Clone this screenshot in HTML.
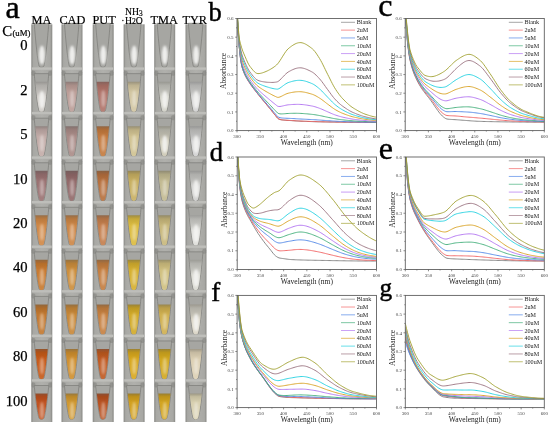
<!DOCTYPE html>
<html><head><meta charset="utf-8"><style>
html,body{margin:0;padding:0;background:#fff;}
body{width:550px;height:425px;overflow:hidden;font-family:"Liberation Serif", serif;}
svg{display:block;will-change:transform;}
</style></head><body>
<svg width="550" height="425" viewBox="0 0 550 425">
<rect width="550" height="425" fill="#fff"/>
<defs>
<linearGradient id="colg" x1="0" x2="1" y1="0" y2="0"><stop offset="0" stop-color="#878783"/><stop offset="0.1" stop-color="#a8a8a4"/><stop offset="0.5" stop-color="#b0b0ac"/><stop offset="0.9" stop-color="#a8a8a4"/><stop offset="1" stop-color="#878783"/></linearGradient>
<linearGradient id="tubeg" x1="0" x2="1" y1="0" y2="0"><stop offset="0" stop-color="#9a9a96"/><stop offset="0.3" stop-color="#b4b4b0"/><stop offset="0.6" stop-color="#c4c4c0"/><stop offset="1" stop-color="#9c9c98"/></linearGradient>
<radialGradient id="hl" cx="0.5" cy="0.5" r="0.5"><stop offset="0" stop-color="#ffffff" stop-opacity="0.85"/><stop offset="1" stop-color="#ffffff" stop-opacity="0"/></radialGradient>
<filter id="blur1" x="-50%" y="-50%" width="200%" height="200%"><feGaussianBlur stdDeviation="1.3"/></filter><filter id="blurP" x="0" y="0" width="100%" height="100%" filterUnits="userSpaceOnUse"><feGaussianBlur stdDeviation="0.55"/></filter>
</defs>
<g filter="url(#blurP)">
<rect x="31.3" y="24.3" width="21.0" height="397.7" fill="url(#colg)"/>
<rect x="61.5" y="24.3" width="21.0" height="397.7" fill="url(#colg)"/>
<rect x="92.7" y="24.3" width="21.0" height="397.7" fill="url(#colg)"/>
<rect x="123.6" y="24.3" width="21.0" height="397.7" fill="url(#colg)"/>
<rect x="154.2" y="24.3" width="21.0" height="397.7" fill="url(#colg)"/>
<rect x="185.5" y="24.3" width="21.0" height="397.7" fill="url(#colg)"/>
<g><path d="M34.20,23.30 L34.44,26.26 L34.68,29.21 L34.94,32.17 L35.19,35.13 L35.46,38.09 L35.74,41.04 L36.03,44.00 L36.33,46.96 L36.65,49.91 L36.98,52.87 L37.35,55.83 L37.74,58.79 L38.19,61.74 L38.74,64.70 C38.84,66.70 40.30,67.30 41.50,67.30 C42.70,67.30 44.16,66.70 44.26,64.70 L44.26,64.70 L44.81,61.74 L45.26,58.79 L45.65,55.83 L46.02,52.87 L46.35,49.91 L46.67,46.96 L46.97,44.00 L47.26,41.04 L47.54,38.09 L47.81,35.13 L48.06,32.17 L48.32,29.21 L48.56,26.26 L48.80,23.30 Z" fill="#a6a6a2" stroke="#7e7e7a" stroke-width="0.75"/><ellipse cx="41.9" cy="55.1" rx="3.0" ry="9.5" fill="#f6f6f4" opacity="0.9" filter="url(#blur1)"/></g>
<g><rect x="31.900000000000002" y="67.4" width="19.8" height="2.4" fill="#bebeba"/><rect x="31.6" y="70.7" width="3.8" height="5" rx="1.5" fill="#7e7e7a" opacity="0.5"/><rect x="48.199999999999996" y="70.7" width="3.8" height="5" rx="1.5" fill="#7e7e7a" opacity="0.5"/><path d="M34.20,73.65 L34.44,76.19 L34.68,78.74 L34.93,81.28 L35.18,83.82 L35.45,86.36 L35.72,88.91 L36.01,91.45 L36.31,93.99 L36.62,96.54 L36.95,99.08 L37.31,101.62 L37.70,104.16 L38.13,106.71 L38.66,109.25 C38.76,111.25 40.30,111.85 41.50,111.85 C42.70,111.85 44.24,111.25 44.34,109.25 L44.34,109.25 L44.87,106.71 L45.30,104.16 L45.69,101.62 L46.05,99.08 L46.38,96.54 L46.69,93.99 L46.99,91.45 L47.28,88.91 L47.55,86.36 L47.82,83.82 L48.07,81.28 L48.32,78.74 L48.56,76.19 L48.80,73.65 Z" fill="#a6a6a2" stroke="#7e7e7a" stroke-width="0.75"/><linearGradient id="lq1" x1="0" x2="0" y1="0" y2="1"><stop offset="0" stop-color="#969491"/><stop offset="0.12" stop-color="#afada9"/><stop offset="0.35" stop-color="#bfbcb8"/><stop offset="0.5" stop-color="#cfcbc7"/><stop offset="1" stop-color="#d3d0cc"/></linearGradient><path d="M35.26,81.65 L35.46,83.62 L35.67,85.59 L35.88,87.56 L36.09,89.54 L36.31,91.51 L36.54,93.48 L36.78,95.45 L37.03,97.42 L37.29,99.39 L37.57,101.36 L37.86,103.34 L38.18,105.31 L38.54,107.28 L38.96,109.25 C39.06,111.25 40.30,111.85 41.50,111.85 C42.70,111.85 43.94,111.25 44.04,109.25 L44.04,109.25 L44.46,107.28 L44.82,105.31 L45.14,103.34 L45.43,101.36 L45.71,99.39 L45.97,97.42 L46.22,95.45 L46.46,93.48 L46.69,91.51 L46.91,89.54 L47.12,87.56 L47.33,85.59 L47.54,83.62 L47.74,81.65 Z" fill="url(#lq1)"/><ellipse cx="41.9" cy="99.7" rx="3.0" ry="9" fill="#f6f6f4" opacity="0.85" filter="url(#blur1)"/></g>
<g><rect x="31.900000000000002" y="111.9" width="19.8" height="2.4" fill="#bebeba"/><rect x="31.6" y="115.2" width="3.8" height="5" rx="1.5" fill="#7e7e7a" opacity="0.5"/><rect x="48.199999999999996" y="115.2" width="3.8" height="5" rx="1.5" fill="#7e7e7a" opacity="0.5"/><path d="M34.20,118.20 L34.44,120.74 L34.68,123.29 L34.93,125.83 L35.18,128.37 L35.45,130.91 L35.72,133.46 L36.01,136.00 L36.31,138.54 L36.62,141.09 L36.95,143.63 L37.31,146.17 L37.70,148.71 L38.13,151.26 L38.66,153.80 C38.76,155.80 40.30,156.40 41.50,156.40 C42.70,156.40 44.24,155.80 44.34,153.80 L44.34,153.80 L44.87,151.26 L45.30,148.71 L45.69,146.17 L46.05,143.63 L46.38,141.09 L46.69,138.54 L46.99,136.00 L47.28,133.46 L47.55,130.91 L47.82,128.37 L48.07,125.83 L48.32,123.29 L48.56,120.74 L48.80,118.20 Z" fill="#a6a6a2" stroke="#7e7e7a" stroke-width="0.75"/><linearGradient id="lq2" x1="0" x2="0" y1="0" y2="1"><stop offset="0" stop-color="#8f8380"/><stop offset="0.12" stop-color="#ae9a97"/><stop offset="0.35" stop-color="#c2aca8"/><stop offset="0.5" stop-color="#c2aca8"/><stop offset="1" stop-color="#c8b4b0"/></linearGradient><path d="M35.26,126.20 L35.46,128.17 L35.67,130.14 L35.88,132.11 L36.09,134.09 L36.31,136.06 L36.54,138.03 L36.78,140.00 L37.03,141.97 L37.29,143.94 L37.57,145.91 L37.86,147.89 L38.18,149.86 L38.54,151.83 L38.96,153.80 C39.06,155.80 40.30,156.40 41.50,156.40 C42.70,156.40 43.94,155.80 44.04,153.80 L44.04,153.80 L44.46,151.83 L44.82,149.86 L45.14,147.89 L45.43,145.91 L45.71,143.94 L45.97,141.97 L46.22,140.00 L46.46,138.03 L46.69,136.06 L46.91,134.09 L47.12,132.11 L47.33,130.14 L47.54,128.17 L47.74,126.20 Z" fill="url(#lq2)"/><ellipse cx="41.9" cy="143.2" rx="2.2" ry="8.5" fill="#e3d9d7" opacity="0.7" filter="url(#blur1)"/></g>
<g><rect x="31.900000000000002" y="156.4" width="19.8" height="2.4" fill="#bebeba"/><rect x="31.6" y="159.7" width="3.8" height="5" rx="1.5" fill="#7e7e7a" opacity="0.5"/><rect x="48.199999999999996" y="159.7" width="3.8" height="5" rx="1.5" fill="#7e7e7a" opacity="0.5"/><path d="M34.20,162.75 L34.44,165.29 L34.68,167.84 L34.93,170.38 L35.18,172.92 L35.45,175.46 L35.72,178.01 L36.01,180.55 L36.31,183.09 L36.62,185.64 L36.95,188.18 L37.31,190.72 L37.70,193.26 L38.13,195.81 L38.66,198.35 C38.76,200.35 40.30,200.95 41.50,200.95 C42.70,200.95 44.24,200.35 44.34,198.35 L44.34,198.35 L44.87,195.81 L45.30,193.26 L45.69,190.72 L46.05,188.18 L46.38,185.64 L46.69,183.09 L46.99,180.55 L47.28,178.01 L47.55,175.46 L47.82,172.92 L48.07,170.38 L48.32,167.84 L48.56,165.29 L48.80,162.75 Z" fill="#a6a6a2" stroke="#7e7e7a" stroke-width="0.75"/><linearGradient id="lq3" x1="0" x2="0" y1="0" y2="1"><stop offset="0" stop-color="#786261"/><stop offset="0.12" stop-color="#8a6666"/><stop offset="0.35" stop-color="#9a7272"/><stop offset="0.5" stop-color="#9a7272"/><stop offset="1" stop-color="#a48080"/></linearGradient><path d="M35.26,170.75 L35.46,172.72 L35.67,174.69 L35.88,176.66 L36.09,178.64 L36.31,180.61 L36.54,182.58 L36.78,184.55 L37.03,186.52 L37.29,188.49 L37.57,190.46 L37.86,192.44 L38.18,194.41 L38.54,196.38 L38.96,198.35 C39.06,200.35 40.30,200.95 41.50,200.95 C42.70,200.95 43.94,200.35 44.04,198.35 L44.04,198.35 L44.46,196.38 L44.82,194.41 L45.14,192.44 L45.43,190.46 L45.71,188.49 L45.97,186.52 L46.22,184.55 L46.46,182.58 L46.69,180.61 L46.91,178.64 L47.12,176.66 L47.33,174.69 L47.54,172.72 L47.74,170.75 Z" fill="url(#lq3)"/><ellipse cx="41.9" cy="187.7" rx="2.2" ry="8.5" fill="#d1bfbf" opacity="0.7" filter="url(#blur1)"/></g>
<g><rect x="31.900000000000002" y="201.0" width="19.8" height="2.4" fill="#bebeba"/><rect x="31.6" y="204.3" width="3.8" height="5" rx="1.5" fill="#7e7e7a" opacity="0.5"/><rect x="48.199999999999996" y="204.3" width="3.8" height="5" rx="1.5" fill="#7e7e7a" opacity="0.5"/><path d="M34.20,207.30 L34.44,209.84 L34.68,212.39 L34.93,214.93 L35.18,217.47 L35.45,220.01 L35.72,222.56 L36.01,225.10 L36.31,227.64 L36.62,230.19 L36.95,232.73 L37.31,235.27 L37.70,237.81 L38.13,240.36 L38.66,242.90 C38.76,244.90 40.30,245.50 41.50,245.50 C42.70,245.50 44.24,244.90 44.34,242.90 L44.34,242.90 L44.87,240.36 L45.30,237.81 L45.69,235.27 L46.05,232.73 L46.38,230.19 L46.69,227.64 L46.99,225.10 L47.28,222.56 L47.55,220.01 L47.82,217.47 L48.07,214.93 L48.32,212.39 L48.56,209.84 L48.80,207.30 Z" fill="#a6a6a2" stroke="#7e7e7a" stroke-width="0.75"/><linearGradient id="lq4" x1="0" x2="0" y1="0" y2="1"><stop offset="0" stop-color="#976f48"/><stop offset="0.12" stop-color="#bb7a3f"/><stop offset="0.35" stop-color="#d08846"/><stop offset="0.5" stop-color="#d08846"/><stop offset="1" stop-color="#d49358"/></linearGradient><path d="M35.26,215.30 L35.46,217.27 L35.67,219.24 L35.88,221.21 L36.09,223.19 L36.31,225.16 L36.54,227.13 L36.78,229.10 L37.03,231.07 L37.29,233.04 L37.57,235.01 L37.86,236.99 L38.18,238.96 L38.54,240.93 L38.96,242.90 C39.06,244.90 40.30,245.50 41.50,245.50 C42.70,245.50 43.94,244.90 44.04,242.90 L44.04,242.90 L44.46,240.93 L44.82,238.96 L45.14,236.99 L45.43,235.01 L45.71,233.04 L45.97,231.07 L46.22,229.10 L46.46,227.13 L46.69,225.16 L46.91,223.19 L47.12,221.21 L47.33,219.24 L47.54,217.27 L47.74,215.30 Z" fill="url(#lq4)"/><ellipse cx="41.9" cy="232.3" rx="2.2" ry="8.5" fill="#e9c9ab" opacity="0.7" filter="url(#blur1)"/></g>
<g><rect x="31.900000000000002" y="245.5" width="19.8" height="2.4" fill="#bebeba"/><rect x="31.6" y="248.8" width="3.8" height="5" rx="1.5" fill="#7e7e7a" opacity="0.5"/><rect x="48.199999999999996" y="248.8" width="3.8" height="5" rx="1.5" fill="#7e7e7a" opacity="0.5"/><path d="M34.20,251.85 L34.44,254.39 L34.68,256.94 L34.93,259.48 L35.18,262.02 L35.45,264.56 L35.72,267.11 L36.01,269.65 L36.31,272.19 L36.62,274.74 L36.95,277.28 L37.31,279.82 L37.70,282.36 L38.13,284.91 L38.66,287.45 C38.76,289.45 40.30,290.05 41.50,290.05 C42.70,290.05 44.24,289.45 44.34,287.45 L44.34,287.45 L44.87,284.91 L45.30,282.36 L45.69,279.82 L46.05,277.28 L46.38,274.74 L46.69,272.19 L46.99,269.65 L47.28,267.11 L47.55,264.56 L47.82,262.02 L48.07,259.48 L48.32,256.94 L48.56,254.39 L48.80,251.85 Z" fill="#a6a6a2" stroke="#7e7e7a" stroke-width="0.75"/><linearGradient id="lq5" x1="0" x2="0" y1="0" y2="1"><stop offset="0" stop-color="#93663c"/><stop offset="0.12" stop-color="#b46d2b"/><stop offset="0.35" stop-color="#c87a30"/><stop offset="0.5" stop-color="#c87a30"/><stop offset="1" stop-color="#cd8744"/></linearGradient><path d="M35.26,259.85 L35.46,261.82 L35.67,263.79 L35.88,265.76 L36.09,267.74 L36.31,269.71 L36.54,271.68 L36.78,273.65 L37.03,275.62 L37.29,277.59 L37.57,279.56 L37.86,281.54 L38.18,283.51 L38.54,285.48 L38.96,287.45 C39.06,289.45 40.30,290.05 41.50,290.05 C42.70,290.05 43.94,289.45 44.04,287.45 L44.04,287.45 L44.46,285.48 L44.82,283.51 L45.14,281.54 L45.43,279.56 L45.71,277.59 L45.97,275.62 L46.22,273.65 L46.46,271.68 L46.69,269.71 L46.91,267.74 L47.12,265.76 L47.33,263.79 L47.54,261.82 L47.74,259.85 Z" fill="url(#lq5)"/><ellipse cx="41.9" cy="276.9" rx="2.2" ry="8.5" fill="#e6c3a1" opacity="0.7" filter="url(#blur1)"/></g>
<g><rect x="31.900000000000002" y="290.1" width="19.8" height="2.4" fill="#bebeba"/><rect x="31.6" y="293.4" width="3.8" height="5" rx="1.5" fill="#7e7e7a" opacity="0.5"/><rect x="48.199999999999996" y="293.4" width="3.8" height="5" rx="1.5" fill="#7e7e7a" opacity="0.5"/><path d="M34.20,296.40 L34.44,298.94 L34.68,301.49 L34.93,304.03 L35.18,306.57 L35.45,309.11 L35.72,311.66 L36.01,314.20 L36.31,316.74 L36.62,319.29 L36.95,321.83 L37.31,324.37 L37.70,326.91 L38.13,329.46 L38.66,332.00 C38.76,334.00 40.30,334.60 41.50,334.60 C42.70,334.60 44.24,334.00 44.34,332.00 L44.34,332.00 L44.87,329.46 L45.30,326.91 L45.69,324.37 L46.05,321.83 L46.38,319.29 L46.69,316.74 L46.99,314.20 L47.28,311.66 L47.55,309.11 L47.82,306.57 L48.07,304.03 L48.32,301.49 L48.56,298.94 L48.80,296.40 Z" fill="#a6a6a2" stroke="#7e7e7a" stroke-width="0.75"/><linearGradient id="lq6" x1="0" x2="0" y1="0" y2="1"><stop offset="0" stop-color="#8f663c"/><stop offset="0.12" stop-color="#ae6c2b"/><stop offset="0.35" stop-color="#c27830"/><stop offset="0.5" stop-color="#c27830"/><stop offset="1" stop-color="#c88544"/></linearGradient><path d="M35.26,304.40 L35.46,306.37 L35.67,308.34 L35.88,310.31 L36.09,312.29 L36.31,314.26 L36.54,316.23 L36.78,318.20 L37.03,320.17 L37.29,322.14 L37.57,324.11 L37.86,326.09 L38.18,328.06 L38.54,330.03 L38.96,332.00 C39.06,334.00 40.30,334.60 41.50,334.60 C42.70,334.60 43.94,334.00 44.04,332.00 L44.04,332.00 L44.46,330.03 L44.82,328.06 L45.14,326.09 L45.43,324.11 L45.71,322.14 L45.97,320.17 L46.22,318.20 L46.46,316.23 L46.69,314.26 L46.91,312.29 L47.12,310.31 L47.33,308.34 L47.54,306.37 L47.74,304.40 Z" fill="url(#lq6)"/><ellipse cx="41.9" cy="321.4" rx="2.2" ry="8.5" fill="#e3c2a1" opacity="0.7" filter="url(#blur1)"/></g>
<g><rect x="31.900000000000002" y="334.6" width="19.8" height="2.4" fill="#bebeba"/><rect x="31.6" y="337.9" width="3.8" height="5" rx="1.5" fill="#7e7e7a" opacity="0.5"/><rect x="48.199999999999996" y="337.9" width="3.8" height="5" rx="1.5" fill="#7e7e7a" opacity="0.5"/><path d="M34.20,340.95 L34.44,343.49 L34.68,346.04 L34.93,348.58 L35.18,351.12 L35.45,353.66 L35.72,356.21 L36.01,358.75 L36.31,361.29 L36.62,363.84 L36.95,366.38 L37.31,368.92 L37.70,371.46 L38.13,374.01 L38.66,376.55 C38.76,378.55 40.30,379.15 41.50,379.15 C42.70,379.15 44.24,378.55 44.34,376.55 L44.34,376.55 L44.87,374.01 L45.30,371.46 L45.69,368.92 L46.05,366.38 L46.38,363.84 L46.69,361.29 L46.99,358.75 L47.28,356.21 L47.55,353.66 L47.82,351.12 L48.07,348.58 L48.32,346.04 L48.56,343.49 L48.80,340.95 Z" fill="#a6a6a2" stroke="#7e7e7a" stroke-width="0.75"/><linearGradient id="lq7" x1="0" x2="0" y1="0" y2="1"><stop offset="0" stop-color="#91542f"/><stop offset="0.12" stop-color="#b25117"/><stop offset="0.35" stop-color="#c65a1a"/><stop offset="0.5" stop-color="#c65a1a"/><stop offset="1" stop-color="#cb6a30"/></linearGradient><path d="M35.26,348.95 L35.46,350.92 L35.67,352.89 L35.88,354.86 L36.09,356.84 L36.31,358.81 L36.54,360.78 L36.78,362.75 L37.03,364.72 L37.29,366.69 L37.57,368.66 L37.86,370.64 L38.18,372.61 L38.54,374.58 L38.96,376.55 C39.06,378.55 40.30,379.15 41.50,379.15 C42.70,379.15 43.94,378.55 44.04,376.55 L44.04,376.55 L44.46,374.58 L44.82,372.61 L45.14,370.64 L45.43,368.66 L45.71,366.69 L45.97,364.72 L46.22,362.75 L46.46,360.78 L46.69,358.81 L46.91,356.84 L47.12,354.86 L47.33,352.89 L47.54,350.92 L47.74,348.95 Z" fill="url(#lq7)"/><ellipse cx="41.9" cy="365.9" rx="2.2" ry="8.5" fill="#e5b497" opacity="0.7" filter="url(#blur1)"/></g>
<g><rect x="31.900000000000002" y="379.2" width="19.8" height="2.4" fill="#bebeba"/><rect x="31.6" y="382.5" width="3.8" height="5" rx="1.5" fill="#7e7e7a" opacity="0.5"/><rect x="48.199999999999996" y="382.5" width="3.8" height="5" rx="1.5" fill="#7e7e7a" opacity="0.5"/><path d="M34.20,385.50 L34.43,387.74 L34.67,389.97 L34.92,392.21 L35.17,394.44 L35.44,396.68 L35.71,398.91 L35.99,401.15 L36.28,403.39 L36.59,405.62 L36.92,407.86 L37.27,410.09 L37.65,412.33 L38.08,414.56 L38.58,416.80 C38.68,418.80 40.30,419.40 41.50,419.40 C42.70,419.40 44.32,418.80 44.42,416.80 L44.42,416.80 L44.92,414.56 L45.35,412.33 L45.73,410.09 L46.08,407.86 L46.41,405.62 L46.72,403.39 L47.01,401.15 L47.29,398.91 L47.56,396.68 L47.83,394.44 L48.08,392.21 L48.33,389.97 L48.57,387.74 L48.80,385.50 Z" fill="#a6a6a2" stroke="#7e7e7a" stroke-width="0.75"/><linearGradient id="lq8" x1="0" x2="0" y1="0" y2="1"><stop offset="0" stop-color="#8e5033"/><stop offset="0.12" stop-color="#ac491c"/><stop offset="0.35" stop-color="#c05220"/><stop offset="0.5" stop-color="#c05220"/><stop offset="1" stop-color="#c66336"/></linearGradient><path d="M35.37,393.50 L35.56,395.16 L35.75,396.83 L35.96,398.49 L36.16,400.16 L36.38,401.82 L36.60,403.49 L36.83,405.15 L37.06,406.81 L37.31,408.48 L37.58,410.14 L37.86,411.81 L38.16,413.47 L38.50,415.14 L38.88,416.80 C38.98,418.80 40.30,419.40 41.50,419.40 C42.70,419.40 44.02,418.80 44.12,416.80 L44.12,416.80 L44.50,415.14 L44.84,413.47 L45.14,411.81 L45.42,410.14 L45.69,408.48 L45.94,406.81 L46.17,405.15 L46.40,403.49 L46.62,401.82 L46.84,400.16 L47.04,398.49 L47.25,396.83 L47.44,395.16 L47.63,393.50 Z" fill="url(#lq8)"/><ellipse cx="41.9" cy="410.5" rx="2.2" ry="8.5" fill="#e2b19a" opacity="0.7" filter="url(#blur1)"/></g>
<g><path d="M64.40,23.30 L64.64,26.26 L64.88,29.21 L65.14,32.17 L65.39,35.13 L65.66,38.09 L65.94,41.04 L66.23,44.00 L66.53,46.96 L66.85,49.91 L67.18,52.87 L67.55,55.83 L67.94,58.79 L68.39,61.74 L68.94,64.70 C69.04,66.70 70.50,67.30 71.70,67.30 C72.90,67.30 74.36,66.70 74.46,64.70 L74.46,64.70 L75.01,61.74 L75.46,58.79 L75.85,55.83 L76.22,52.87 L76.55,49.91 L76.87,46.96 L77.17,44.00 L77.46,41.04 L77.74,38.09 L78.01,35.13 L78.26,32.17 L78.52,29.21 L78.76,26.26 L79.00,23.30 Z" fill="#a6a6a2" stroke="#7e7e7a" stroke-width="0.75"/><ellipse cx="72.1" cy="55.1" rx="3.0" ry="9.5" fill="#f6f6f4" opacity="0.9" filter="url(#blur1)"/></g>
<g><rect x="62.1" y="67.4" width="19.8" height="2.4" fill="#bebeba"/><rect x="61.8" y="70.7" width="3.8" height="5" rx="1.5" fill="#7e7e7a" opacity="0.5"/><rect x="78.4" y="70.7" width="3.8" height="5" rx="1.5" fill="#7e7e7a" opacity="0.5"/><path d="M64.40,73.65 L64.64,76.19 L64.88,78.74 L65.13,81.28 L65.38,83.82 L65.65,86.36 L65.92,88.91 L66.21,91.45 L66.51,93.99 L66.82,96.54 L67.15,99.08 L67.51,101.62 L67.90,104.16 L68.33,106.71 L68.86,109.25 C68.96,111.25 70.50,111.85 71.70,111.85 C72.90,111.85 74.44,111.25 74.54,109.25 L74.54,109.25 L75.07,106.71 L75.50,104.16 L75.89,101.62 L76.25,99.08 L76.58,96.54 L76.89,93.99 L77.19,91.45 L77.48,88.91 L77.75,86.36 L78.02,83.82 L78.27,81.28 L78.52,78.74 L78.76,76.19 L79.00,73.65 Z" fill="#a6a6a2" stroke="#7e7e7a" stroke-width="0.75"/><linearGradient id="lq9" x1="0" x2="0" y1="0" y2="1"><stop offset="0" stop-color="#8c7b77"/><stop offset="0.12" stop-color="#a98e88"/><stop offset="0.35" stop-color="#bc9e98"/><stop offset="0.5" stop-color="#bc9e98"/><stop offset="1" stop-color="#c2a7a2"/></linearGradient><path d="M65.46,81.65 L65.66,83.62 L65.87,85.59 L66.08,87.56 L66.29,89.54 L66.51,91.51 L66.74,93.48 L66.98,95.45 L67.23,97.42 L67.49,99.39 L67.77,101.36 L68.06,103.34 L68.38,105.31 L68.74,107.28 L69.16,109.25 C69.26,111.25 70.50,111.85 71.70,111.85 C72.90,111.85 74.14,111.25 74.24,109.25 L74.24,109.25 L74.66,107.28 L75.02,105.31 L75.34,103.34 L75.63,101.36 L75.91,99.39 L76.17,97.42 L76.42,95.45 L76.66,93.48 L76.89,91.51 L77.11,89.54 L77.32,87.56 L77.53,85.59 L77.74,83.62 L77.94,81.65 Z" fill="url(#lq9)"/><ellipse cx="72.1" cy="98.7" rx="2.2" ry="8.5" fill="#e0d3d0" opacity="0.7" filter="url(#blur1)"/></g>
<g><rect x="62.1" y="111.9" width="19.8" height="2.4" fill="#bebeba"/><rect x="61.8" y="115.2" width="3.8" height="5" rx="1.5" fill="#7e7e7a" opacity="0.5"/><rect x="78.4" y="115.2" width="3.8" height="5" rx="1.5" fill="#7e7e7a" opacity="0.5"/><path d="M64.40,118.20 L64.64,120.74 L64.88,123.29 L65.13,125.83 L65.38,128.37 L65.65,130.91 L65.92,133.46 L66.21,136.00 L66.51,138.54 L66.82,141.09 L67.15,143.63 L67.51,146.17 L67.90,148.71 L68.33,151.26 L68.86,153.80 C68.96,155.80 70.50,156.40 71.70,156.40 C72.90,156.40 74.44,155.80 74.54,153.80 L74.54,153.80 L75.07,151.26 L75.50,148.71 L75.89,146.17 L76.25,143.63 L76.58,141.09 L76.89,138.54 L77.19,136.00 L77.48,133.46 L77.75,130.91 L78.02,128.37 L78.27,125.83 L78.52,123.29 L78.76,120.74 L79.00,118.20 Z" fill="#a6a6a2" stroke="#7e7e7a" stroke-width="0.75"/><linearGradient id="lq10" x1="0" x2="0" y1="0" y2="1"><stop offset="0" stop-color="#81716e"/><stop offset="0.12" stop-color="#997e7a"/><stop offset="0.35" stop-color="#aa8c88"/><stop offset="0.5" stop-color="#aa8c88"/><stop offset="1" stop-color="#b29793"/></linearGradient><path d="M65.46,126.20 L65.66,128.17 L65.87,130.14 L66.08,132.11 L66.29,134.09 L66.51,136.06 L66.74,138.03 L66.98,140.00 L67.23,141.97 L67.49,143.94 L67.77,145.91 L68.06,147.89 L68.38,149.86 L68.74,151.83 L69.16,153.80 C69.26,155.80 70.50,156.40 71.70,156.40 C72.90,156.40 74.14,155.80 74.24,153.80 L74.24,153.80 L74.66,151.83 L75.02,149.86 L75.34,147.89 L75.63,145.91 L75.91,143.94 L76.17,141.97 L76.42,140.00 L76.66,138.03 L76.89,136.06 L77.11,134.09 L77.32,132.11 L77.53,130.14 L77.74,128.17 L77.94,126.20 Z" fill="url(#lq10)"/><ellipse cx="72.1" cy="143.2" rx="2.2" ry="8.5" fill="#d8cbc9" opacity="0.7" filter="url(#blur1)"/></g>
<g><rect x="62.1" y="156.4" width="19.8" height="2.4" fill="#bebeba"/><rect x="61.8" y="159.7" width="3.8" height="5" rx="1.5" fill="#7e7e7a" opacity="0.5"/><rect x="78.4" y="159.7" width="3.8" height="5" rx="1.5" fill="#7e7e7a" opacity="0.5"/><path d="M64.40,162.75 L64.64,165.29 L64.88,167.84 L65.13,170.38 L65.38,172.92 L65.65,175.46 L65.92,178.01 L66.21,180.55 L66.51,183.09 L66.82,185.64 L67.15,188.18 L67.51,190.72 L67.90,193.26 L68.33,195.81 L68.86,198.35 C68.96,200.35 70.50,200.95 71.70,200.95 C72.90,200.95 74.44,200.35 74.54,198.35 L74.54,198.35 L75.07,195.81 L75.50,193.26 L75.89,190.72 L76.25,188.18 L76.58,185.64 L76.89,183.09 L77.19,180.55 L77.48,178.01 L77.75,175.46 L78.02,172.92 L78.27,170.38 L78.52,167.84 L78.76,165.29 L79.00,162.75 Z" fill="#a6a6a2" stroke="#7e7e7a" stroke-width="0.75"/><linearGradient id="lq11" x1="0" x2="0" y1="0" y2="1"><stop offset="0" stop-color="#745d5c"/><stop offset="0.12" stop-color="#835f5f"/><stop offset="0.35" stop-color="#926a6a"/><stop offset="0.5" stop-color="#926a6a"/><stop offset="1" stop-color="#9c7878"/></linearGradient><path d="M65.46,170.75 L65.66,172.72 L65.87,174.69 L66.08,176.66 L66.29,178.64 L66.51,180.61 L66.74,182.58 L66.98,184.55 L67.23,186.52 L67.49,188.49 L67.77,190.46 L68.06,192.44 L68.38,194.41 L68.74,196.38 L69.16,198.35 C69.26,200.35 70.50,200.95 71.70,200.95 C72.90,200.95 74.14,200.35 74.24,198.35 L74.24,198.35 L74.66,196.38 L75.02,194.41 L75.34,192.44 L75.63,190.46 L75.91,188.49 L76.17,186.52 L76.42,184.55 L76.66,182.58 L76.89,180.61 L77.11,178.64 L77.32,176.66 L77.53,174.69 L77.74,172.72 L77.94,170.75 Z" fill="url(#lq11)"/><ellipse cx="72.1" cy="187.7" rx="2.2" ry="8.5" fill="#cdbbbb" opacity="0.7" filter="url(#blur1)"/></g>
<g><rect x="62.1" y="201.0" width="19.8" height="2.4" fill="#bebeba"/><rect x="61.8" y="204.3" width="3.8" height="5" rx="1.5" fill="#7e7e7a" opacity="0.5"/><rect x="78.4" y="204.3" width="3.8" height="5" rx="1.5" fill="#7e7e7a" opacity="0.5"/><path d="M64.40,207.30 L64.64,209.84 L64.88,212.39 L65.13,214.93 L65.38,217.47 L65.65,220.01 L65.92,222.56 L66.21,225.10 L66.51,227.64 L66.82,230.19 L67.15,232.73 L67.51,235.27 L67.90,237.81 L68.33,240.36 L68.86,242.90 C68.96,244.90 70.50,245.50 71.70,245.50 C72.90,245.50 74.44,244.90 74.54,242.90 L74.54,242.90 L75.07,240.36 L75.50,237.81 L75.89,235.27 L76.25,232.73 L76.58,230.19 L76.89,227.64 L77.19,225.10 L77.48,222.56 L77.75,220.01 L78.02,217.47 L78.27,214.93 L78.52,212.39 L78.76,209.84 L79.00,207.30 Z" fill="#a6a6a2" stroke="#7e7e7a" stroke-width="0.75"/><linearGradient id="lq12" x1="0" x2="0" y1="0" y2="1"><stop offset="0" stop-color="#956d48"/><stop offset="0.12" stop-color="#b7783f"/><stop offset="0.35" stop-color="#cc8646"/><stop offset="0.5" stop-color="#cc8646"/><stop offset="1" stop-color="#d19258"/></linearGradient><path d="M65.46,215.30 L65.66,217.27 L65.87,219.24 L66.08,221.21 L66.29,223.19 L66.51,225.16 L66.74,227.13 L66.98,229.10 L67.23,231.07 L67.49,233.04 L67.77,235.01 L68.06,236.99 L68.38,238.96 L68.74,240.93 L69.16,242.90 C69.26,244.90 70.50,245.50 71.70,245.50 C72.90,245.50 74.14,244.90 74.24,242.90 L74.24,242.90 L74.66,240.93 L75.02,238.96 L75.34,236.99 L75.63,235.01 L75.91,233.04 L76.17,231.07 L76.42,229.10 L76.66,227.13 L76.89,225.16 L77.11,223.19 L77.32,221.21 L77.53,219.24 L77.74,217.27 L77.94,215.30 Z" fill="url(#lq12)"/><ellipse cx="72.1" cy="232.3" rx="2.2" ry="8.5" fill="#e8c8ab" opacity="0.7" filter="url(#blur1)"/></g>
<g><rect x="62.1" y="245.5" width="19.8" height="2.4" fill="#bebeba"/><rect x="61.8" y="248.8" width="3.8" height="5" rx="1.5" fill="#7e7e7a" opacity="0.5"/><rect x="78.4" y="248.8" width="3.8" height="5" rx="1.5" fill="#7e7e7a" opacity="0.5"/><path d="M64.40,251.85 L64.64,254.39 L64.88,256.94 L65.13,259.48 L65.38,262.02 L65.65,264.56 L65.92,267.11 L66.21,269.65 L66.51,272.19 L66.82,274.74 L67.15,277.28 L67.51,279.82 L67.90,282.36 L68.33,284.91 L68.86,287.45 C68.96,289.45 70.50,290.05 71.70,290.05 C72.90,290.05 74.44,289.45 74.54,287.45 L74.54,287.45 L75.07,284.91 L75.50,282.36 L75.89,279.82 L76.25,277.28 L76.58,274.74 L76.89,272.19 L77.19,269.65 L77.48,267.11 L77.75,264.56 L78.02,262.02 L78.27,259.48 L78.52,256.94 L78.76,254.39 L79.00,251.85 Z" fill="#a6a6a2" stroke="#7e7e7a" stroke-width="0.75"/><linearGradient id="lq13" x1="0" x2="0" y1="0" y2="1"><stop offset="0" stop-color="#957243"/><stop offset="0.12" stop-color="#b77f36"/><stop offset="0.35" stop-color="#cc8e3c"/><stop offset="0.5" stop-color="#cc8e3c"/><stop offset="1" stop-color="#d1994f"/></linearGradient><path d="M65.46,259.85 L65.66,261.82 L65.87,263.79 L66.08,265.76 L66.29,267.74 L66.51,269.71 L66.74,271.68 L66.98,273.65 L67.23,275.62 L67.49,277.59 L67.77,279.56 L68.06,281.54 L68.38,283.51 L68.74,285.48 L69.16,287.45 C69.26,289.45 70.50,290.05 71.70,290.05 C72.90,290.05 74.14,289.45 74.24,287.45 L74.24,287.45 L74.66,285.48 L75.02,283.51 L75.34,281.54 L75.63,279.56 L75.91,277.59 L76.17,275.62 L76.42,273.65 L76.66,271.68 L76.89,269.71 L77.11,267.74 L77.32,265.76 L77.53,263.79 L77.74,261.82 L77.94,259.85 Z" fill="url(#lq13)"/><ellipse cx="72.1" cy="276.9" rx="2.2" ry="8.5" fill="#e8cca7" opacity="0.7" filter="url(#blur1)"/></g>
<g><rect x="62.1" y="290.1" width="19.8" height="2.4" fill="#bebeba"/><rect x="61.8" y="293.4" width="3.8" height="5" rx="1.5" fill="#7e7e7a" opacity="0.5"/><rect x="78.4" y="293.4" width="3.8" height="5" rx="1.5" fill="#7e7e7a" opacity="0.5"/><path d="M64.40,296.40 L64.64,298.94 L64.88,301.49 L65.13,304.03 L65.38,306.57 L65.65,309.11 L65.92,311.66 L66.21,314.20 L66.51,316.74 L66.82,319.29 L67.15,321.83 L67.51,324.37 L67.90,326.91 L68.33,329.46 L68.86,332.00 C68.96,334.00 70.50,334.60 71.70,334.60 C72.90,334.60 74.44,334.00 74.54,332.00 L74.54,332.00 L75.07,329.46 L75.50,326.91 L75.89,324.37 L76.25,321.83 L76.58,319.29 L76.89,316.74 L77.19,314.20 L77.48,311.66 L77.75,309.11 L78.02,306.57 L78.27,304.03 L78.52,301.49 L78.76,298.94 L79.00,296.40 Z" fill="#a6a6a2" stroke="#7e7e7a" stroke-width="0.75"/><linearGradient id="lq14" x1="0" x2="0" y1="0" y2="1"><stop offset="0" stop-color="#936f41"/><stop offset="0.12" stop-color="#b47a32"/><stop offset="0.35" stop-color="#c88838"/><stop offset="0.5" stop-color="#c88838"/><stop offset="1" stop-color="#cd934b"/></linearGradient><path d="M65.46,304.40 L65.66,306.37 L65.87,308.34 L66.08,310.31 L66.29,312.29 L66.51,314.26 L66.74,316.23 L66.98,318.20 L67.23,320.17 L67.49,322.14 L67.77,324.11 L68.06,326.09 L68.38,328.06 L68.74,330.03 L69.16,332.00 C69.26,334.00 70.50,334.60 71.70,334.60 C72.90,334.60 74.14,334.00 74.24,332.00 L74.24,332.00 L74.66,330.03 L75.02,328.06 L75.34,326.09 L75.63,324.11 L75.91,322.14 L76.17,320.17 L76.42,318.20 L76.66,316.23 L76.89,314.26 L77.11,312.29 L77.32,310.31 L77.53,308.34 L77.74,306.37 L77.94,304.40 Z" fill="url(#lq14)"/><ellipse cx="72.1" cy="321.4" rx="2.2" ry="8.5" fill="#e6c9a5" opacity="0.7" filter="url(#blur1)"/></g>
<g><rect x="62.1" y="334.6" width="19.8" height="2.4" fill="#bebeba"/><rect x="61.8" y="337.9" width="3.8" height="5" rx="1.5" fill="#7e7e7a" opacity="0.5"/><rect x="78.4" y="337.9" width="3.8" height="5" rx="1.5" fill="#7e7e7a" opacity="0.5"/><path d="M64.40,340.95 L64.64,343.49 L64.88,346.04 L65.13,348.58 L65.38,351.12 L65.65,353.66 L65.92,356.21 L66.21,358.75 L66.51,361.29 L66.82,363.84 L67.15,366.38 L67.51,368.92 L67.90,371.46 L68.33,374.01 L68.86,376.55 C68.96,378.55 70.50,379.15 71.70,379.15 C72.90,379.15 74.44,378.55 74.54,376.55 L74.54,376.55 L75.07,374.01 L75.50,371.46 L75.89,368.92 L76.25,366.38 L76.58,363.84 L76.89,361.29 L77.19,358.75 L77.48,356.21 L77.75,353.66 L78.02,351.12 L78.27,348.58 L78.52,346.04 L78.76,343.49 L79.00,340.95 Z" fill="#a6a6a2" stroke="#7e7e7a" stroke-width="0.75"/><linearGradient id="lq15" x1="0" x2="0" y1="0" y2="1"><stop offset="0" stop-color="#97733c"/><stop offset="0.12" stop-color="#bb812b"/><stop offset="0.35" stop-color="#d09030"/><stop offset="0.5" stop-color="#d09030"/><stop offset="1" stop-color="#d49b44"/></linearGradient><path d="M65.46,348.95 L65.66,350.92 L65.87,352.89 L66.08,354.86 L66.29,356.84 L66.51,358.81 L66.74,360.78 L66.98,362.75 L67.23,364.72 L67.49,366.69 L67.77,368.66 L68.06,370.64 L68.38,372.61 L68.74,374.58 L69.16,376.55 C69.26,378.55 70.50,379.15 71.70,379.15 C72.90,379.15 74.14,378.55 74.24,376.55 L74.24,376.55 L74.66,374.58 L75.02,372.61 L75.34,370.64 L75.63,368.66 L75.91,366.69 L76.17,364.72 L76.42,362.75 L76.66,360.78 L76.89,358.81 L77.11,356.84 L77.32,354.86 L77.53,352.89 L77.74,350.92 L77.94,348.95 Z" fill="url(#lq15)"/><ellipse cx="72.1" cy="365.9" rx="2.2" ry="8.5" fill="#e9cda1" opacity="0.7" filter="url(#blur1)"/></g>
<g><rect x="62.1" y="379.2" width="19.8" height="2.4" fill="#bebeba"/><rect x="61.8" y="382.5" width="3.8" height="5" rx="1.5" fill="#7e7e7a" opacity="0.5"/><rect x="78.4" y="382.5" width="3.8" height="5" rx="1.5" fill="#7e7e7a" opacity="0.5"/><path d="M64.40,385.50 L64.63,387.74 L64.87,389.97 L65.12,392.21 L65.37,394.44 L65.64,396.68 L65.91,398.91 L66.19,401.15 L66.48,403.39 L66.79,405.62 L67.12,407.86 L67.47,410.09 L67.85,412.33 L68.28,414.56 L68.78,416.80 C68.88,418.80 70.50,419.40 71.70,419.40 C72.90,419.40 74.52,418.80 74.62,416.80 L74.62,416.80 L75.12,414.56 L75.55,412.33 L75.93,410.09 L76.28,407.86 L76.61,405.62 L76.92,403.39 L77.21,401.15 L77.49,398.91 L77.76,396.68 L78.03,394.44 L78.28,392.21 L78.53,389.97 L78.77,387.74 L79.00,385.50 Z" fill="#a6a6a2" stroke="#7e7e7a" stroke-width="0.75"/><linearGradient id="lq16" x1="0" x2="0" y1="0" y2="1"><stop offset="0" stop-color="#97783c"/><stop offset="0.12" stop-color="#bb882b"/><stop offset="0.35" stop-color="#d09830"/><stop offset="0.5" stop-color="#d09830"/><stop offset="1" stop-color="#d4a244"/></linearGradient><path d="M65.57,393.50 L65.76,395.16 L65.95,396.83 L66.16,398.49 L66.36,400.16 L66.58,401.82 L66.80,403.49 L67.03,405.15 L67.26,406.81 L67.51,408.48 L67.78,410.14 L68.06,411.81 L68.36,413.47 L68.70,415.14 L69.08,416.80 C69.18,418.80 70.50,419.40 71.70,419.40 C72.90,419.40 74.22,418.80 74.32,416.80 L74.32,416.80 L74.70,415.14 L75.04,413.47 L75.34,411.81 L75.62,410.14 L75.89,408.48 L76.14,406.81 L76.37,405.15 L76.60,403.49 L76.82,401.82 L77.04,400.16 L77.24,398.49 L77.45,396.83 L77.64,395.16 L77.83,393.50 Z" fill="url(#lq16)"/><ellipse cx="72.1" cy="410.5" rx="2.2" ry="8.5" fill="#e9d0a1" opacity="0.7" filter="url(#blur1)"/></g>
<g><path d="M95.60,23.30 L95.84,26.26 L96.08,29.21 L96.34,32.17 L96.59,35.13 L96.86,38.09 L97.14,41.04 L97.43,44.00 L97.73,46.96 L98.05,49.91 L98.38,52.87 L98.75,55.83 L99.14,58.79 L99.59,61.74 L100.14,64.70 C100.24,66.70 101.70,67.30 102.90,67.30 C104.10,67.30 105.56,66.70 105.66,64.70 L105.66,64.70 L106.21,61.74 L106.66,58.79 L107.05,55.83 L107.42,52.87 L107.75,49.91 L108.07,46.96 L108.37,44.00 L108.66,41.04 L108.94,38.09 L109.21,35.13 L109.46,32.17 L109.72,29.21 L109.96,26.26 L110.20,23.30 Z" fill="#a6a6a2" stroke="#7e7e7a" stroke-width="0.75"/><ellipse cx="103.3" cy="55.1" rx="3.0" ry="9.5" fill="#f6f6f4" opacity="0.9" filter="url(#blur1)"/></g>
<g><rect x="93.3" y="67.4" width="19.8" height="2.4" fill="#bebeba"/><rect x="93.0" y="70.7" width="3.8" height="5" rx="1.5" fill="#7e7e7a" opacity="0.5"/><rect x="109.60000000000001" y="70.7" width="3.8" height="5" rx="1.5" fill="#7e7e7a" opacity="0.5"/><path d="M95.60,73.65 L95.84,76.19 L96.08,78.74 L96.33,81.28 L96.58,83.82 L96.85,86.36 L97.12,88.91 L97.41,91.45 L97.71,93.99 L98.02,96.54 L98.35,99.08 L98.71,101.62 L99.10,104.16 L99.53,106.71 L100.06,109.25 C100.16,111.25 101.70,111.85 102.90,111.85 C104.10,111.85 105.64,111.25 105.74,109.25 L105.74,109.25 L106.27,106.71 L106.70,104.16 L107.09,101.62 L107.45,99.08 L107.78,96.54 L108.09,93.99 L108.39,91.45 L108.68,88.91 L108.95,86.36 L109.22,83.82 L109.47,81.28 L109.72,78.74 L109.96,76.19 L110.20,73.65 Z" fill="#a6a6a2" stroke="#7e7e7a" stroke-width="0.75"/><linearGradient id="lq17" x1="0" x2="0" y1="0" y2="1"><stop offset="0" stop-color="#85635c"/><stop offset="0.12" stop-color="#9e685f"/><stop offset="0.35" stop-color="#b0746a"/><stop offset="0.5" stop-color="#b0746a"/><stop offset="1" stop-color="#b78178"/></linearGradient><path d="M96.66,81.65 L96.86,83.62 L97.07,85.59 L97.28,87.56 L97.49,89.54 L97.71,91.51 L97.94,93.48 L98.18,95.45 L98.43,97.42 L98.69,99.39 L98.97,101.36 L99.26,103.34 L99.58,105.31 L99.94,107.28 L100.36,109.25 C100.46,111.25 101.70,111.85 102.90,111.85 C104.10,111.85 105.34,111.25 105.44,109.25 L105.44,109.25 L105.86,107.28 L106.22,105.31 L106.54,103.34 L106.83,101.36 L107.11,99.39 L107.37,97.42 L107.62,95.45 L107.86,93.48 L108.09,91.51 L108.31,89.54 L108.52,87.56 L108.73,85.59 L108.94,83.62 L109.14,81.65 Z" fill="url(#lq17)"/><ellipse cx="103.3" cy="98.7" rx="2.2" ry="8.5" fill="#dbc0bb" opacity="0.7" filter="url(#blur1)"/></g>
<g><rect x="93.3" y="111.9" width="19.8" height="2.4" fill="#bebeba"/><rect x="93.0" y="115.2" width="3.8" height="5" rx="1.5" fill="#7e7e7a" opacity="0.5"/><rect x="109.60000000000001" y="115.2" width="3.8" height="5" rx="1.5" fill="#7e7e7a" opacity="0.5"/><path d="M95.60,118.20 L95.84,120.74 L96.08,123.29 L96.33,125.83 L96.58,128.37 L96.85,130.91 L97.12,133.46 L97.41,136.00 L97.71,138.54 L98.02,141.09 L98.35,143.63 L98.71,146.17 L99.10,148.71 L99.53,151.26 L100.06,153.80 C100.16,155.80 101.70,156.40 102.90,156.40 C104.10,156.40 105.64,155.80 105.74,153.80 L105.74,153.80 L106.27,151.26 L106.70,148.71 L107.09,146.17 L107.45,143.63 L107.78,141.09 L108.09,138.54 L108.39,136.00 L108.68,133.46 L108.95,130.91 L109.22,128.37 L109.47,125.83 L109.72,123.29 L109.96,120.74 L110.20,118.20 Z" fill="#a6a6a2" stroke="#7e7e7a" stroke-width="0.75"/><linearGradient id="lq18" x1="0" x2="0" y1="0" y2="1"><stop offset="0" stop-color="#906644"/><stop offset="0.12" stop-color="#b06d37"/><stop offset="0.35" stop-color="#c47a3e"/><stop offset="0.5" stop-color="#c47a3e"/><stop offset="1" stop-color="#c98751"/></linearGradient><path d="M96.66,126.20 L96.86,128.17 L97.07,130.14 L97.28,132.11 L97.49,134.09 L97.71,136.06 L97.94,138.03 L98.18,140.00 L98.43,141.97 L98.69,143.94 L98.97,145.91 L99.26,147.89 L99.58,149.86 L99.94,151.83 L100.36,153.80 C100.46,155.80 101.70,156.40 102.90,156.40 C104.10,156.40 105.34,155.80 105.44,153.80 L105.44,153.80 L105.86,151.83 L106.22,149.86 L106.54,147.89 L106.83,145.91 L107.11,143.94 L107.37,141.97 L107.62,140.00 L107.86,138.03 L108.09,136.06 L108.31,134.09 L108.52,132.11 L108.73,130.14 L108.94,128.17 L109.14,126.20 Z" fill="url(#lq18)"/><ellipse cx="103.3" cy="143.2" rx="2.2" ry="8.5" fill="#e4c3a8" opacity="0.7" filter="url(#blur1)"/></g>
<g><rect x="93.3" y="156.4" width="19.8" height="2.4" fill="#bebeba"/><rect x="93.0" y="159.7" width="3.8" height="5" rx="1.5" fill="#7e7e7a" opacity="0.5"/><rect x="109.60000000000001" y="159.7" width="3.8" height="5" rx="1.5" fill="#7e7e7a" opacity="0.5"/><path d="M95.60,162.75 L95.84,165.29 L96.08,167.84 L96.33,170.38 L96.58,172.92 L96.85,175.46 L97.12,178.01 L97.41,180.55 L97.71,183.09 L98.02,185.64 L98.35,188.18 L98.71,190.72 L99.10,193.26 L99.53,195.81 L100.06,198.35 C100.16,200.35 101.70,200.95 102.90,200.95 C104.10,200.95 105.64,200.35 105.74,198.35 L105.74,198.35 L106.27,195.81 L106.70,193.26 L107.09,190.72 L107.45,188.18 L107.78,185.64 L108.09,183.09 L108.39,180.55 L108.68,178.01 L108.95,175.46 L109.22,172.92 L109.47,170.38 L109.72,167.84 L109.96,165.29 L110.20,162.75 Z" fill="#a6a6a2" stroke="#7e7e7a" stroke-width="0.75"/><linearGradient id="lq19" x1="0" x2="0" y1="0" y2="1"><stop offset="0" stop-color="#886144"/><stop offset="0.12" stop-color="#a36437"/><stop offset="0.35" stop-color="#b6703e"/><stop offset="0.5" stop-color="#b6703e"/><stop offset="1" stop-color="#bd7e51"/></linearGradient><path d="M96.66,170.75 L96.86,172.72 L97.07,174.69 L97.28,176.66 L97.49,178.64 L97.71,180.61 L97.94,182.58 L98.18,184.55 L98.43,186.52 L98.69,188.49 L98.97,190.46 L99.26,192.44 L99.58,194.41 L99.94,196.38 L100.36,198.35 C100.46,200.35 101.70,200.95 102.90,200.95 C104.10,200.95 105.34,200.35 105.44,198.35 L105.44,198.35 L105.86,196.38 L106.22,194.41 L106.54,192.44 L106.83,190.46 L107.11,188.49 L107.37,186.52 L107.62,184.55 L107.86,182.58 L108.09,180.61 L108.31,178.64 L108.52,176.66 L108.73,174.69 L108.94,172.72 L109.14,170.75 Z" fill="url(#lq19)"/><ellipse cx="103.3" cy="187.7" rx="2.2" ry="8.5" fill="#debea8" opacity="0.7" filter="url(#blur1)"/></g>
<g><rect x="93.3" y="201.0" width="19.8" height="2.4" fill="#bebeba"/><rect x="93.0" y="204.3" width="3.8" height="5" rx="1.5" fill="#7e7e7a" opacity="0.5"/><rect x="109.60000000000001" y="204.3" width="3.8" height="5" rx="1.5" fill="#7e7e7a" opacity="0.5"/><path d="M95.60,207.30 L95.84,209.84 L96.08,212.39 L96.33,214.93 L96.58,217.47 L96.85,220.01 L97.12,222.56 L97.41,225.10 L97.71,227.64 L98.02,230.19 L98.35,232.73 L98.71,235.27 L99.10,237.81 L99.53,240.36 L100.06,242.90 C100.16,244.90 101.70,245.50 102.90,245.50 C104.10,245.50 105.64,244.90 105.74,242.90 L105.74,242.90 L106.27,240.36 L106.70,237.81 L107.09,235.27 L107.45,232.73 L107.78,230.19 L108.09,227.64 L108.39,225.10 L108.68,222.56 L108.95,220.01 L109.22,217.47 L109.47,214.93 L109.72,212.39 L109.96,209.84 L110.20,207.30 Z" fill="#a6a6a2" stroke="#7e7e7a" stroke-width="0.75"/><linearGradient id="lq20" x1="0" x2="0" y1="0" y2="1"><stop offset="0" stop-color="#90694c"/><stop offset="0.12" stop-color="#b07144"/><stop offset="0.35" stop-color="#c47e4c"/><stop offset="0.5" stop-color="#c47e4c"/><stop offset="1" stop-color="#c98a5d"/></linearGradient><path d="M96.66,215.30 L96.86,217.27 L97.07,219.24 L97.28,221.21 L97.49,223.19 L97.71,225.16 L97.94,227.13 L98.18,229.10 L98.43,231.07 L98.69,233.04 L98.97,235.01 L99.26,236.99 L99.58,238.96 L99.94,240.93 L100.36,242.90 C100.46,244.90 101.70,245.50 102.90,245.50 C104.10,245.50 105.34,244.90 105.44,242.90 L105.44,242.90 L105.86,240.93 L106.22,238.96 L106.54,236.99 L106.83,235.01 L107.11,233.04 L107.37,231.07 L107.62,229.10 L107.86,227.13 L108.09,225.16 L108.31,223.19 L108.52,221.21 L108.73,219.24 L108.94,217.27 L109.14,215.30 Z" fill="url(#lq20)"/><ellipse cx="103.3" cy="232.3" rx="2.2" ry="8.5" fill="#e4c4ae" opacity="0.7" filter="url(#blur1)"/></g>
<g><rect x="93.3" y="245.5" width="19.8" height="2.4" fill="#bebeba"/><rect x="93.0" y="248.8" width="3.8" height="5" rx="1.5" fill="#7e7e7a" opacity="0.5"/><rect x="109.60000000000001" y="248.8" width="3.8" height="5" rx="1.5" fill="#7e7e7a" opacity="0.5"/><path d="M95.60,251.85 L95.84,254.39 L96.08,256.94 L96.33,259.48 L96.58,262.02 L96.85,264.56 L97.12,267.11 L97.41,269.65 L97.71,272.19 L98.02,274.74 L98.35,277.28 L98.71,279.82 L99.10,282.36 L99.53,284.91 L100.06,287.45 C100.16,289.45 101.70,290.05 102.90,290.05 C104.10,290.05 105.64,289.45 105.74,287.45 L105.74,287.45 L106.27,284.91 L106.70,282.36 L107.09,279.82 L107.45,277.28 L107.78,274.74 L108.09,272.19 L108.39,269.65 L108.68,267.11 L108.95,264.56 L109.22,262.02 L109.47,259.48 L109.72,256.94 L109.96,254.39 L110.20,251.85 Z" fill="#a6a6a2" stroke="#7e7e7a" stroke-width="0.75"/><linearGradient id="lq21" x1="0" x2="0" y1="0" y2="1"><stop offset="0" stop-color="#906945"/><stop offset="0.12" stop-color="#b07139"/><stop offset="0.35" stop-color="#c47e40"/><stop offset="0.5" stop-color="#c47e40"/><stop offset="1" stop-color="#c98a53"/></linearGradient><path d="M96.66,259.85 L96.86,261.82 L97.07,263.79 L97.28,265.76 L97.49,267.74 L97.71,269.71 L97.94,271.68 L98.18,273.65 L98.43,275.62 L98.69,277.59 L98.97,279.56 L99.26,281.54 L99.58,283.51 L99.94,285.48 L100.36,287.45 C100.46,289.45 101.70,290.05 102.90,290.05 C104.10,290.05 105.34,289.45 105.44,287.45 L105.44,287.45 L105.86,285.48 L106.22,283.51 L106.54,281.54 L106.83,279.56 L107.11,277.59 L107.37,275.62 L107.62,273.65 L107.86,271.68 L108.09,269.71 L108.31,267.74 L108.52,265.76 L108.73,263.79 L108.94,261.82 L109.14,259.85 Z" fill="url(#lq21)"/><ellipse cx="103.3" cy="276.9" rx="2.2" ry="8.5" fill="#e4c4a9" opacity="0.7" filter="url(#blur1)"/></g>
<g><rect x="93.3" y="290.1" width="19.8" height="2.4" fill="#bebeba"/><rect x="93.0" y="293.4" width="3.8" height="5" rx="1.5" fill="#7e7e7a" opacity="0.5"/><rect x="109.60000000000001" y="293.4" width="3.8" height="5" rx="1.5" fill="#7e7e7a" opacity="0.5"/><path d="M95.60,296.40 L95.84,298.94 L96.08,301.49 L96.33,304.03 L96.58,306.57 L96.85,309.11 L97.12,311.66 L97.41,314.20 L97.71,316.74 L98.02,319.29 L98.35,321.83 L98.71,324.37 L99.10,326.91 L99.53,329.46 L100.06,332.00 C100.16,334.00 101.70,334.60 102.90,334.60 C104.10,334.60 105.64,334.00 105.74,332.00 L105.74,332.00 L106.27,329.46 L106.70,326.91 L107.09,324.37 L107.45,321.83 L107.78,319.29 L108.09,316.74 L108.39,314.20 L108.68,311.66 L108.95,309.11 L109.22,306.57 L109.47,304.03 L109.72,301.49 L109.96,298.94 L110.20,296.40 Z" fill="#a6a6a2" stroke="#7e7e7a" stroke-width="0.75"/><linearGradient id="lq22" x1="0" x2="0" y1="0" y2="1"><stop offset="0" stop-color="#916a45"/><stop offset="0.12" stop-color="#b27339"/><stop offset="0.35" stop-color="#c68040"/><stop offset="0.5" stop-color="#c68040"/><stop offset="1" stop-color="#cb8c53"/></linearGradient><path d="M96.66,304.40 L96.86,306.37 L97.07,308.34 L97.28,310.31 L97.49,312.29 L97.71,314.26 L97.94,316.23 L98.18,318.20 L98.43,320.17 L98.69,322.14 L98.97,324.11 L99.26,326.09 L99.58,328.06 L99.94,330.03 L100.36,332.00 C100.46,334.00 101.70,334.60 102.90,334.60 C104.10,334.60 105.34,334.00 105.44,332.00 L105.44,332.00 L105.86,330.03 L106.22,328.06 L106.54,326.09 L106.83,324.11 L107.11,322.14 L107.37,320.17 L107.62,318.20 L107.86,316.23 L108.09,314.26 L108.31,312.29 L108.52,310.31 L108.73,308.34 L108.94,306.37 L109.14,304.40 Z" fill="url(#lq22)"/><ellipse cx="103.3" cy="321.4" rx="2.2" ry="8.5" fill="#e5c5a9" opacity="0.7" filter="url(#blur1)"/></g>
<g><rect x="93.3" y="334.6" width="19.8" height="2.4" fill="#bebeba"/><rect x="93.0" y="337.9" width="3.8" height="5" rx="1.5" fill="#7e7e7a" opacity="0.5"/><rect x="109.60000000000001" y="337.9" width="3.8" height="5" rx="1.5" fill="#7e7e7a" opacity="0.5"/><path d="M95.60,340.95 L95.84,343.49 L96.08,346.04 L96.33,348.58 L96.58,351.12 L96.85,353.66 L97.12,356.21 L97.41,358.75 L97.71,361.29 L98.02,363.84 L98.35,366.38 L98.71,368.92 L99.10,371.46 L99.53,374.01 L100.06,376.55 C100.16,378.55 101.70,379.15 102.90,379.15 C104.10,379.15 105.64,378.55 105.74,376.55 L105.74,376.55 L106.27,374.01 L106.70,371.46 L107.09,368.92 L107.45,366.38 L107.78,363.84 L108.09,361.29 L108.39,358.75 L108.68,356.21 L108.95,353.66 L109.22,351.12 L109.47,348.58 L109.72,346.04 L109.96,343.49 L110.20,340.95 Z" fill="#a6a6a2" stroke="#7e7e7a" stroke-width="0.75"/><linearGradient id="lq23" x1="0" x2="0" y1="0" y2="1"><stop offset="0" stop-color="#8e5434"/><stop offset="0.12" stop-color="#ac511e"/><stop offset="0.35" stop-color="#c05a22"/><stop offset="0.5" stop-color="#c05a22"/><stop offset="1" stop-color="#c66a38"/></linearGradient><path d="M96.66,348.95 L96.86,350.92 L97.07,352.89 L97.28,354.86 L97.49,356.84 L97.71,358.81 L97.94,360.78 L98.18,362.75 L98.43,364.72 L98.69,366.69 L98.97,368.66 L99.26,370.64 L99.58,372.61 L99.94,374.58 L100.36,376.55 C100.46,378.55 101.70,379.15 102.90,379.15 C104.10,379.15 105.34,378.55 105.44,376.55 L105.44,376.55 L105.86,374.58 L106.22,372.61 L106.54,370.64 L106.83,368.66 L107.11,366.69 L107.37,364.72 L107.62,362.75 L107.86,360.78 L108.09,358.81 L108.31,356.84 L108.52,354.86 L108.73,352.89 L108.94,350.92 L109.14,348.95 Z" fill="url(#lq23)"/><ellipse cx="103.3" cy="365.9" rx="2.2" ry="8.5" fill="#e2b49b" opacity="0.7" filter="url(#blur1)"/></g>
<g><rect x="93.3" y="379.2" width="19.8" height="2.4" fill="#bebeba"/><rect x="93.0" y="382.5" width="3.8" height="5" rx="1.5" fill="#7e7e7a" opacity="0.5"/><rect x="109.60000000000001" y="382.5" width="3.8" height="5" rx="1.5" fill="#7e7e7a" opacity="0.5"/><path d="M95.60,385.50 L95.83,387.74 L96.07,389.97 L96.32,392.21 L96.57,394.44 L96.84,396.68 L97.11,398.91 L97.39,401.15 L97.68,403.39 L97.99,405.62 L98.32,407.86 L98.67,410.09 L99.05,412.33 L99.48,414.56 L99.98,416.80 C100.08,418.80 101.70,419.40 102.90,419.40 C104.10,419.40 105.72,418.80 105.82,416.80 L105.82,416.80 L106.32,414.56 L106.75,412.33 L107.13,410.09 L107.48,407.86 L107.81,405.62 L108.12,403.39 L108.41,401.15 L108.69,398.91 L108.96,396.68 L109.23,394.44 L109.48,392.21 L109.73,389.97 L109.97,387.74 L110.20,385.50 Z" fill="#a6a6a2" stroke="#7e7e7a" stroke-width="0.75"/><linearGradient id="lq24" x1="0" x2="0" y1="0" y2="1"><stop offset="0" stop-color="#8a5034"/><stop offset="0.12" stop-color="#a5491e"/><stop offset="0.35" stop-color="#b85222"/><stop offset="0.5" stop-color="#b85222"/><stop offset="1" stop-color="#bf6338"/></linearGradient><path d="M96.77,393.50 L96.96,395.16 L97.15,396.83 L97.36,398.49 L97.56,400.16 L97.78,401.82 L98.00,403.49 L98.23,405.15 L98.46,406.81 L98.71,408.48 L98.98,410.14 L99.26,411.81 L99.56,413.47 L99.90,415.14 L100.28,416.80 C100.38,418.80 101.70,419.40 102.90,419.40 C104.10,419.40 105.42,418.80 105.52,416.80 L105.52,416.80 L105.90,415.14 L106.24,413.47 L106.54,411.81 L106.82,410.14 L107.09,408.48 L107.34,406.81 L107.57,405.15 L107.80,403.49 L108.02,401.82 L108.24,400.16 L108.44,398.49 L108.65,396.83 L108.84,395.16 L109.03,393.50 Z" fill="url(#lq24)"/><ellipse cx="103.3" cy="410.5" rx="2.2" ry="8.5" fill="#dfb19b" opacity="0.7" filter="url(#blur1)"/></g>
<g><path d="M126.50,23.30 L126.74,26.26 L126.98,29.21 L127.24,32.17 L127.49,35.13 L127.76,38.09 L128.04,41.04 L128.33,44.00 L128.63,46.96 L128.95,49.91 L129.28,52.87 L129.65,55.83 L130.04,58.79 L130.49,61.74 L131.04,64.70 C131.14,66.70 132.60,67.30 133.80,67.30 C135.00,67.30 136.46,66.70 136.56,64.70 L136.56,64.70 L137.11,61.74 L137.56,58.79 L137.95,55.83 L138.32,52.87 L138.65,49.91 L138.97,46.96 L139.27,44.00 L139.56,41.04 L139.84,38.09 L140.11,35.13 L140.36,32.17 L140.62,29.21 L140.86,26.26 L141.10,23.30 Z" fill="#a6a6a2" stroke="#7e7e7a" stroke-width="0.75"/><ellipse cx="134.2" cy="55.1" rx="3.0" ry="9.5" fill="#f6f6f4" opacity="0.9" filter="url(#blur1)"/></g>
<g><rect x="124.19999999999999" y="67.4" width="19.8" height="2.4" fill="#bebeba"/><rect x="123.89999999999999" y="70.7" width="3.8" height="5" rx="1.5" fill="#7e7e7a" opacity="0.5"/><rect x="140.5" y="70.7" width="3.8" height="5" rx="1.5" fill="#7e7e7a" opacity="0.5"/><path d="M126.50,73.65 L126.74,76.19 L126.98,78.74 L127.23,81.28 L127.48,83.82 L127.75,86.36 L128.02,88.91 L128.31,91.45 L128.61,93.99 L128.92,96.54 L129.25,99.08 L129.61,101.62 L130.00,104.16 L130.43,106.71 L130.96,109.25 C131.06,111.25 132.60,111.85 133.80,111.85 C135.00,111.85 136.54,111.25 136.64,109.25 L136.64,109.25 L137.17,106.71 L137.60,104.16 L137.99,101.62 L138.35,99.08 L138.68,96.54 L138.99,93.99 L139.29,91.45 L139.58,88.91 L139.85,86.36 L140.12,83.82 L140.37,81.28 L140.62,78.74 L140.86,76.19 L141.10,73.65 Z" fill="#a6a6a2" stroke="#7e7e7a" stroke-width="0.75"/><linearGradient id="lq25" x1="0" x2="0" y1="0" y2="1"><stop offset="0" stop-color="#98917c"/><stop offset="0.12" stop-color="#bdb291"/><stop offset="0.35" stop-color="#d2c6a2"/><stop offset="0.5" stop-color="#d2c6a2"/><stop offset="1" stop-color="#d6cbab"/></linearGradient><path d="M127.56,81.65 L127.76,83.62 L127.97,85.59 L128.18,87.56 L128.39,89.54 L128.61,91.51 L128.84,93.48 L129.08,95.45 L129.33,97.42 L129.59,99.39 L129.87,101.36 L130.16,103.34 L130.48,105.31 L130.84,107.28 L131.26,109.25 C131.36,111.25 132.60,111.85 133.80,111.85 C135.00,111.85 136.24,111.25 136.34,109.25 L136.34,109.25 L136.76,107.28 L137.12,105.31 L137.44,103.34 L137.73,101.36 L138.01,99.39 L138.27,97.42 L138.52,95.45 L138.76,93.48 L138.99,91.51 L139.21,89.54 L139.42,87.56 L139.63,85.59 L139.84,83.62 L140.04,81.65 Z" fill="url(#lq25)"/><ellipse cx="134.2" cy="98.7" rx="2.2" ry="8.5" fill="#eae5d5" opacity="0.7" filter="url(#blur1)"/></g>
<g><rect x="124.19999999999999" y="111.9" width="19.8" height="2.4" fill="#bebeba"/><rect x="123.89999999999999" y="115.2" width="3.8" height="5" rx="1.5" fill="#7e7e7a" opacity="0.5"/><rect x="140.5" y="115.2" width="3.8" height="5" rx="1.5" fill="#7e7e7a" opacity="0.5"/><path d="M126.50,118.20 L126.74,120.74 L126.98,123.29 L127.23,125.83 L127.48,128.37 L127.75,130.91 L128.02,133.46 L128.31,136.00 L128.61,138.54 L128.92,141.09 L129.25,143.63 L129.61,146.17 L130.00,148.71 L130.43,151.26 L130.96,153.80 C131.06,155.80 132.60,156.40 133.80,156.40 C135.00,156.40 136.54,155.80 136.64,153.80 L136.64,153.80 L137.17,151.26 L137.60,148.71 L137.99,146.17 L138.35,143.63 L138.68,141.09 L138.99,138.54 L139.29,136.00 L139.58,133.46 L139.85,130.91 L140.12,128.37 L140.37,125.83 L140.62,123.29 L140.86,120.74 L141.10,118.20 Z" fill="#a6a6a2" stroke="#7e7e7a" stroke-width="0.75"/><linearGradient id="lq26" x1="0" x2="0" y1="0" y2="1"><stop offset="0" stop-color="#978f73"/><stop offset="0.12" stop-color="#bbae83"/><stop offset="0.35" stop-color="#d0c292"/><stop offset="0.5" stop-color="#d0c292"/><stop offset="1" stop-color="#d4c89c"/></linearGradient><path d="M127.56,126.20 L127.76,128.17 L127.97,130.14 L128.18,132.11 L128.39,134.09 L128.61,136.06 L128.84,138.03 L129.08,140.00 L129.33,141.97 L129.59,143.94 L129.87,145.91 L130.16,147.89 L130.48,149.86 L130.84,151.83 L131.26,153.80 C131.36,155.80 132.60,156.40 133.80,156.40 C135.00,156.40 136.24,155.80 136.34,153.80 L136.34,153.80 L136.76,151.83 L137.12,149.86 L137.44,147.89 L137.73,145.91 L138.01,143.94 L138.27,141.97 L138.52,140.00 L138.76,138.03 L138.99,136.06 L139.21,134.09 L139.42,132.11 L139.63,130.14 L139.84,128.17 L140.04,126.20 Z" fill="url(#lq26)"/><ellipse cx="134.2" cy="143.2" rx="2.2" ry="8.5" fill="#e9e3cd" opacity="0.7" filter="url(#blur1)"/></g>
<g><rect x="124.19999999999999" y="156.4" width="19.8" height="2.4" fill="#bebeba"/><rect x="123.89999999999999" y="159.7" width="3.8" height="5" rx="1.5" fill="#7e7e7a" opacity="0.5"/><rect x="140.5" y="159.7" width="3.8" height="5" rx="1.5" fill="#7e7e7a" opacity="0.5"/><path d="M126.50,162.75 L126.74,165.29 L126.98,167.84 L127.23,170.38 L127.48,172.92 L127.75,175.46 L128.02,178.01 L128.31,180.55 L128.61,183.09 L128.92,185.64 L129.25,188.18 L129.61,190.72 L130.00,193.26 L130.43,195.81 L130.96,198.35 C131.06,200.35 132.60,200.95 133.80,200.95 C135.00,200.95 136.54,200.35 136.64,198.35 L136.64,198.35 L137.17,195.81 L137.60,193.26 L137.99,190.72 L138.35,188.18 L138.68,185.64 L138.99,183.09 L139.29,180.55 L139.58,178.01 L139.85,175.46 L140.12,172.92 L140.37,170.38 L140.62,167.84 L140.86,165.29 L141.10,162.75 Z" fill="#a6a6a2" stroke="#7e7e7a" stroke-width="0.75"/><linearGradient id="lq27" x1="0" x2="0" y1="0" y2="1"><stop offset="0" stop-color="#938558"/><stop offset="0.12" stop-color="#b49e58"/><stop offset="0.35" stop-color="#c8b062"/><stop offset="0.5" stop-color="#c8b062"/><stop offset="1" stop-color="#cdb771"/></linearGradient><path d="M127.56,170.75 L127.76,172.72 L127.97,174.69 L128.18,176.66 L128.39,178.64 L128.61,180.61 L128.84,182.58 L129.08,184.55 L129.33,186.52 L129.59,188.49 L129.87,190.46 L130.16,192.44 L130.48,194.41 L130.84,196.38 L131.26,198.35 C131.36,200.35 132.60,200.95 133.80,200.95 C135.00,200.95 136.24,200.35 136.34,198.35 L136.34,198.35 L136.76,196.38 L137.12,194.41 L137.44,192.44 L137.73,190.46 L138.01,188.49 L138.27,186.52 L138.52,184.55 L138.76,182.58 L138.99,180.61 L139.21,178.64 L139.42,176.66 L139.63,174.69 L139.84,172.72 L140.04,170.75 Z" fill="url(#lq27)"/><ellipse cx="134.2" cy="187.7" rx="2.2" ry="8.5" fill="#e6dbb8" opacity="0.7" filter="url(#blur1)"/></g>
<g><rect x="124.19999999999999" y="201.0" width="19.8" height="2.4" fill="#bebeba"/><rect x="123.89999999999999" y="204.3" width="3.8" height="5" rx="1.5" fill="#7e7e7a" opacity="0.5"/><rect x="140.5" y="204.3" width="3.8" height="5" rx="1.5" fill="#7e7e7a" opacity="0.5"/><path d="M126.50,207.30 L126.74,209.84 L126.98,212.39 L127.23,214.93 L127.48,217.47 L127.75,220.01 L128.02,222.56 L128.31,225.10 L128.61,227.64 L128.92,230.19 L129.25,232.73 L129.61,235.27 L130.00,237.81 L130.43,240.36 L130.96,242.90 C131.06,244.90 132.60,245.50 133.80,245.50 C135.00,245.50 136.54,244.90 136.64,242.90 L136.64,242.90 L137.17,240.36 L137.60,237.81 L137.99,235.27 L138.35,232.73 L138.68,230.19 L138.99,227.64 L139.29,225.10 L139.58,222.56 L139.85,220.01 L140.12,217.47 L140.37,214.93 L140.62,212.39 L140.86,209.84 L141.10,207.30 Z" fill="#a6a6a2" stroke="#7e7e7a" stroke-width="0.75"/><linearGradient id="lq28" x1="0" x2="0" y1="0" y2="1"><stop offset="0" stop-color="#9e8c45"/><stop offset="0.12" stop-color="#c6a939"/><stop offset="0.35" stop-color="#dcbc40"/><stop offset="0.5" stop-color="#dcbc40"/><stop offset="1" stop-color="#dfc253"/></linearGradient><path d="M127.56,215.30 L127.76,217.27 L127.97,219.24 L128.18,221.21 L128.39,223.19 L128.61,225.16 L128.84,227.13 L129.08,229.10 L129.33,231.07 L129.59,233.04 L129.87,235.01 L130.16,236.99 L130.48,238.96 L130.84,240.93 L131.26,242.90 C131.36,244.90 132.60,245.50 133.80,245.50 C135.00,245.50 136.24,244.90 136.34,242.90 L136.34,242.90 L136.76,240.93 L137.12,238.96 L137.44,236.99 L137.73,235.01 L138.01,233.04 L138.27,231.07 L138.52,229.10 L138.76,227.13 L138.99,225.16 L139.21,223.19 L139.42,221.21 L139.63,219.24 L139.84,217.27 L140.04,215.30 Z" fill="url(#lq28)"/><ellipse cx="134.2" cy="232.3" rx="2.2" ry="8.5" fill="#efe0a9" opacity="0.7" filter="url(#blur1)"/></g>
<g><rect x="124.19999999999999" y="245.5" width="19.8" height="2.4" fill="#bebeba"/><rect x="123.89999999999999" y="248.8" width="3.8" height="5" rx="1.5" fill="#7e7e7a" opacity="0.5"/><rect x="140.5" y="248.8" width="3.8" height="5" rx="1.5" fill="#7e7e7a" opacity="0.5"/><path d="M126.50,251.85 L126.74,254.39 L126.98,256.94 L127.23,259.48 L127.48,262.02 L127.75,264.56 L128.02,267.11 L128.31,269.65 L128.61,272.19 L128.92,274.74 L129.25,277.28 L129.61,279.82 L130.00,282.36 L130.43,284.91 L130.96,287.45 C131.06,289.45 132.60,290.05 133.80,290.05 C135.00,290.05 136.54,289.45 136.64,287.45 L136.64,287.45 L137.17,284.91 L137.60,282.36 L137.99,279.82 L138.35,277.28 L138.68,274.74 L138.99,272.19 L139.29,269.65 L139.58,267.11 L139.85,264.56 L140.12,262.02 L140.37,259.48 L140.62,256.94 L140.86,254.39 L141.10,251.85 Z" fill="#a6a6a2" stroke="#7e7e7a" stroke-width="0.75"/><linearGradient id="lq29" x1="0" x2="0" y1="0" y2="1"><stop offset="0" stop-color="#9a853c"/><stop offset="0.12" stop-color="#c09e2b"/><stop offset="0.35" stop-color="#d6b030"/><stop offset="0.5" stop-color="#d6b030"/><stop offset="1" stop-color="#dab744"/></linearGradient><path d="M127.56,259.85 L127.76,261.82 L127.97,263.79 L128.18,265.76 L128.39,267.74 L128.61,269.71 L128.84,271.68 L129.08,273.65 L129.33,275.62 L129.59,277.59 L129.87,279.56 L130.16,281.54 L130.48,283.51 L130.84,285.48 L131.26,287.45 C131.36,289.45 132.60,290.05 133.80,290.05 C135.00,290.05 136.24,289.45 136.34,287.45 L136.34,287.45 L136.76,285.48 L137.12,283.51 L137.44,281.54 L137.73,279.56 L138.01,277.59 L138.27,275.62 L138.52,273.65 L138.76,271.68 L138.99,269.71 L139.21,267.74 L139.42,265.76 L139.63,263.79 L139.84,261.82 L140.04,259.85 Z" fill="url(#lq29)"/><ellipse cx="134.2" cy="276.9" rx="2.2" ry="8.5" fill="#ecdba1" opacity="0.7" filter="url(#blur1)"/></g>
<g><rect x="124.19999999999999" y="290.1" width="19.8" height="2.4" fill="#bebeba"/><rect x="123.89999999999999" y="293.4" width="3.8" height="5" rx="1.5" fill="#7e7e7a" opacity="0.5"/><rect x="140.5" y="293.4" width="3.8" height="5" rx="1.5" fill="#7e7e7a" opacity="0.5"/><path d="M126.50,296.40 L126.74,298.94 L126.98,301.49 L127.23,304.03 L127.48,306.57 L127.75,309.11 L128.02,311.66 L128.31,314.20 L128.61,316.74 L128.92,319.29 L129.25,321.83 L129.61,324.37 L130.00,326.91 L130.43,329.46 L130.96,332.00 C131.06,334.00 132.60,334.60 133.80,334.60 C135.00,334.60 136.54,334.00 136.64,332.00 L136.64,332.00 L137.17,329.46 L137.60,326.91 L137.99,324.37 L138.35,321.83 L138.68,319.29 L138.99,316.74 L139.29,314.20 L139.58,311.66 L139.85,309.11 L140.12,306.57 L140.37,304.03 L140.62,301.49 L140.86,298.94 L141.10,296.40 Z" fill="#a6a6a2" stroke="#7e7e7a" stroke-width="0.75"/><linearGradient id="lq30" x1="0" x2="0" y1="0" y2="1"><stop offset="0" stop-color="#988138"/><stop offset="0.12" stop-color="#bd9924"/><stop offset="0.35" stop-color="#d2aa28"/><stop offset="0.5" stop-color="#d2aa28"/><stop offset="1" stop-color="#d6b23d"/></linearGradient><path d="M127.56,304.40 L127.76,306.37 L127.97,308.34 L128.18,310.31 L128.39,312.29 L128.61,314.26 L128.84,316.23 L129.08,318.20 L129.33,320.17 L129.59,322.14 L129.87,324.11 L130.16,326.09 L130.48,328.06 L130.84,330.03 L131.26,332.00 C131.36,334.00 132.60,334.60 133.80,334.60 C135.00,334.60 136.24,334.00 136.34,332.00 L136.34,332.00 L136.76,330.03 L137.12,328.06 L137.44,326.09 L137.73,324.11 L138.01,322.14 L138.27,320.17 L138.52,318.20 L138.76,316.23 L138.99,314.26 L139.21,312.29 L139.42,310.31 L139.63,308.34 L139.84,306.37 L140.04,304.40 Z" fill="url(#lq30)"/><ellipse cx="134.2" cy="321.4" rx="2.2" ry="8.5" fill="#ead89e" opacity="0.7" filter="url(#blur1)"/></g>
<g><rect x="124.19999999999999" y="334.6" width="19.8" height="2.4" fill="#bebeba"/><rect x="123.89999999999999" y="337.9" width="3.8" height="5" rx="1.5" fill="#7e7e7a" opacity="0.5"/><rect x="140.5" y="337.9" width="3.8" height="5" rx="1.5" fill="#7e7e7a" opacity="0.5"/><path d="M126.50,340.95 L126.74,343.49 L126.98,346.04 L127.23,348.58 L127.48,351.12 L127.75,353.66 L128.02,356.21 L128.31,358.75 L128.61,361.29 L128.92,363.84 L129.25,366.38 L129.61,368.92 L130.00,371.46 L130.43,374.01 L130.96,376.55 C131.06,378.55 132.60,379.15 133.80,379.15 C135.00,379.15 136.54,378.55 136.64,376.55 L136.64,376.55 L137.17,374.01 L137.60,371.46 L137.99,368.92 L138.35,366.38 L138.68,363.84 L138.99,361.29 L139.29,358.75 L139.58,356.21 L139.85,353.66 L140.12,351.12 L140.37,348.58 L140.62,346.04 L140.86,343.49 L141.10,340.95 Z" fill="#a6a6a2" stroke="#7e7e7a" stroke-width="0.75"/><linearGradient id="lq31" x1="0" x2="0" y1="0" y2="1"><stop offset="0" stop-color="#9c8133"/><stop offset="0.12" stop-color="#c2971c"/><stop offset="0.35" stop-color="#d8a820"/><stop offset="0.5" stop-color="#d8a820"/><stop offset="1" stop-color="#dbb036"/></linearGradient><path d="M127.56,348.95 L127.76,350.92 L127.97,352.89 L128.18,354.86 L128.39,356.84 L128.61,358.81 L128.84,360.78 L129.08,362.75 L129.33,364.72 L129.59,366.69 L129.87,368.66 L130.16,370.64 L130.48,372.61 L130.84,374.58 L131.26,376.55 C131.36,378.55 132.60,379.15 133.80,379.15 C135.00,379.15 136.24,378.55 136.34,376.55 L136.34,376.55 L136.76,374.58 L137.12,372.61 L137.44,370.64 L137.73,368.66 L138.01,366.69 L138.27,364.72 L138.52,362.75 L138.76,360.78 L138.99,358.81 L139.21,356.84 L139.42,354.86 L139.63,352.89 L139.84,350.92 L140.04,348.95 Z" fill="url(#lq31)"/><ellipse cx="134.2" cy="365.9" rx="2.2" ry="8.5" fill="#edd79a" opacity="0.7" filter="url(#blur1)"/></g>
<g><rect x="124.19999999999999" y="379.2" width="19.8" height="2.4" fill="#bebeba"/><rect x="123.89999999999999" y="382.5" width="3.8" height="5" rx="1.5" fill="#7e7e7a" opacity="0.5"/><rect x="140.5" y="382.5" width="3.8" height="5" rx="1.5" fill="#7e7e7a" opacity="0.5"/><path d="M126.50,385.50 L126.73,387.74 L126.97,389.97 L127.22,392.21 L127.47,394.44 L127.74,396.68 L128.01,398.91 L128.29,401.15 L128.58,403.39 L128.89,405.62 L129.22,407.86 L129.57,410.09 L129.95,412.33 L130.38,414.56 L130.88,416.80 C130.98,418.80 132.60,419.40 133.80,419.40 C135.00,419.40 136.62,418.80 136.72,416.80 L136.72,416.80 L137.22,414.56 L137.65,412.33 L138.03,410.09 L138.38,407.86 L138.71,405.62 L139.02,403.39 L139.31,401.15 L139.59,398.91 L139.86,396.68 L140.13,394.44 L140.38,392.21 L140.63,389.97 L140.87,387.74 L141.10,385.50 Z" fill="#a6a6a2" stroke="#7e7e7a" stroke-width="0.75"/><linearGradient id="lq32" x1="0" x2="0" y1="0" y2="1"><stop offset="0" stop-color="#987c33"/><stop offset="0.12" stop-color="#bd901c"/><stop offset="0.35" stop-color="#d2a020"/><stop offset="0.5" stop-color="#d2a020"/><stop offset="1" stop-color="#d6a936"/></linearGradient><path d="M127.67,393.50 L127.86,395.16 L128.05,396.83 L128.26,398.49 L128.46,400.16 L128.68,401.82 L128.90,403.49 L129.13,405.15 L129.36,406.81 L129.61,408.48 L129.88,410.14 L130.16,411.81 L130.46,413.47 L130.80,415.14 L131.18,416.80 C131.28,418.80 132.60,419.40 133.80,419.40 C135.00,419.40 136.32,418.80 136.42,416.80 L136.42,416.80 L136.80,415.14 L137.14,413.47 L137.44,411.81 L137.72,410.14 L137.99,408.48 L138.24,406.81 L138.47,405.15 L138.70,403.49 L138.92,401.82 L139.14,400.16 L139.34,398.49 L139.55,396.83 L139.74,395.16 L139.93,393.50 Z" fill="url(#lq32)"/><ellipse cx="134.2" cy="410.5" rx="2.2" ry="8.5" fill="#ead49a" opacity="0.7" filter="url(#blur1)"/></g>
<g><path d="M157.10,23.30 L157.34,26.26 L157.58,29.21 L157.84,32.17 L158.09,35.13 L158.36,38.09 L158.64,41.04 L158.93,44.00 L159.23,46.96 L159.55,49.91 L159.88,52.87 L160.25,55.83 L160.64,58.79 L161.09,61.74 L161.64,64.70 C161.74,66.70 163.20,67.30 164.40,67.30 C165.60,67.30 167.06,66.70 167.16,64.70 L167.16,64.70 L167.71,61.74 L168.16,58.79 L168.55,55.83 L168.92,52.87 L169.25,49.91 L169.57,46.96 L169.87,44.00 L170.16,41.04 L170.44,38.09 L170.71,35.13 L170.96,32.17 L171.22,29.21 L171.46,26.26 L171.70,23.30 Z" fill="#a6a6a2" stroke="#7e7e7a" stroke-width="0.75"/><ellipse cx="164.8" cy="55.1" rx="3.0" ry="9.5" fill="#f6f6f4" opacity="0.9" filter="url(#blur1)"/></g>
<g><rect x="154.79999999999998" y="67.4" width="19.8" height="2.4" fill="#bebeba"/><rect x="154.5" y="70.7" width="3.8" height="5" rx="1.5" fill="#7e7e7a" opacity="0.5"/><rect x="171.1" y="70.7" width="3.8" height="5" rx="1.5" fill="#7e7e7a" opacity="0.5"/><path d="M157.10,73.65 L157.34,76.19 L157.58,78.74 L157.83,81.28 L158.08,83.82 L158.35,86.36 L158.62,88.91 L158.91,91.45 L159.21,93.99 L159.52,96.54 L159.85,99.08 L160.21,101.62 L160.60,104.16 L161.03,106.71 L161.56,109.25 C161.66,111.25 163.20,111.85 164.40,111.85 C165.60,111.85 167.14,111.25 167.24,109.25 L167.24,109.25 L167.77,106.71 L168.20,104.16 L168.59,101.62 L168.95,99.08 L169.28,96.54 L169.59,93.99 L169.89,91.45 L170.18,88.91 L170.45,86.36 L170.72,83.82 L170.97,81.28 L171.22,78.74 L171.46,76.19 L171.70,73.65 Z" fill="#a6a6a2" stroke="#7e7e7a" stroke-width="0.75"/><linearGradient id="lq33" x1="0" x2="0" y1="0" y2="1"><stop offset="0" stop-color="#979790"/><stop offset="0.12" stop-color="#afafa9"/><stop offset="0.35" stop-color="#bfbfb8"/><stop offset="0.5" stop-color="#d0d0c6"/><stop offset="1" stop-color="#d4d4cb"/></linearGradient><path d="M158.16,81.65 L158.36,83.62 L158.57,85.59 L158.78,87.56 L158.99,89.54 L159.21,91.51 L159.44,93.48 L159.68,95.45 L159.93,97.42 L160.19,99.39 L160.47,101.36 L160.76,103.34 L161.08,105.31 L161.44,107.28 L161.86,109.25 C161.96,111.25 163.20,111.85 164.40,111.85 C165.60,111.85 166.84,111.25 166.94,109.25 L166.94,109.25 L167.36,107.28 L167.72,105.31 L168.04,103.34 L168.33,101.36 L168.61,99.39 L168.87,97.42 L169.12,95.45 L169.36,93.48 L169.59,91.51 L169.81,89.54 L170.02,87.56 L170.23,85.59 L170.44,83.62 L170.64,81.65 Z" fill="url(#lq33)"/><ellipse cx="164.8" cy="99.7" rx="3.0" ry="9" fill="#f6f6f4" opacity="0.85" filter="url(#blur1)"/></g>
<g><rect x="154.79999999999998" y="111.9" width="19.8" height="2.4" fill="#bebeba"/><rect x="154.5" y="115.2" width="3.8" height="5" rx="1.5" fill="#7e7e7a" opacity="0.5"/><rect x="171.1" y="115.2" width="3.8" height="5" rx="1.5" fill="#7e7e7a" opacity="0.5"/><path d="M157.10,118.20 L157.34,120.74 L157.58,123.29 L157.83,125.83 L158.08,128.37 L158.35,130.91 L158.62,133.46 L158.91,136.00 L159.21,138.54 L159.52,141.09 L159.85,143.63 L160.21,146.17 L160.60,148.71 L161.03,151.26 L161.56,153.80 C161.66,155.80 163.20,156.40 164.40,156.40 C165.60,156.40 167.14,155.80 167.24,153.80 L167.24,153.80 L167.77,151.26 L168.20,148.71 L168.59,146.17 L168.95,143.63 L169.28,141.09 L169.59,138.54 L169.89,136.00 L170.18,133.46 L170.45,130.91 L170.72,128.37 L170.97,125.83 L171.22,123.29 L171.46,120.74 L171.70,118.20 Z" fill="#a6a6a2" stroke="#7e7e7a" stroke-width="0.75"/><linearGradient id="lq34" x1="0" x2="0" y1="0" y2="1"><stop offset="0" stop-color="#939185"/><stop offset="0.12" stop-color="#acaba1"/><stop offset="0.35" stop-color="#bcb9ab"/><stop offset="0.5" stop-color="#cac6b2"/><stop offset="1" stop-color="#cfcbb9"/></linearGradient><path d="M158.16,126.20 L158.36,128.17 L158.57,130.14 L158.78,132.11 L158.99,134.09 L159.21,136.06 L159.44,138.03 L159.68,140.00 L159.93,141.97 L160.19,143.94 L160.47,145.91 L160.76,147.89 L161.08,149.86 L161.44,151.83 L161.86,153.80 C161.96,155.80 163.20,156.40 164.40,156.40 C165.60,156.40 166.84,155.80 166.94,153.80 L166.94,153.80 L167.36,151.83 L167.72,149.86 L168.04,147.89 L168.33,145.91 L168.61,143.94 L168.87,141.97 L169.12,140.00 L169.36,138.03 L169.59,136.06 L169.81,134.09 L170.02,132.11 L170.23,130.14 L170.44,128.17 L170.64,126.20 Z" fill="url(#lq34)"/><ellipse cx="164.8" cy="144.2" rx="3.0" ry="9" fill="#f6f6f4" opacity="0.85" filter="url(#blur1)"/></g>
<g><rect x="154.79999999999998" y="156.4" width="19.8" height="2.4" fill="#bebeba"/><rect x="154.5" y="159.7" width="3.8" height="5" rx="1.5" fill="#7e7e7a" opacity="0.5"/><rect x="171.1" y="159.7" width="3.8" height="5" rx="1.5" fill="#7e7e7a" opacity="0.5"/><path d="M157.10,162.75 L157.34,165.29 L157.58,167.84 L157.83,170.38 L158.08,172.92 L158.35,175.46 L158.62,178.01 L158.91,180.55 L159.21,183.09 L159.52,185.64 L159.85,188.18 L160.21,190.72 L160.60,193.26 L161.03,195.81 L161.56,198.35 C161.66,200.35 163.20,200.95 164.40,200.95 C165.60,200.95 167.14,200.35 167.24,198.35 L167.24,198.35 L167.77,195.81 L168.20,193.26 L168.59,190.72 L168.95,188.18 L169.28,185.64 L169.59,183.09 L169.89,180.55 L170.18,178.01 L170.45,175.46 L170.72,172.92 L170.97,170.38 L171.22,167.84 L171.46,165.29 L171.70,162.75 Z" fill="#a6a6a2" stroke="#7e7e7a" stroke-width="0.75"/><linearGradient id="lq35" x1="0" x2="0" y1="0" y2="1"><stop offset="0" stop-color="#8f8a73"/><stop offset="0.12" stop-color="#aea783"/><stop offset="0.35" stop-color="#c2ba92"/><stop offset="0.5" stop-color="#c2ba92"/><stop offset="1" stop-color="#c8c09c"/></linearGradient><path d="M158.16,170.75 L158.36,172.72 L158.57,174.69 L158.78,176.66 L158.99,178.64 L159.21,180.61 L159.44,182.58 L159.68,184.55 L159.93,186.52 L160.19,188.49 L160.47,190.46 L160.76,192.44 L161.08,194.41 L161.44,196.38 L161.86,198.35 C161.96,200.35 163.20,200.95 164.40,200.95 C165.60,200.95 166.84,200.35 166.94,198.35 L166.94,198.35 L167.36,196.38 L167.72,194.41 L168.04,192.44 L168.33,190.46 L168.61,188.49 L168.87,186.52 L169.12,184.55 L169.36,182.58 L169.59,180.61 L169.81,178.64 L170.02,176.66 L170.23,174.69 L170.44,172.72 L170.64,170.75 Z" fill="url(#lq35)"/><ellipse cx="164.8" cy="187.7" rx="2.2" ry="8.5" fill="#e3dfcd" opacity="0.7" filter="url(#blur1)"/></g>
<g><rect x="154.79999999999998" y="201.0" width="19.8" height="2.4" fill="#bebeba"/><rect x="154.5" y="204.3" width="3.8" height="5" rx="1.5" fill="#7e7e7a" opacity="0.5"/><rect x="171.1" y="204.3" width="3.8" height="5" rx="1.5" fill="#7e7e7a" opacity="0.5"/><path d="M157.10,207.30 L157.34,209.84 L157.58,212.39 L157.83,214.93 L158.08,217.47 L158.35,220.01 L158.62,222.56 L158.91,225.10 L159.21,227.64 L159.52,230.19 L159.85,232.73 L160.21,235.27 L160.60,237.81 L161.03,240.36 L161.56,242.90 C161.66,244.90 163.20,245.50 164.40,245.50 C165.60,245.50 167.14,244.90 167.24,242.90 L167.24,242.90 L167.77,240.36 L168.20,237.81 L168.59,235.27 L168.95,232.73 L169.28,230.19 L169.59,227.64 L169.89,225.10 L170.18,222.56 L170.45,220.01 L170.72,217.47 L170.97,214.93 L171.22,212.39 L171.46,209.84 L171.70,207.30 Z" fill="#a6a6a2" stroke="#7e7e7a" stroke-width="0.75"/><linearGradient id="lq36" x1="0" x2="0" y1="0" y2="1"><stop offset="0" stop-color="#938a67"/><stop offset="0.12" stop-color="#b4a56f"/><stop offset="0.35" stop-color="#c8b87c"/><stop offset="0.5" stop-color="#c8b87c"/><stop offset="1" stop-color="#cdbf89"/></linearGradient><path d="M158.16,215.30 L158.36,217.27 L158.57,219.24 L158.78,221.21 L158.99,223.19 L159.21,225.16 L159.44,227.13 L159.68,229.10 L159.93,231.07 L160.19,233.04 L160.47,235.01 L160.76,236.99 L161.08,238.96 L161.44,240.93 L161.86,242.90 C161.96,244.90 163.20,245.50 164.40,245.50 C165.60,245.50 166.84,244.90 166.94,242.90 L166.94,242.90 L167.36,240.93 L167.72,238.96 L168.04,236.99 L168.33,235.01 L168.61,233.04 L168.87,231.07 L169.12,229.10 L169.36,227.13 L169.59,225.16 L169.81,223.19 L170.02,221.21 L170.23,219.24 L170.44,217.27 L170.64,215.30 Z" fill="url(#lq36)"/><ellipse cx="164.8" cy="232.3" rx="2.2" ry="8.5" fill="#e6dfc4" opacity="0.7" filter="url(#blur1)"/></g>
<g><rect x="154.79999999999998" y="245.5" width="19.8" height="2.4" fill="#bebeba"/><rect x="154.5" y="248.8" width="3.8" height="5" rx="1.5" fill="#7e7e7a" opacity="0.5"/><rect x="171.1" y="248.8" width="3.8" height="5" rx="1.5" fill="#7e7e7a" opacity="0.5"/><path d="M157.10,251.85 L157.34,254.39 L157.58,256.94 L157.83,259.48 L158.08,262.02 L158.35,264.56 L158.62,267.11 L158.91,269.65 L159.21,272.19 L159.52,274.74 L159.85,277.28 L160.21,279.82 L160.60,282.36 L161.03,284.91 L161.56,287.45 C161.66,289.45 163.20,290.05 164.40,290.05 C165.60,290.05 167.14,289.45 167.24,287.45 L167.24,287.45 L167.77,284.91 L168.20,282.36 L168.59,279.82 L168.95,277.28 L169.28,274.74 L169.59,272.19 L169.89,269.65 L170.18,267.11 L170.45,264.56 L170.72,262.02 L170.97,259.48 L171.22,256.94 L171.46,254.39 L171.70,251.85 Z" fill="#a6a6a2" stroke="#7e7e7a" stroke-width="0.75"/><linearGradient id="lq37" x1="0" x2="0" y1="0" y2="1"><stop offset="0" stop-color="#978e69"/><stop offset="0.12" stop-color="#bbac73"/><stop offset="0.35" stop-color="#d0c080"/><stop offset="0.5" stop-color="#d0c080"/><stop offset="1" stop-color="#d4c68c"/></linearGradient><path d="M158.16,259.85 L158.36,261.82 L158.57,263.79 L158.78,265.76 L158.99,267.74 L159.21,269.71 L159.44,271.68 L159.68,273.65 L159.93,275.62 L160.19,277.59 L160.47,279.56 L160.76,281.54 L161.08,283.51 L161.44,285.48 L161.86,287.45 C161.96,289.45 163.20,290.05 164.40,290.05 C165.60,290.05 166.84,289.45 166.94,287.45 L166.94,287.45 L167.36,285.48 L167.72,283.51 L168.04,281.54 L168.33,279.56 L168.61,277.59 L168.87,275.62 L169.12,273.65 L169.36,271.68 L169.59,269.71 L169.81,267.74 L170.02,265.76 L170.23,263.79 L170.44,261.82 L170.64,259.85 Z" fill="url(#lq37)"/><ellipse cx="164.8" cy="276.9" rx="2.2" ry="8.5" fill="#e9e2c5" opacity="0.7" filter="url(#blur1)"/></g>
<g><rect x="154.79999999999998" y="290.1" width="19.8" height="2.4" fill="#bebeba"/><rect x="154.5" y="293.4" width="3.8" height="5" rx="1.5" fill="#7e7e7a" opacity="0.5"/><rect x="171.1" y="293.4" width="3.8" height="5" rx="1.5" fill="#7e7e7a" opacity="0.5"/><path d="M157.10,296.40 L157.34,298.94 L157.58,301.49 L157.83,304.03 L158.08,306.57 L158.35,309.11 L158.62,311.66 L158.91,314.20 L159.21,316.74 L159.52,319.29 L159.85,321.83 L160.21,324.37 L160.60,326.91 L161.03,329.46 L161.56,332.00 C161.66,334.00 163.20,334.60 164.40,334.60 C165.60,334.60 167.14,334.00 167.24,332.00 L167.24,332.00 L167.77,329.46 L168.20,326.91 L168.59,324.37 L168.95,321.83 L169.28,319.29 L169.59,316.74 L169.89,314.20 L170.18,311.66 L170.45,309.11 L170.72,306.57 L170.97,304.03 L171.22,301.49 L171.46,298.94 L171.70,296.40 Z" fill="#a6a6a2" stroke="#7e7e7a" stroke-width="0.75"/><linearGradient id="lq38" x1="0" x2="0" y1="0" y2="1"><stop offset="0" stop-color="#97854e"/><stop offset="0.12" stop-color="#bb9e48"/><stop offset="0.35" stop-color="#d0b050"/><stop offset="0.5" stop-color="#d0b050"/><stop offset="1" stop-color="#d4b761"/></linearGradient><path d="M158.16,304.40 L158.36,306.37 L158.57,308.34 L158.78,310.31 L158.99,312.29 L159.21,314.26 L159.44,316.23 L159.68,318.20 L159.93,320.17 L160.19,322.14 L160.47,324.11 L160.76,326.09 L161.08,328.06 L161.44,330.03 L161.86,332.00 C161.96,334.00 163.20,334.60 164.40,334.60 C165.60,334.60 166.84,334.00 166.94,332.00 L166.94,332.00 L167.36,330.03 L167.72,328.06 L168.04,326.09 L168.33,324.11 L168.61,322.14 L168.87,320.17 L169.12,318.20 L169.36,316.23 L169.59,314.26 L169.81,312.29 L170.02,310.31 L170.23,308.34 L170.44,306.37 L170.64,304.40 Z" fill="url(#lq38)"/><ellipse cx="164.8" cy="321.4" rx="2.2" ry="8.5" fill="#e9dbb0" opacity="0.7" filter="url(#blur1)"/></g>
<g><rect x="154.79999999999998" y="334.6" width="19.8" height="2.4" fill="#bebeba"/><rect x="154.5" y="337.9" width="3.8" height="5" rx="1.5" fill="#7e7e7a" opacity="0.5"/><rect x="171.1" y="337.9" width="3.8" height="5" rx="1.5" fill="#7e7e7a" opacity="0.5"/><path d="M157.10,340.95 L157.34,343.49 L157.58,346.04 L157.83,348.58 L158.08,351.12 L158.35,353.66 L158.62,356.21 L158.91,358.75 L159.21,361.29 L159.52,363.84 L159.85,366.38 L160.21,368.92 L160.60,371.46 L161.03,374.01 L161.56,376.55 C161.66,378.55 163.20,379.15 164.40,379.15 C165.60,379.15 167.14,378.55 167.24,376.55 L167.24,376.55 L167.77,374.01 L168.20,371.46 L168.59,368.92 L168.95,366.38 L169.28,363.84 L169.59,361.29 L169.89,358.75 L170.18,356.21 L170.45,353.66 L170.72,351.12 L170.97,348.58 L171.22,346.04 L171.46,343.49 L171.70,340.95 Z" fill="#a6a6a2" stroke="#7e7e7a" stroke-width="0.75"/><linearGradient id="lq39" x1="0" x2="0" y1="0" y2="1"><stop offset="0" stop-color="#988133"/><stop offset="0.12" stop-color="#bd971c"/><stop offset="0.35" stop-color="#d2a820"/><stop offset="0.5" stop-color="#d2a820"/><stop offset="1" stop-color="#d6b036"/></linearGradient><path d="M158.16,348.95 L158.36,350.92 L158.57,352.89 L158.78,354.86 L158.99,356.84 L159.21,358.81 L159.44,360.78 L159.68,362.75 L159.93,364.72 L160.19,366.69 L160.47,368.66 L160.76,370.64 L161.08,372.61 L161.44,374.58 L161.86,376.55 C161.96,378.55 163.20,379.15 164.40,379.15 C165.60,379.15 166.84,378.55 166.94,376.55 L166.94,376.55 L167.36,374.58 L167.72,372.61 L168.04,370.64 L168.33,368.66 L168.61,366.69 L168.87,364.72 L169.12,362.75 L169.36,360.78 L169.59,358.81 L169.81,356.84 L170.02,354.86 L170.23,352.89 L170.44,350.92 L170.64,348.95 Z" fill="url(#lq39)"/><ellipse cx="164.8" cy="365.9" rx="2.2" ry="8.5" fill="#ead79a" opacity="0.7" filter="url(#blur1)"/></g>
<g><rect x="154.79999999999998" y="379.2" width="19.8" height="2.4" fill="#bebeba"/><rect x="154.5" y="382.5" width="3.8" height="5" rx="1.5" fill="#7e7e7a" opacity="0.5"/><rect x="171.1" y="382.5" width="3.8" height="5" rx="1.5" fill="#7e7e7a" opacity="0.5"/><path d="M157.10,385.50 L157.33,387.74 L157.57,389.97 L157.82,392.21 L158.07,394.44 L158.34,396.68 L158.61,398.91 L158.89,401.15 L159.18,403.39 L159.49,405.62 L159.82,407.86 L160.17,410.09 L160.55,412.33 L160.98,414.56 L161.48,416.80 C161.58,418.80 163.20,419.40 164.40,419.40 C165.60,419.40 167.22,418.80 167.32,416.80 L167.32,416.80 L167.82,414.56 L168.25,412.33 L168.63,410.09 L168.98,407.86 L169.31,405.62 L169.62,403.39 L169.91,401.15 L170.19,398.91 L170.46,396.68 L170.73,394.44 L170.98,392.21 L171.23,389.97 L171.47,387.74 L171.70,385.50 Z" fill="#a6a6a2" stroke="#7e7e7a" stroke-width="0.75"/><linearGradient id="lq40" x1="0" x2="0" y1="0" y2="1"><stop offset="0" stop-color="#987e33"/><stop offset="0.12" stop-color="#bd931c"/><stop offset="0.35" stop-color="#d2a420"/><stop offset="0.5" stop-color="#d2a420"/><stop offset="1" stop-color="#d6ad36"/></linearGradient><path d="M158.27,393.50 L158.46,395.16 L158.65,396.83 L158.86,398.49 L159.06,400.16 L159.28,401.82 L159.50,403.49 L159.73,405.15 L159.96,406.81 L160.21,408.48 L160.48,410.14 L160.76,411.81 L161.06,413.47 L161.40,415.14 L161.78,416.80 C161.88,418.80 163.20,419.40 164.40,419.40 C165.60,419.40 166.92,418.80 167.02,416.80 L167.02,416.80 L167.40,415.14 L167.74,413.47 L168.04,411.81 L168.32,410.14 L168.59,408.48 L168.84,406.81 L169.07,405.15 L169.30,403.49 L169.52,401.82 L169.74,400.16 L169.94,398.49 L170.15,396.83 L170.34,395.16 L170.53,393.50 Z" fill="url(#lq40)"/><ellipse cx="164.8" cy="410.5" rx="2.2" ry="8.5" fill="#ead69a" opacity="0.7" filter="url(#blur1)"/></g>
<g><path d="M188.40,23.30 L188.64,26.26 L188.88,29.21 L189.14,32.17 L189.39,35.13 L189.66,38.09 L189.94,41.04 L190.23,44.00 L190.53,46.96 L190.85,49.91 L191.18,52.87 L191.55,55.83 L191.94,58.79 L192.39,61.74 L192.94,64.70 C193.04,66.70 194.50,67.30 195.70,67.30 C196.90,67.30 198.36,66.70 198.46,64.70 L198.46,64.70 L199.01,61.74 L199.46,58.79 L199.85,55.83 L200.22,52.87 L200.55,49.91 L200.87,46.96 L201.17,44.00 L201.46,41.04 L201.74,38.09 L202.01,35.13 L202.26,32.17 L202.52,29.21 L202.76,26.26 L203.00,23.30 Z" fill="#a6a6a2" stroke="#7e7e7a" stroke-width="0.75"/><ellipse cx="196.1" cy="55.1" rx="3.0" ry="9.5" fill="#f6f6f4" opacity="0.9" filter="url(#blur1)"/></g>
<g><rect x="186.1" y="67.4" width="19.8" height="2.4" fill="#bebeba"/><rect x="185.8" y="70.7" width="3.8" height="5" rx="1.5" fill="#7e7e7a" opacity="0.5"/><rect x="202.4" y="70.7" width="3.8" height="5" rx="1.5" fill="#7e7e7a" opacity="0.5"/><path d="M188.40,73.65 L188.64,76.19 L188.88,78.74 L189.13,81.28 L189.38,83.82 L189.65,86.36 L189.92,88.91 L190.21,91.45 L190.51,93.99 L190.82,96.54 L191.15,99.08 L191.51,101.62 L191.90,104.16 L192.33,106.71 L192.86,109.25 C192.96,111.25 194.50,111.85 195.70,111.85 C196.90,111.85 198.44,111.25 198.54,109.25 L198.54,109.25 L199.07,106.71 L199.50,104.16 L199.89,101.62 L200.25,99.08 L200.58,96.54 L200.89,93.99 L201.19,91.45 L201.48,88.91 L201.75,86.36 L202.02,83.82 L202.27,81.28 L202.52,78.74 L202.76,76.19 L203.00,73.65 Z" fill="#a6a6a2" stroke="#7e7e7a" stroke-width="0.75"/><linearGradient id="lq41" x1="0" x2="0" y1="0" y2="1"><stop offset="0" stop-color="#989897"/><stop offset="0.12" stop-color="#b0b0ae"/><stop offset="0.35" stop-color="#c1c1bf"/><stop offset="0.5" stop-color="#d2d2d2"/><stop offset="1" stop-color="#d6d6d6"/></linearGradient><path d="M189.46,81.65 L189.66,83.62 L189.87,85.59 L190.08,87.56 L190.29,89.54 L190.51,91.51 L190.74,93.48 L190.98,95.45 L191.23,97.42 L191.49,99.39 L191.77,101.36 L192.06,103.34 L192.38,105.31 L192.74,107.28 L193.16,109.25 C193.26,111.25 194.50,111.85 195.70,111.85 C196.90,111.85 198.14,111.25 198.24,109.25 L198.24,109.25 L198.66,107.28 L199.02,105.31 L199.34,103.34 L199.63,101.36 L199.91,99.39 L200.17,97.42 L200.42,95.45 L200.66,93.48 L200.89,91.51 L201.11,89.54 L201.32,87.56 L201.53,85.59 L201.74,83.62 L201.94,81.65 Z" fill="url(#lq41)"/><ellipse cx="196.1" cy="99.7" rx="3.0" ry="9" fill="#f6f6f4" opacity="0.85" filter="url(#blur1)"/></g>
<g><rect x="186.1" y="111.9" width="19.8" height="2.4" fill="#bebeba"/><rect x="185.8" y="115.2" width="3.8" height="5" rx="1.5" fill="#7e7e7a" opacity="0.5"/><rect x="202.4" y="115.2" width="3.8" height="5" rx="1.5" fill="#7e7e7a" opacity="0.5"/><path d="M188.40,118.20 L188.64,120.74 L188.88,123.29 L189.13,125.83 L189.38,128.37 L189.65,130.91 L189.92,133.46 L190.21,136.00 L190.51,138.54 L190.82,141.09 L191.15,143.63 L191.51,146.17 L191.90,148.71 L192.33,151.26 L192.86,153.80 C192.96,155.80 194.50,156.40 195.70,156.40 C196.90,156.40 198.44,155.80 198.54,153.80 L198.54,153.80 L199.07,151.26 L199.50,148.71 L199.89,146.17 L200.25,143.63 L200.58,141.09 L200.89,138.54 L201.19,136.00 L201.48,133.46 L201.75,130.91 L202.02,128.37 L202.27,125.83 L202.52,123.29 L202.76,120.74 L203.00,118.20 Z" fill="#a6a6a2" stroke="#7e7e7a" stroke-width="0.75"/><linearGradient id="lq42" x1="0" x2="0" y1="0" y2="1"><stop offset="0" stop-color="#979796"/><stop offset="0.12" stop-color="#afafad"/><stop offset="0.35" stop-color="#bfbfbe"/><stop offset="0.5" stop-color="#d0d0d0"/><stop offset="1" stop-color="#d4d4d4"/></linearGradient><path d="M189.46,126.20 L189.66,128.17 L189.87,130.14 L190.08,132.11 L190.29,134.09 L190.51,136.06 L190.74,138.03 L190.98,140.00 L191.23,141.97 L191.49,143.94 L191.77,145.91 L192.06,147.89 L192.38,149.86 L192.74,151.83 L193.16,153.80 C193.26,155.80 194.50,156.40 195.70,156.40 C196.90,156.40 198.14,155.80 198.24,153.80 L198.24,153.80 L198.66,151.83 L199.02,149.86 L199.34,147.89 L199.63,145.91 L199.91,143.94 L200.17,141.97 L200.42,140.00 L200.66,138.03 L200.89,136.06 L201.11,134.09 L201.32,132.11 L201.53,130.14 L201.74,128.17 L201.94,126.20 Z" fill="url(#lq42)"/><ellipse cx="196.1" cy="144.2" rx="3.0" ry="9" fill="#f6f6f4" opacity="0.85" filter="url(#blur1)"/></g>
<g><rect x="186.1" y="156.4" width="19.8" height="2.4" fill="#bebeba"/><rect x="185.8" y="159.7" width="3.8" height="5" rx="1.5" fill="#7e7e7a" opacity="0.5"/><rect x="202.4" y="159.7" width="3.8" height="5" rx="1.5" fill="#7e7e7a" opacity="0.5"/><path d="M188.40,162.75 L188.64,165.29 L188.88,167.84 L189.13,170.38 L189.38,172.92 L189.65,175.46 L189.92,178.01 L190.21,180.55 L190.51,183.09 L190.82,185.64 L191.15,188.18 L191.51,190.72 L191.90,193.26 L192.33,195.81 L192.86,198.35 C192.96,200.35 194.50,200.95 195.70,200.95 C196.90,200.95 198.44,200.35 198.54,198.35 L198.54,198.35 L199.07,195.81 L199.50,193.26 L199.89,190.72 L200.25,188.18 L200.58,185.64 L200.89,183.09 L201.19,180.55 L201.48,178.01 L201.75,175.46 L202.02,172.92 L202.27,170.38 L202.52,167.84 L202.76,165.29 L203.00,162.75 Z" fill="#a6a6a2" stroke="#7e7e7a" stroke-width="0.75"/><linearGradient id="lq43" x1="0" x2="0" y1="0" y2="1"><stop offset="0" stop-color="#969694"/><stop offset="0.12" stop-color="#aeaeab"/><stop offset="0.35" stop-color="#bebebb"/><stop offset="0.5" stop-color="#cececc"/><stop offset="1" stop-color="#d2d2d1"/></linearGradient><path d="M189.46,170.75 L189.66,172.72 L189.87,174.69 L190.08,176.66 L190.29,178.64 L190.51,180.61 L190.74,182.58 L190.98,184.55 L191.23,186.52 L191.49,188.49 L191.77,190.46 L192.06,192.44 L192.38,194.41 L192.74,196.38 L193.16,198.35 C193.26,200.35 194.50,200.95 195.70,200.95 C196.90,200.95 198.14,200.35 198.24,198.35 L198.24,198.35 L198.66,196.38 L199.02,194.41 L199.34,192.44 L199.63,190.46 L199.91,188.49 L200.17,186.52 L200.42,184.55 L200.66,182.58 L200.89,180.61 L201.11,178.64 L201.32,176.66 L201.53,174.69 L201.74,172.72 L201.94,170.75 Z" fill="url(#lq43)"/><ellipse cx="196.1" cy="188.7" rx="3.0" ry="9" fill="#f6f6f4" opacity="0.85" filter="url(#blur1)"/></g>
<g><rect x="186.1" y="201.0" width="19.8" height="2.4" fill="#bebeba"/><rect x="185.8" y="204.3" width="3.8" height="5" rx="1.5" fill="#7e7e7a" opacity="0.5"/><rect x="202.4" y="204.3" width="3.8" height="5" rx="1.5" fill="#7e7e7a" opacity="0.5"/><path d="M188.40,207.30 L188.64,209.84 L188.88,212.39 L189.13,214.93 L189.38,217.47 L189.65,220.01 L189.92,222.56 L190.21,225.10 L190.51,227.64 L190.82,230.19 L191.15,232.73 L191.51,235.27 L191.90,237.81 L192.33,240.36 L192.86,242.90 C192.96,244.90 194.50,245.50 195.70,245.50 C196.90,245.50 198.44,244.90 198.54,242.90 L198.54,242.90 L199.07,240.36 L199.50,237.81 L199.89,235.27 L200.25,232.73 L200.58,230.19 L200.89,227.64 L201.19,225.10 L201.48,222.56 L201.75,220.01 L202.02,217.47 L202.27,214.93 L202.52,212.39 L202.76,209.84 L203.00,207.30 Z" fill="#a6a6a2" stroke="#7e7e7a" stroke-width="0.75"/><linearGradient id="lq44" x1="0" x2="0" y1="0" y2="1"><stop offset="0" stop-color="#9e9e9b"/><stop offset="0.12" stop-color="#b4b4b0"/><stop offset="0.35" stop-color="#c7c7c3"/><stop offset="0.5" stop-color="#dcdcd8"/><stop offset="1" stop-color="#dfdfdb"/></linearGradient><path d="M189.46,215.30 L189.66,217.27 L189.87,219.24 L190.08,221.21 L190.29,223.19 L190.51,225.16 L190.74,227.13 L190.98,229.10 L191.23,231.07 L191.49,233.04 L191.77,235.01 L192.06,236.99 L192.38,238.96 L192.74,240.93 L193.16,242.90 C193.26,244.90 194.50,245.50 195.70,245.50 C196.90,245.50 198.14,244.90 198.24,242.90 L198.24,242.90 L198.66,240.93 L199.02,238.96 L199.34,236.99 L199.63,235.01 L199.91,233.04 L200.17,231.07 L200.42,229.10 L200.66,227.13 L200.89,225.16 L201.11,223.19 L201.32,221.21 L201.53,219.24 L201.74,217.27 L201.94,215.30 Z" fill="url(#lq44)"/><ellipse cx="196.1" cy="233.3" rx="3.0" ry="9" fill="#f6f6f4" opacity="0.85" filter="url(#blur1)"/></g>
<g><rect x="186.1" y="245.5" width="19.8" height="2.4" fill="#bebeba"/><rect x="185.8" y="248.8" width="3.8" height="5" rx="1.5" fill="#7e7e7a" opacity="0.5"/><rect x="202.4" y="248.8" width="3.8" height="5" rx="1.5" fill="#7e7e7a" opacity="0.5"/><path d="M188.40,251.85 L188.64,254.39 L188.88,256.94 L189.13,259.48 L189.38,262.02 L189.65,264.56 L189.92,267.11 L190.21,269.65 L190.51,272.19 L190.82,274.74 L191.15,277.28 L191.51,279.82 L191.90,282.36 L192.33,284.91 L192.86,287.45 C192.96,289.45 194.50,290.05 195.70,290.05 C196.90,290.05 198.44,289.45 198.54,287.45 L198.54,287.45 L199.07,284.91 L199.50,282.36 L199.89,279.82 L200.25,277.28 L200.58,274.74 L200.89,272.19 L201.19,269.65 L201.48,267.11 L201.75,264.56 L202.02,262.02 L202.27,259.48 L202.52,256.94 L202.76,254.39 L203.00,251.85 Z" fill="#a6a6a2" stroke="#7e7e7a" stroke-width="0.75"/><linearGradient id="lq45" x1="0" x2="0" y1="0" y2="1"><stop offset="0" stop-color="#9c9c96"/><stop offset="0.12" stop-color="#b2b2ad"/><stop offset="0.35" stop-color="#c4c4be"/><stop offset="0.5" stop-color="#d8d8d0"/><stop offset="1" stop-color="#dbdbd4"/></linearGradient><path d="M189.46,259.85 L189.66,261.82 L189.87,263.79 L190.08,265.76 L190.29,267.74 L190.51,269.71 L190.74,271.68 L190.98,273.65 L191.23,275.62 L191.49,277.59 L191.77,279.56 L192.06,281.54 L192.38,283.51 L192.74,285.48 L193.16,287.45 C193.26,289.45 194.50,290.05 195.70,290.05 C196.90,290.05 198.14,289.45 198.24,287.45 L198.24,287.45 L198.66,285.48 L199.02,283.51 L199.34,281.54 L199.63,279.56 L199.91,277.59 L200.17,275.62 L200.42,273.65 L200.66,271.68 L200.89,269.71 L201.11,267.74 L201.32,265.76 L201.53,263.79 L201.74,261.82 L201.94,259.85 Z" fill="url(#lq45)"/><ellipse cx="196.1" cy="277.9" rx="3.0" ry="9" fill="#f6f6f4" opacity="0.85" filter="url(#blur1)"/></g>
<g><rect x="186.1" y="290.1" width="19.8" height="2.4" fill="#bebeba"/><rect x="185.8" y="293.4" width="3.8" height="5" rx="1.5" fill="#7e7e7a" opacity="0.5"/><rect x="202.4" y="293.4" width="3.8" height="5" rx="1.5" fill="#7e7e7a" opacity="0.5"/><path d="M188.40,296.40 L188.64,298.94 L188.88,301.49 L189.13,304.03 L189.38,306.57 L189.65,309.11 L189.92,311.66 L190.21,314.20 L190.51,316.74 L190.82,319.29 L191.15,321.83 L191.51,324.37 L191.90,326.91 L192.33,329.46 L192.86,332.00 C192.96,334.00 194.50,334.60 195.70,334.60 C196.90,334.60 198.44,334.00 198.54,332.00 L198.54,332.00 L199.07,329.46 L199.50,326.91 L199.89,324.37 L200.25,321.83 L200.58,319.29 L200.89,316.74 L201.19,314.20 L201.48,311.66 L201.75,309.11 L202.02,306.57 L202.27,304.03 L202.52,301.49 L202.76,298.94 L203.00,296.40 Z" fill="#a6a6a2" stroke="#7e7e7a" stroke-width="0.75"/><linearGradient id="lq46" x1="0" x2="0" y1="0" y2="1"><stop offset="0" stop-color="#9c988e"/><stop offset="0.12" stop-color="#b2b0a7"/><stop offset="0.35" stop-color="#c4c1b5"/><stop offset="0.5" stop-color="#d8d2c2"/><stop offset="1" stop-color="#dbd6c8"/></linearGradient><path d="M189.46,304.40 L189.66,306.37 L189.87,308.34 L190.08,310.31 L190.29,312.29 L190.51,314.26 L190.74,316.23 L190.98,318.20 L191.23,320.17 L191.49,322.14 L191.77,324.11 L192.06,326.09 L192.38,328.06 L192.74,330.03 L193.16,332.00 C193.26,334.00 194.50,334.60 195.70,334.60 C196.90,334.60 198.14,334.00 198.24,332.00 L198.24,332.00 L198.66,330.03 L199.02,328.06 L199.34,326.09 L199.63,324.11 L199.91,322.14 L200.17,320.17 L200.42,318.20 L200.66,316.23 L200.89,314.26 L201.11,312.29 L201.32,310.31 L201.53,308.34 L201.74,306.37 L201.94,304.40 Z" fill="url(#lq46)"/><ellipse cx="196.1" cy="322.4" rx="3.0" ry="9" fill="#f6f6f4" opacity="0.85" filter="url(#blur1)"/></g>
<g><rect x="186.1" y="334.6" width="19.8" height="2.4" fill="#bebeba"/><rect x="185.8" y="337.9" width="3.8" height="5" rx="1.5" fill="#7e7e7a" opacity="0.5"/><rect x="202.4" y="337.9" width="3.8" height="5" rx="1.5" fill="#7e7e7a" opacity="0.5"/><path d="M188.40,340.95 L188.64,343.49 L188.88,346.04 L189.13,348.58 L189.38,351.12 L189.65,353.66 L189.92,356.21 L190.21,358.75 L190.51,361.29 L190.82,363.84 L191.15,366.38 L191.51,368.92 L191.90,371.46 L192.33,374.01 L192.86,376.55 C192.96,378.55 194.50,379.15 195.70,379.15 C196.90,379.15 198.44,378.55 198.54,376.55 L198.54,376.55 L199.07,374.01 L199.50,371.46 L199.89,368.92 L200.25,366.38 L200.58,363.84 L200.89,361.29 L201.19,358.75 L201.48,356.21 L201.75,353.66 L202.02,351.12 L202.27,348.58 L202.52,346.04 L202.76,343.49 L203.00,340.95 Z" fill="#a6a6a2" stroke="#7e7e7a" stroke-width="0.75"/><linearGradient id="lq47" x1="0" x2="0" y1="0" y2="1"><stop offset="0" stop-color="#9e9786"/><stop offset="0.12" stop-color="#c6bba2"/><stop offset="0.35" stop-color="#dcd0b4"/><stop offset="0.5" stop-color="#dcd0b4"/><stop offset="1" stop-color="#dfd4bb"/></linearGradient><path d="M189.46,348.95 L189.66,350.92 L189.87,352.89 L190.08,354.86 L190.29,356.84 L190.51,358.81 L190.74,360.78 L190.98,362.75 L191.23,364.72 L191.49,366.69 L191.77,368.66 L192.06,370.64 L192.38,372.61 L192.74,374.58 L193.16,376.55 C193.26,378.55 194.50,379.15 195.70,379.15 C196.90,379.15 198.14,378.55 198.24,376.55 L198.24,376.55 L198.66,374.58 L199.02,372.61 L199.34,370.64 L199.63,368.66 L199.91,366.69 L200.17,364.72 L200.42,362.75 L200.66,360.78 L200.89,358.81 L201.11,356.84 L201.32,354.86 L201.53,352.89 L201.74,350.92 L201.94,348.95 Z" fill="url(#lq47)"/><ellipse cx="196.1" cy="365.9" rx="2.2" ry="8.5" fill="#efe9dd" opacity="0.7" filter="url(#blur1)"/></g>
<g><rect x="186.1" y="379.2" width="19.8" height="2.4" fill="#bebeba"/><rect x="185.8" y="382.5" width="3.8" height="5" rx="1.5" fill="#7e7e7a" opacity="0.5"/><rect x="202.4" y="382.5" width="3.8" height="5" rx="1.5" fill="#7e7e7a" opacity="0.5"/><path d="M188.40,385.50 L188.63,387.74 L188.87,389.97 L189.12,392.21 L189.37,394.44 L189.64,396.68 L189.91,398.91 L190.19,401.15 L190.48,403.39 L190.79,405.62 L191.12,407.86 L191.47,410.09 L191.85,412.33 L192.28,414.56 L192.78,416.80 C192.88,418.80 194.50,419.40 195.70,419.40 C196.90,419.40 198.52,418.80 198.62,416.80 L198.62,416.80 L199.12,414.56 L199.55,412.33 L199.93,410.09 L200.28,407.86 L200.61,405.62 L200.92,403.39 L201.21,401.15 L201.49,398.91 L201.76,396.68 L202.03,394.44 L202.28,392.21 L202.53,389.97 L202.77,387.74 L203.00,385.50 Z" fill="#a6a6a2" stroke="#7e7e7a" stroke-width="0.75"/><linearGradient id="lq48" x1="0" x2="0" y1="0" y2="1"><stop offset="0" stop-color="#9c9784"/><stop offset="0.12" stop-color="#c2bb9e"/><stop offset="0.35" stop-color="#d8d0b0"/><stop offset="0.5" stop-color="#d8d0b0"/><stop offset="1" stop-color="#dbd4b7"/></linearGradient><path d="M189.57,393.50 L189.76,395.16 L189.95,396.83 L190.16,398.49 L190.36,400.16 L190.58,401.82 L190.80,403.49 L191.03,405.15 L191.26,406.81 L191.51,408.48 L191.78,410.14 L192.06,411.81 L192.36,413.47 L192.70,415.14 L193.08,416.80 C193.18,418.80 194.50,419.40 195.70,419.40 C196.90,419.40 198.22,418.80 198.32,416.80 L198.32,416.80 L198.70,415.14 L199.04,413.47 L199.34,411.81 L199.62,410.14 L199.89,408.48 L200.14,406.81 L200.37,405.15 L200.60,403.49 L200.82,401.82 L201.04,400.16 L201.24,398.49 L201.45,396.83 L201.64,395.16 L201.83,393.50 Z" fill="url(#lq48)"/><ellipse cx="196.1" cy="410.5" rx="2.2" ry="8.5" fill="#ede9db" opacity="0.7" filter="url(#blur1)"/></g>
</g>
<text x="5.4" y="17.9" font-family='"Liberation Serif", serif' font-size="32" text-anchor="start" fill="#000" stroke="#000" stroke-width="0.45" >a</text>
<text x="41.5" y="24.2" font-family='"Liberation Serif", serif' font-size="12.3" text-anchor="middle" fill="#000" stroke="#000" stroke-width="0.2" >MA</text>
<text x="72.4" y="24.2" font-family='"Liberation Serif", serif' font-size="12.3" text-anchor="middle" fill="#000" stroke="#000" stroke-width="0.2" >CAD</text>
<text x="104.1" y="24.2" font-family='"Liberation Serif", serif' font-size="12.3" text-anchor="middle" fill="#000" stroke="#000" stroke-width="0.2" >PUT</text>
<text x="164.2" y="24.2" font-family='"Liberation Serif", serif' font-size="12.3" text-anchor="middle" fill="#000" stroke="#000" stroke-width="0.2" >TMA</text>
<text x="194.7" y="24.2" font-family='"Liberation Serif", serif' font-size="12.3" text-anchor="middle" fill="#000" stroke="#000" stroke-width="0.2" >TYR</text>
<text x="125.0" y="14.9" font-family='"Liberation Serif", serif' font-size="9.7" text-anchor="start" fill="#000" stroke="#000" stroke-width="0.15" >NH<tspan font-size="7.4" dy="0.7">3</tspan></text>
<circle cx="122.9" cy="20.5" r="0.75" fill="#222"/>
<text x="125.0" y="23.9" font-family='"Liberation Serif", serif' font-size="9.7" text-anchor="start" fill="#000" stroke="#000" stroke-width="0.15" >H<tspan font-size="7.6">2</tspan>O</text>
<text x="2.3" y="35.6" font-family='"Liberation Serif", serif' font-size="14.8" text-anchor="start" fill="#000" stroke="#000" stroke-width="0.25" >C</text>
<text x="12.4" y="35.6" font-family='"Liberation Serif", serif' font-size="8.8" text-anchor="start" fill="#000" stroke="#000" stroke-width="0.2" >(uM)</text>
<text x="27.6" y="50.40" font-family='"Liberation Serif", serif' font-size="14.6" text-anchor="end" fill="#000" stroke="#000" stroke-width="0.25" >0</text>
<text x="27.6" y="94.79" font-family='"Liberation Serif", serif' font-size="14.6" text-anchor="end" fill="#000" stroke="#000" stroke-width="0.25" >2</text>
<text x="27.6" y="139.18" font-family='"Liberation Serif", serif' font-size="14.6" text-anchor="end" fill="#000" stroke="#000" stroke-width="0.25" >5</text>
<text x="27.6" y="183.57" font-family='"Liberation Serif", serif' font-size="14.6" text-anchor="end" fill="#000" stroke="#000" stroke-width="0.25" >10</text>
<text x="27.6" y="227.96" font-family='"Liberation Serif", serif' font-size="14.6" text-anchor="end" fill="#000" stroke="#000" stroke-width="0.25" >20</text>
<text x="27.6" y="272.35" font-family='"Liberation Serif", serif' font-size="14.6" text-anchor="end" fill="#000" stroke="#000" stroke-width="0.25" >40</text>
<text x="27.6" y="316.74" font-family='"Liberation Serif", serif' font-size="14.6" text-anchor="end" fill="#000" stroke="#000" stroke-width="0.25" >60</text>
<text x="27.6" y="361.13" font-family='"Liberation Serif", serif' font-size="14.6" text-anchor="end" fill="#000" stroke="#000" stroke-width="0.25" >80</text>
<text x="27.6" y="405.52" font-family='"Liberation Serif", serif' font-size="14.6" text-anchor="end" fill="#000" stroke="#000" stroke-width="0.25" >100</text>
<clipPath id="clipb"><rect x="237.0" y="18.5" width="139.50" height="112.10"/></clipPath>
<g clip-path="url(#clipb)" fill="none" stroke-width="0.9" stroke-linejoin="round"><path d="M237.00,11.03 L238.16,33.78 L239.32,47.77 L240.49,58.47 L241.65,65.47 L242.81,69.61 L243.97,72.68 L245.14,75.29 L246.30,77.54 L247.46,79.54 L248.62,81.38 L249.79,83.16 L250.95,84.91 L252.11,86.55 L253.28,88.11 L254.44,89.62 L255.60,91.11 L256.76,92.60 L257.93,94.07 L259.09,95.52 L260.25,96.94 L261.41,98.35 L262.57,99.77 L263.74,101.18 L264.90,102.58 L266.06,103.98 L267.23,105.37 L268.39,106.77 L269.55,108.18 L270.71,109.62 L271.88,111.07 L273.04,112.53 L274.20,113.97 L275.36,115.38 L276.52,116.86 L277.69,118.28 L278.85,119.06 L280.01,119.50 L281.18,119.76 L282.34,119.92 L283.50,120.06 L284.66,120.17 L285.82,120.26 L286.99,120.35 L288.15,120.42 L289.31,120.49 L290.48,120.55 L291.64,120.62 L292.80,120.70 L293.96,120.78 L295.12,120.86 L296.29,120.94 L297.45,121.01 L298.61,121.08 L299.77,121.15 L300.94,121.21 L302.10,121.26 L303.26,121.30 L304.43,121.35 L305.59,121.39 L306.75,121.43 L307.91,121.47 L309.07,121.51 L310.24,121.55 L311.40,121.59 L312.56,121.63 L313.73,121.66 L314.89,121.69 L316.05,121.73 L317.21,121.76 L318.38,121.79 L319.54,121.81 L320.70,121.84 L321.86,121.87 L323.02,121.89 L324.19,121.91 L325.35,121.93 L326.51,121.95 L327.68,121.97 L328.84,121.99 L330.00,122.01 L331.16,122.02 L332.32,122.04 L333.49,122.05 L334.65,122.06 L335.81,122.08 L336.98,122.09 L338.14,122.11 L339.30,122.12 L340.46,122.14 L341.62,122.15 L342.79,122.16 L343.95,122.17 L345.11,122.19 L346.27,122.20 L347.44,122.21 L348.60,122.22 L349.76,122.24 L350.93,122.25 L352.09,122.26 L353.25,122.27 L354.41,122.28 L355.57,122.29 L356.74,122.30 L357.90,122.31 L359.06,122.31 L360.23,122.32 L361.39,122.33 L362.55,122.34 L363.71,122.34 L364.88,122.35 L366.04,122.35 L367.20,122.36 L368.36,122.36 L369.52,122.37 L370.69,122.37 L371.85,122.37 L373.01,122.38 L374.18,122.38 L375.34,122.38 L376.50,122.38" stroke="#7c7c7c"/><path d="M237.00,11.03 L238.16,33.78 L239.32,47.77 L240.49,58.47 L241.65,65.47 L242.81,69.61 L243.97,72.68 L245.14,75.29 L246.30,77.54 L247.46,79.54 L248.62,81.38 L249.79,83.16 L250.95,84.91 L252.11,86.55 L253.28,88.11 L254.44,89.62 L255.60,91.11 L256.76,92.60 L257.93,94.07 L259.09,95.52 L260.25,96.94 L261.41,98.35 L262.57,99.77 L263.74,101.18 L264.90,102.58 L266.06,103.98 L267.23,105.37 L268.39,106.77 L269.55,108.18 L270.71,109.62 L271.88,111.07 L273.04,112.53 L274.20,113.97 L275.36,115.38 L276.52,116.86 L277.69,118.28 L278.85,119.05 L280.01,119.49 L281.18,119.75 L282.34,119.91 L283.50,120.03 L284.66,120.14 L285.82,120.23 L286.99,120.30 L288.15,120.37 L289.31,120.42 L290.48,120.48 L291.64,120.54 L292.80,120.61 L293.96,120.68 L295.12,120.75 L296.29,120.82 L297.45,120.89 L298.61,120.96 L299.77,121.02 L300.94,121.08 L302.10,121.13 L303.26,121.18 L304.43,121.22 L305.59,121.27 L306.75,121.31 L307.91,121.35 L309.07,121.39 L310.24,121.43 L311.40,121.47 L312.56,121.51 L313.73,121.55 L314.89,121.58 L316.05,121.62 L317.21,121.65 L318.38,121.68 L319.54,121.71 L320.70,121.74 L321.86,121.77 L323.02,121.80 L324.19,121.83 L325.35,121.85 L326.51,121.87 L327.68,121.90 L328.84,121.92 L330.00,121.94 L331.16,121.96 L332.32,121.97 L333.49,121.99 L334.65,122.01 L335.81,122.03 L336.98,122.04 L338.14,122.06 L339.30,122.08 L340.46,122.09 L341.62,122.11 L342.79,122.12 L343.95,122.14 L345.11,122.15 L346.27,122.17 L347.44,122.18 L348.60,122.20 L349.76,122.21 L350.93,122.22 L352.09,122.23 L353.25,122.25 L354.41,122.26 L355.57,122.27 L356.74,122.28 L357.90,122.29 L359.06,122.30 L360.23,122.31 L361.39,122.31 L362.55,122.32 L363.71,122.33 L364.88,122.34 L366.04,122.34 L367.20,122.35 L368.36,122.35 L369.52,122.36 L370.69,122.36 L371.85,122.36 L373.01,122.37 L374.18,122.37 L375.34,122.37 L376.50,122.37" stroke="#f06060"/><path d="M237.00,10.91 L238.16,33.57 L239.32,47.50 L240.49,58.03 L241.65,64.94 L242.81,69.05 L243.97,72.11 L245.14,74.72 L246.30,76.99 L247.46,79.01 L248.62,80.86 L249.79,82.65 L250.95,84.39 L252.11,86.02 L253.28,87.58 L254.44,89.08 L255.60,90.55 L256.76,92.01 L257.93,93.45 L259.09,94.85 L260.25,96.22 L261.41,97.59 L262.57,98.95 L263.74,100.30 L264.90,101.65 L266.06,102.99 L267.23,104.32 L268.39,105.66 L269.55,107.01 L270.71,108.38 L271.88,109.77 L273.04,111.17 L274.20,112.54 L275.36,113.87 L276.52,115.28 L277.69,116.63 L278.85,117.33 L280.01,117.72 L281.18,117.92 L282.34,118.03 L283.50,118.11 L284.66,118.18 L285.82,118.23 L286.99,118.28 L288.15,118.33 L289.31,118.38 L290.48,118.44 L291.64,118.49 L292.80,118.56 L293.96,118.62 L295.12,118.70 L296.29,118.77 L297.45,118.84 L298.61,118.91 L299.77,118.97 L300.94,119.03 L302.10,119.08 L303.26,119.14 L304.43,119.19 L305.59,119.25 L306.75,119.31 L307.91,119.37 L309.07,119.43 L310.24,119.49 L311.40,119.55 L312.56,119.61 L313.73,119.68 L314.89,119.75 L316.05,119.82 L317.21,119.90 L318.38,119.98 L319.54,120.06 L320.70,120.14 L321.86,120.22 L323.02,120.31 L324.19,120.40 L325.35,120.48 L326.51,120.57 L327.68,120.65 L328.84,120.73 L330.00,120.81 L331.16,120.89 L332.32,120.97 L333.49,121.04 L334.65,121.11 L335.81,121.18 L336.98,121.24 L338.14,121.30 L339.30,121.36 L340.46,121.41 L341.62,121.47 L342.79,121.51 L343.95,121.56 L345.11,121.60 L346.27,121.65 L347.44,121.69 L348.60,121.73 L349.76,121.77 L350.93,121.81 L352.09,121.84 L353.25,121.87 L354.41,121.90 L355.57,121.93 L356.74,121.96 L357.90,121.98 L359.06,122.01 L360.23,122.03 L361.39,122.06 L362.55,122.08 L363.71,122.10 L364.88,122.12 L366.04,122.14 L367.20,122.15 L368.36,122.17 L369.52,122.18 L370.69,122.19 L371.85,122.20 L373.01,122.21 L374.18,122.22 L375.34,122.23 L376.50,122.23" stroke="#4f86e6"/><path d="M237.00,10.67 L238.16,33.12 L239.32,46.94 L240.49,57.07 L241.65,63.79 L242.81,67.85 L243.97,70.90 L245.14,73.52 L246.30,75.82 L247.46,77.87 L248.62,79.76 L249.79,81.55 L250.95,83.27 L252.11,84.89 L253.28,86.44 L254.44,87.92 L255.60,89.36 L256.76,90.77 L257.93,92.12 L259.09,93.42 L260.25,94.70 L261.41,95.95 L262.57,97.20 L263.74,98.44 L264.90,99.66 L266.06,100.88 L267.23,102.09 L268.39,103.30 L269.55,104.52 L270.71,105.76 L271.88,107.01 L273.04,108.26 L274.20,109.48 L275.36,110.67 L276.52,111.92 L277.69,113.09 L278.85,113.64 L280.01,113.87 L281.18,113.93 L282.34,113.88 L283.50,113.81 L284.66,113.72 L285.82,113.63 L286.99,113.54 L288.15,113.47 L289.31,113.42 L290.48,113.37 L291.64,113.33 L292.80,113.30 L293.96,113.28 L295.12,113.28 L296.29,113.28 L297.45,113.30 L298.61,113.33 L299.77,113.37 L300.94,113.42 L302.10,113.49 L303.26,113.56 L304.43,113.65 L305.59,113.74 L306.75,113.84 L307.91,113.95 L309.07,114.07 L310.24,114.18 L311.40,114.30 L312.56,114.43 L313.73,114.57 L314.89,114.74 L316.05,114.93 L317.21,115.12 L318.38,115.33 L319.54,115.54 L320.70,115.76 L321.86,115.99 L323.02,116.24 L324.19,116.50 L325.35,116.76 L326.51,117.01 L327.68,117.26 L328.84,117.50 L330.00,117.74 L331.16,117.99 L332.32,118.23 L333.49,118.46 L334.65,118.67 L335.81,118.87 L336.98,119.05 L338.14,119.23 L339.30,119.40 L340.46,119.56 L341.62,119.71 L342.79,119.85 L343.95,119.98 L345.11,120.10 L346.27,120.23 L347.44,120.35 L348.60,120.46 L349.76,120.57 L350.93,120.67 L352.09,120.77 L353.25,120.85 L354.41,120.93 L355.57,121.01 L356.74,121.09 L357.90,121.16 L359.06,121.23 L360.23,121.30 L361.39,121.36 L362.55,121.42 L363.71,121.48 L364.88,121.53 L366.04,121.57 L367.20,121.61 L368.36,121.66 L369.52,121.69 L370.69,121.73 L371.85,121.77 L373.01,121.80 L374.18,121.83 L375.34,121.85 L376.50,121.86" stroke="#3fae78"/><path d="M237.00,10.20 L238.16,32.24 L239.32,45.84 L240.49,55.22 L241.65,61.56 L242.81,65.53 L243.97,68.55 L245.14,71.17 L246.30,73.53 L247.46,75.67 L248.62,77.61 L249.79,79.41 L250.95,81.10 L252.11,82.70 L253.28,84.22 L254.44,85.66 L255.60,87.04 L256.76,88.34 L257.93,89.54 L259.09,90.66 L260.25,91.73 L261.41,92.77 L262.57,93.80 L263.74,94.81 L264.90,95.80 L266.06,96.78 L267.23,97.75 L268.39,98.72 L269.55,99.68 L270.71,100.65 L271.88,101.63 L273.04,102.60 L274.20,103.54 L275.36,104.44 L276.52,105.38 L277.69,106.22 L278.85,106.50 L280.01,106.48 L281.18,106.31 L282.34,106.04 L283.50,105.76 L284.66,105.49 L285.82,105.23 L286.99,105.01 L288.15,104.84 L289.31,104.73 L290.48,104.63 L291.64,104.54 L292.80,104.47 L293.96,104.41 L295.12,104.38 L296.29,104.36 L297.45,104.35 L298.61,104.37 L299.77,104.40 L300.94,104.46 L302.10,104.54 L303.26,104.64 L304.43,104.77 L305.59,104.93 L306.75,105.10 L307.91,105.29 L309.07,105.49 L310.24,105.70 L311.40,105.91 L312.56,106.13 L313.73,106.41 L314.89,106.73 L316.05,107.09 L317.21,107.48 L318.38,107.89 L319.54,108.31 L320.70,108.75 L321.86,109.23 L323.02,109.74 L324.19,110.26 L325.35,110.79 L326.51,111.32 L327.68,111.82 L328.84,112.32 L330.00,112.84 L331.16,113.35 L332.32,113.84 L333.49,114.32 L334.65,114.76 L335.81,115.17 L336.98,115.55 L338.14,115.92 L339.30,116.27 L340.46,116.59 L341.62,116.90 L342.79,117.18 L343.95,117.44 L345.11,117.70 L346.27,117.95 L347.44,118.20 L348.60,118.44 L349.76,118.66 L350.93,118.86 L352.09,119.05 L353.25,119.22 L354.41,119.38 L355.57,119.54 L356.74,119.69 L357.90,119.84 L359.06,119.98 L360.23,120.12 L361.39,120.24 L362.55,120.37 L363.71,120.48 L364.88,120.58 L366.04,120.67 L367.20,120.75 L368.36,120.84 L369.52,120.92 L370.69,121.00 L371.85,121.07 L373.01,121.13 L374.18,121.19 L375.34,121.23 L376.50,121.26" stroke="#b070f0"/><path d="M237.00,9.59 L238.16,31.12 L239.32,44.43 L240.49,52.84 L241.65,58.70 L242.81,62.54 L243.97,65.52 L245.14,68.15 L246.30,70.59 L247.46,72.83 L248.62,74.85 L249.79,76.66 L250.95,78.30 L252.11,79.87 L253.28,81.37 L254.44,82.77 L255.60,84.06 L256.76,85.23 L257.93,86.23 L259.09,87.10 L260.25,87.91 L261.41,88.68 L262.57,89.42 L263.74,90.14 L264.90,90.83 L266.06,91.51 L267.23,92.17 L268.39,92.82 L269.55,93.46 L270.71,94.09 L271.88,94.72 L273.04,95.33 L274.20,95.90 L275.36,96.43 L276.52,96.97 L277.69,97.38 L278.85,97.29 L280.01,96.93 L281.18,96.42 L282.34,95.83 L283.50,95.23 L284.66,94.64 L285.82,94.10 L286.99,93.62 L288.15,93.25 L289.31,92.97 L290.48,92.71 L291.64,92.48 L292.80,92.27 L293.96,92.09 L295.12,91.94 L296.29,91.82 L297.45,91.74 L298.61,91.70 L299.77,91.70 L300.94,91.75 L302.10,91.85 L303.26,92.00 L304.43,92.20 L305.59,92.44 L306.75,92.71 L307.91,93.01 L309.07,93.34 L310.24,93.67 L311.40,94.02 L312.56,94.39 L313.73,94.84 L314.89,95.39 L316.05,95.99 L317.21,96.66 L318.38,97.35 L319.54,98.07 L320.70,98.82 L321.86,99.64 L323.02,100.52 L324.19,101.42 L325.35,102.34 L326.51,103.25 L327.68,104.12 L328.84,104.99 L330.00,105.88 L331.16,106.77 L332.32,107.63 L333.49,108.46 L334.65,109.22 L335.81,109.92 L336.98,110.59 L338.14,111.22 L339.30,111.82 L340.46,112.39 L341.62,112.91 L342.79,113.40 L343.95,113.85 L345.11,114.30 L346.27,114.73 L347.44,115.16 L348.60,115.56 L349.76,115.94 L350.93,116.30 L352.09,116.63 L353.25,116.92 L354.41,117.19 L355.57,117.45 L356.74,117.71 L357.90,117.97 L359.06,118.21 L360.23,118.44 L361.39,118.66 L362.55,118.87 L363.71,119.06 L364.88,119.24 L366.04,119.39 L367.20,119.54 L368.36,119.68 L369.52,119.82 L370.69,119.95 L371.85,120.08 L373.01,120.19 L374.18,120.29 L375.34,120.36 L376.50,120.42" stroke="#d8a020"/><path d="M237.00,9.03 L238.16,30.07 L239.32,43.11 L240.49,50.62 L241.65,56.03 L242.81,59.75 L243.97,62.69 L245.14,65.33 L246.30,67.84 L247.46,70.18 L248.62,72.28 L249.79,74.10 L250.95,75.70 L252.11,77.24 L253.28,78.70 L254.44,80.06 L255.60,81.28 L256.76,82.32 L257.93,83.13 L259.09,83.78 L260.25,84.35 L261.41,84.87 L262.57,85.34 L263.74,85.78 L264.90,86.20 L266.06,86.59 L267.23,86.96 L268.39,87.31 L269.55,87.65 L270.71,87.97 L271.88,88.27 L273.04,88.54 L274.20,88.77 L275.36,88.95 L276.52,89.12 L277.69,89.13 L278.85,88.71 L280.01,88.04 L281.18,87.23 L282.34,86.35 L283.50,85.47 L284.66,84.62 L285.82,83.84 L286.99,83.16 L288.15,82.62 L289.31,82.22 L290.48,81.86 L291.64,81.52 L292.80,81.21 L293.96,80.94 L295.12,80.72 L296.29,80.54 L297.45,80.40 L298.61,80.33 L299.77,80.31 L300.94,80.36 L302.10,80.48 L303.26,80.67 L304.43,80.93 L305.59,81.24 L306.75,81.60 L307.91,82.00 L309.07,82.43 L310.24,82.89 L311.40,83.35 L312.56,83.85 L313.73,84.47 L314.89,85.21 L316.05,86.04 L317.21,86.94 L318.38,87.90 L319.54,88.88 L320.70,89.92 L321.86,91.05 L323.02,92.25 L324.19,93.50 L325.35,94.76 L326.51,96.01 L327.68,97.22 L328.84,98.42 L330.00,99.64 L331.16,100.86 L332.32,102.06 L333.49,103.20 L334.65,104.26 L335.81,105.22 L336.98,106.14 L338.14,107.01 L339.30,107.84 L340.46,108.62 L341.62,109.34 L342.79,110.01 L343.95,110.63 L345.11,111.25 L346.27,111.85 L347.44,112.43 L348.60,112.98 L349.76,113.51 L350.93,114.00 L352.09,114.45 L353.25,114.85 L354.41,115.22 L355.57,115.58 L356.74,115.94 L357.90,116.29 L359.06,116.62 L360.23,116.94 L361.39,117.25 L362.55,117.53 L363.71,117.79 L364.88,118.03 L366.04,118.25 L367.20,118.45 L368.36,118.64 L369.52,118.84 L370.69,119.02 L371.85,119.19 L373.01,119.34 L374.18,119.48 L375.34,119.58 L376.50,119.66" stroke="#20d0e0"/><path d="M237.00,8.52 L238.16,29.12 L239.32,41.91 L240.49,48.61 L241.65,53.61 L242.81,57.23 L243.97,60.14 L245.14,62.78 L246.30,65.36 L247.46,67.78 L248.62,69.95 L249.79,71.78 L250.95,73.34 L252.11,74.85 L253.28,76.29 L254.44,77.61 L255.60,78.76 L256.76,79.69 L257.93,80.33 L259.09,80.77 L260.25,81.13 L261.41,81.42 L262.57,81.65 L263.74,81.84 L264.90,82.00 L266.06,82.14 L267.23,82.25 L268.39,82.33 L269.55,82.39 L270.71,82.42 L271.88,82.43 L273.04,82.40 L274.20,82.32 L275.36,82.19 L276.52,82.02 L277.69,81.66 L278.85,80.90 L280.01,79.90 L281.18,78.75 L282.34,77.51 L283.50,76.27 L284.66,75.05 L285.82,73.92 L286.99,72.91 L288.15,72.06 L289.31,71.39 L290.48,70.77 L291.64,70.17 L292.80,69.62 L293.96,69.13 L295.12,68.70 L296.29,68.34 L297.45,68.07 L298.61,67.89 L299.77,67.81 L300.94,67.84 L302.10,67.98 L303.26,68.22 L304.43,68.54 L305.59,68.94 L306.75,69.40 L307.91,69.91 L309.07,70.46 L310.24,71.04 L311.40,71.64 L312.56,72.27 L313.73,73.08 L314.89,74.03 L316.05,75.11 L317.21,76.28 L318.38,77.52 L319.54,78.80 L320.70,80.13 L321.86,81.60 L323.02,83.17 L324.19,84.79 L325.35,86.43 L326.51,88.06 L327.68,89.64 L328.84,91.20 L330.00,92.79 L331.16,94.38 L332.32,95.94 L333.49,97.42 L334.65,98.80 L335.81,100.05 L336.98,101.25 L338.14,102.39 L339.30,103.46 L340.46,104.48 L341.62,105.42 L342.79,106.28 L343.95,107.09 L345.11,107.89 L346.27,108.67 L347.44,109.43 L348.60,110.15 L349.76,110.84 L350.93,111.47 L352.09,112.05 L353.25,112.57 L354.41,113.05 L355.57,113.53 L356.74,113.99 L357.90,114.44 L359.06,114.88 L360.23,115.29 L361.39,115.69 L362.55,116.06 L363.71,116.40 L364.88,116.71 L366.04,116.99 L367.20,117.25 L368.36,117.50 L369.52,117.75 L370.69,117.99 L371.85,118.21 L373.01,118.41 L374.18,118.59 L375.34,118.73 L376.50,118.83" stroke="#98707e"/><path d="M237.00,7.29 L238.16,26.84 L239.32,39.05 L240.49,43.79 L241.65,47.80 L242.81,51.18 L243.97,54.00 L245.14,56.67 L246.30,59.40 L247.46,62.03 L248.62,64.36 L249.79,66.22 L250.95,67.68 L252.11,69.13 L253.28,70.51 L254.44,71.74 L255.60,72.72 L256.76,73.37 L257.93,73.62 L259.09,73.56 L260.25,73.39 L261.41,73.13 L262.57,72.79 L263.74,72.38 L264.90,71.94 L266.06,71.46 L267.23,70.94 L268.39,70.38 L269.55,69.78 L270.71,69.12 L271.88,68.42 L273.04,67.66 L274.20,66.84 L275.36,65.96 L276.52,64.99 L277.69,63.75 L278.85,62.25 L280.01,60.57 L281.18,58.75 L282.34,56.88 L283.50,55.00 L284.66,53.19 L285.82,51.51 L286.99,50.02 L288.15,48.80 L289.31,47.83 L290.48,46.93 L291.64,46.08 L292.80,45.29 L293.96,44.57 L295.12,43.95 L296.29,43.42 L297.45,43.02 L298.61,42.74 L299.77,42.61 L300.94,42.64 L302.10,42.82 L303.26,43.15 L304.43,43.60 L305.59,44.17 L306.75,44.82 L307.91,45.56 L309.07,46.35 L310.24,47.18 L311.40,48.05 L312.56,48.97 L313.73,50.13 L314.89,51.52 L316.05,53.09 L317.21,54.80 L318.38,56.61 L319.54,58.48 L320.70,60.44 L321.86,62.59 L323.02,64.88 L324.19,67.26 L325.35,69.67 L326.51,72.06 L327.68,74.36 L328.84,76.65 L330.00,78.99 L331.16,81.33 L332.32,83.61 L333.49,85.79 L334.65,87.81 L335.81,89.65 L336.98,91.40 L338.14,93.07 L339.30,94.65 L340.46,96.14 L341.62,97.52 L342.79,98.79 L343.95,99.97 L345.11,101.14 L346.27,102.29 L347.44,103.39 L348.60,104.45 L349.76,105.45 L350.93,106.38 L352.09,107.23 L353.25,107.99 L354.41,108.70 L355.57,109.39 L356.74,110.07 L357.90,110.73 L359.06,111.37 L360.23,111.97 L361.39,112.55 L362.55,113.09 L363.71,113.59 L364.88,114.05 L366.04,114.46 L367.20,114.83 L368.36,115.21 L369.52,115.57 L370.69,115.92 L371.85,116.25 L373.01,116.54 L374.18,116.80 L375.34,117.00 L376.50,117.15" stroke="#a0a030"/></g>
<rect x="237.0" y="18.5" width="139.50" height="112.10" fill="none" stroke="#606060" stroke-width="0.9"/>
<path d="M235.20,130.60H237.00M236.00,121.26H237.00M235.20,111.92H237.00M236.00,102.57H237.00M235.20,93.23H237.00M236.00,83.89H237.00M235.20,74.55H237.00M236.00,65.21H237.00M235.20,55.87H237.00M236.00,46.52H237.00M235.20,37.18H237.00M236.00,27.84H237.00M235.20,18.50H237.00M237.00,130.60V132.40M248.62,130.60V131.60M260.25,130.60V132.40M271.88,130.60V131.60M283.50,130.60V132.40M295.12,130.60V131.60M306.75,130.60V132.40M318.38,130.60V131.60M330.00,130.60V132.40M341.62,130.60V131.60M353.25,130.60V132.40M364.88,130.60V131.60M376.50,130.60V132.40" stroke="#5a5a5a" stroke-width="0.7" fill="none"/>
<text x="233.60" y="132.30" font-family='"Liberation Serif", serif' font-size="5.0" text-anchor="end" fill="#444" >0.0</text>
<text x="237.00" y="137.90" font-family='"Liberation Serif", serif' font-size="4.9" text-anchor="middle" fill="#444" >300</text>
<text x="233.60" y="113.62" font-family='"Liberation Serif", serif' font-size="5.0" text-anchor="end" fill="#444" >0.1</text>
<text x="260.25" y="137.90" font-family='"Liberation Serif", serif' font-size="4.9" text-anchor="middle" fill="#444" >350</text>
<text x="233.60" y="94.93" font-family='"Liberation Serif", serif' font-size="5.0" text-anchor="end" fill="#444" >0.2</text>
<text x="283.50" y="137.90" font-family='"Liberation Serif", serif' font-size="4.9" text-anchor="middle" fill="#444" >400</text>
<text x="233.60" y="76.25" font-family='"Liberation Serif", serif' font-size="5.0" text-anchor="end" fill="#444" >0.3</text>
<text x="306.75" y="137.90" font-family='"Liberation Serif", serif' font-size="4.9" text-anchor="middle" fill="#444" >450</text>
<text x="233.60" y="57.57" font-family='"Liberation Serif", serif' font-size="5.0" text-anchor="end" fill="#444" >0.4</text>
<text x="330.00" y="137.90" font-family='"Liberation Serif", serif' font-size="4.9" text-anchor="middle" fill="#444" >500</text>
<text x="233.60" y="38.88" font-family='"Liberation Serif", serif' font-size="5.0" text-anchor="end" fill="#444" >0.5</text>
<text x="353.25" y="137.90" font-family='"Liberation Serif", serif' font-size="4.9" text-anchor="middle" fill="#444" >550</text>
<text x="233.60" y="20.20" font-family='"Liberation Serif", serif' font-size="5.0" text-anchor="end" fill="#444" >0.6</text>
<text x="376.50" y="137.90" font-family='"Liberation Serif", serif' font-size="4.9" text-anchor="middle" fill="#444" >600</text>
<text x="306.75" y="144.90" font-family='"Liberation Serif", serif' font-size="7.5" text-anchor="middle" fill="#222" >Wavelength (nm)</text>
<text x="0" y="0" font-family='"Liberation Serif", serif' font-size="7.6" text-anchor="middle" fill="#222" transform="translate(226.40,70.95) rotate(-90)">Absorbance</text>
<path d="M341.00,22.30H355.00" stroke="#7c7c7c" stroke-width="0.9" opacity="0.75"/>
<text x="356.70" y="24.40" font-family='"Liberation Serif", serif' font-size="6.1" text-anchor="start" fill="#222" >Blank</text>
<path d="M341.00,30.12H355.00" stroke="#f06060" stroke-width="0.9" opacity="0.75"/>
<text x="356.70" y="32.22" font-family='"Liberation Serif", serif' font-size="6.1" text-anchor="start" fill="#222" >2uM</text>
<path d="M341.00,37.94H355.00" stroke="#4f86e6" stroke-width="0.9" opacity="0.75"/>
<text x="356.70" y="40.04" font-family='"Liberation Serif", serif' font-size="6.1" text-anchor="start" fill="#222" >5uM</text>
<path d="M341.00,45.76H355.00" stroke="#3fae78" stroke-width="0.9" opacity="0.75"/>
<text x="356.70" y="47.86" font-family='"Liberation Serif", serif' font-size="6.1" text-anchor="start" fill="#222" >10uM</text>
<path d="M341.00,53.58H355.00" stroke="#b070f0" stroke-width="0.9" opacity="0.75"/>
<text x="356.70" y="55.68" font-family='"Liberation Serif", serif' font-size="6.1" text-anchor="start" fill="#222" >20uM</text>
<path d="M341.00,61.40H355.00" stroke="#d8a020" stroke-width="0.9" opacity="0.75"/>
<text x="356.70" y="63.50" font-family='"Liberation Serif", serif' font-size="6.1" text-anchor="start" fill="#222" >40uM</text>
<path d="M341.00,69.22H355.00" stroke="#20d0e0" stroke-width="0.9" opacity="0.75"/>
<text x="356.70" y="71.32" font-family='"Liberation Serif", serif' font-size="6.1" text-anchor="start" fill="#222" >60uM</text>
<path d="M341.00,77.04H355.00" stroke="#98707e" stroke-width="0.9" opacity="0.75"/>
<text x="356.70" y="79.14" font-family='"Liberation Serif", serif' font-size="6.1" text-anchor="start" fill="#222" >80uM</text>
<path d="M341.00,84.86H355.00" stroke="#a0a030" stroke-width="0.9" opacity="0.75"/>
<text x="356.70" y="86.96" font-family='"Liberation Serif", serif' font-size="6.1" text-anchor="start" fill="#222" >100uM</text>
<text x="208.4" y="20.8" font-family='"Liberation Serif", serif' font-size="26.5" text-anchor="start" fill="#000" stroke="#000" stroke-width="0.45" >b</text>
<clipPath id="clipc"><rect x="405.2" y="18.5" width="139.10" height="112.10"/></clipPath>
<g clip-path="url(#clipc)" fill="none" stroke-width="0.9" stroke-linejoin="round"><path d="M405.20,11.03 L406.36,29.16 L407.52,42.79 L408.68,52.24 L409.84,59.34 L411.00,64.22 L412.15,68.29 L413.31,71.79 L414.47,74.84 L415.63,77.52 L416.79,79.94 L417.95,82.21 L419.11,84.34 L420.27,86.29 L421.43,88.11 L422.59,89.80 L423.75,91.39 L424.91,92.92 L426.06,94.40 L427.22,95.85 L428.38,97.31 L429.54,98.80 L430.70,100.33 L431.86,101.94 L433.02,103.62 L434.18,105.33 L435.34,107.04 L436.50,108.74 L437.66,110.39 L438.82,111.97 L439.97,113.44 L441.13,114.78 L442.29,115.97 L443.45,116.97 L444.61,117.84 L445.77,118.59 L446.93,119.02 L448.09,119.18 L449.25,119.30 L450.41,119.40 L451.57,119.48 L452.73,119.54 L453.88,119.60 L455.04,119.66 L456.20,119.73 L457.36,119.81 L458.52,119.90 L459.68,119.99 L460.84,120.08 L462.00,120.17 L463.16,120.26 L464.32,120.35 L465.48,120.44 L466.64,120.53 L467.79,120.62 L468.95,120.71 L470.11,120.80 L471.27,120.88 L472.43,120.96 L473.59,121.04 L474.75,121.11 L475.91,121.17 L477.07,121.24 L478.23,121.29 L479.39,121.34 L480.55,121.39 L481.70,121.42 L482.86,121.45 L484.02,121.48 L485.18,121.50 L486.34,121.53 L487.50,121.55 L488.66,121.58 L489.82,121.60 L490.98,121.62 L492.14,121.65 L493.30,121.67 L494.46,121.69 L495.61,121.71 L496.77,121.73 L497.93,121.76 L499.09,121.78 L500.25,121.80 L501.41,121.82 L502.57,121.83 L503.73,121.85 L504.89,121.87 L506.05,121.89 L507.21,121.91 L508.37,121.92 L509.52,121.94 L510.68,121.96 L511.84,121.97 L513.00,121.99 L514.16,122.00 L515.32,122.01 L516.48,122.03 L517.64,122.04 L518.80,122.05 L519.96,122.07 L521.12,122.08 L522.28,122.09 L523.43,122.10 L524.59,122.11 L525.75,122.12 L526.91,122.13 L528.07,122.14 L529.23,122.14 L530.39,122.15 L531.55,122.16 L532.71,122.16 L533.87,122.17 L535.03,122.17 L536.19,122.18 L537.35,122.18 L538.50,122.19 L539.66,122.19 L540.82,122.19 L541.98,122.19 L543.14,122.19 L544.30,122.19" stroke="#7c7c7c"/><path d="M405.20,10.76 L406.36,28.49 L407.52,42.01 L408.68,51.52 L409.84,58.63 L411.00,63.43 L412.15,67.44 L413.31,70.91 L414.47,73.93 L415.63,76.59 L416.79,78.98 L417.95,81.19 L419.11,83.27 L420.27,85.19 L421.43,86.98 L422.59,88.64 L423.75,90.20 L424.91,91.68 L426.06,93.08 L427.22,94.45 L428.38,95.83 L429.54,97.22 L430.70,98.66 L431.86,100.15 L433.02,101.70 L434.18,103.27 L435.34,104.84 L436.50,106.39 L437.66,107.89 L438.82,109.31 L439.97,110.64 L441.13,111.85 L442.29,112.90 L443.45,113.78 L444.61,114.53 L445.77,115.18 L446.93,115.51 L448.09,115.61 L449.25,115.69 L450.41,115.74 L451.57,115.79 L452.73,115.83 L453.88,115.88 L455.04,115.94 L456.20,116.02 L457.36,116.12 L458.52,116.23 L459.68,116.34 L460.84,116.45 L462.00,116.57 L463.16,116.68 L464.32,116.79 L465.48,116.89 L466.64,116.99 L467.79,117.08 L468.95,117.16 L470.11,117.25 L471.27,117.34 L472.43,117.44 L473.59,117.54 L474.75,117.65 L475.91,117.75 L477.07,117.85 L478.23,117.96 L479.39,118.05 L480.55,118.15 L481.70,118.24 L482.86,118.34 L484.02,118.45 L485.18,118.56 L486.34,118.67 L487.50,118.79 L488.66,118.91 L489.82,119.02 L490.98,119.13 L492.14,119.25 L493.30,119.37 L494.46,119.48 L495.61,119.60 L496.77,119.72 L497.93,119.84 L499.09,119.95 L500.25,120.06 L501.41,120.16 L502.57,120.26 L503.73,120.35 L504.89,120.45 L506.05,120.54 L507.21,120.63 L508.37,120.71 L509.52,120.79 L510.68,120.86 L511.84,120.93 L513.00,120.99 L514.16,121.06 L515.32,121.12 L516.48,121.18 L517.64,121.24 L518.80,121.29 L519.96,121.34 L521.12,121.39 L522.28,121.43 L523.43,121.47 L524.59,121.51 L525.75,121.55 L526.91,121.58 L528.07,121.61 L529.23,121.65 L530.39,121.68 L531.55,121.71 L532.71,121.74 L533.87,121.77 L535.03,121.80 L536.19,121.82 L537.35,121.84 L538.50,121.86 L539.66,121.88 L540.82,121.90 L541.98,121.91 L543.14,121.92 L544.30,121.93" stroke="#f06060"/><path d="M405.20,10.48 L406.36,27.78 L407.52,41.17 L408.68,50.74 L409.84,57.86 L411.00,62.59 L412.15,66.53 L413.31,69.96 L414.47,72.95 L415.63,75.58 L416.79,77.94 L417.95,80.10 L419.11,82.12 L420.27,84.01 L421.43,85.77 L422.59,87.40 L423.75,88.93 L424.91,90.35 L426.06,91.67 L427.22,92.95 L428.38,94.24 L429.54,95.53 L430.70,96.86 L431.86,98.23 L433.02,99.64 L434.18,101.06 L435.34,102.48 L436.50,103.86 L437.66,105.20 L438.82,106.47 L439.97,107.64 L441.13,108.69 L442.29,109.61 L443.45,110.36 L444.61,110.98 L445.77,111.50 L446.93,111.73 L448.09,111.73 L449.25,111.71 L450.41,111.67 L451.57,111.62 L452.73,111.58 L453.88,111.54 L455.04,111.52 L456.20,111.52 L457.36,111.56 L458.52,111.60 L459.68,111.64 L460.84,111.69 L462.00,111.74 L463.16,111.80 L464.32,111.86 L465.48,111.92 L466.64,111.99 L467.79,112.05 L468.95,112.12 L470.11,112.20 L471.27,112.31 L472.43,112.43 L473.59,112.57 L474.75,112.72 L475.91,112.88 L477.07,113.04 L478.23,113.21 L479.39,113.37 L480.55,113.54 L481.70,113.72 L482.86,113.93 L484.02,114.14 L485.18,114.38 L486.34,114.62 L487.50,114.86 L488.66,115.11 L489.82,115.35 L490.98,115.59 L492.14,115.84 L493.30,116.09 L494.46,116.35 L495.61,116.60 L496.77,116.86 L497.93,117.11 L499.09,117.35 L500.25,117.58 L501.41,117.80 L502.57,118.01 L503.73,118.22 L504.89,118.42 L506.05,118.62 L507.21,118.81 L508.37,118.98 L509.52,119.15 L510.68,119.30 L511.84,119.44 L513.00,119.58 L514.16,119.71 L515.32,119.84 L516.48,119.97 L517.64,120.09 L518.80,120.21 L519.96,120.31 L521.12,120.41 L522.28,120.50 L523.43,120.59 L524.59,120.66 L525.75,120.73 L526.91,120.80 L528.07,120.87 L529.23,120.94 L530.39,121.01 L531.55,121.08 L532.71,121.14 L533.87,121.20 L535.03,121.26 L536.19,121.31 L537.35,121.36 L538.50,121.41 L539.66,121.45 L540.82,121.49 L541.98,121.52 L543.14,121.54 L544.30,121.56" stroke="#4f86e6"/><path d="M405.20,10.25 L406.36,27.22 L407.52,40.51 L408.68,50.12 L409.84,57.25 L411.00,61.92 L412.15,65.82 L413.31,69.21 L414.47,72.18 L415.63,74.79 L416.79,77.12 L417.95,79.24 L419.11,81.21 L420.27,83.07 L421.43,84.81 L422.59,86.43 L423.75,87.92 L424.91,89.29 L426.06,90.55 L427.22,91.77 L428.38,92.98 L429.54,94.20 L430.70,95.44 L431.86,96.71 L433.02,98.01 L434.18,99.32 L435.34,100.61 L436.50,101.87 L437.66,103.08 L438.82,104.22 L439.97,105.27 L441.13,106.20 L442.29,107.01 L443.45,107.65 L444.61,108.18 L445.77,108.59 L446.93,108.72 L448.09,108.62 L449.25,108.48 L450.41,108.31 L451.57,108.13 L452.73,107.94 L453.88,107.75 L455.04,107.58 L456.20,107.44 L457.36,107.33 L458.52,107.23 L459.68,107.13 L460.84,107.05 L462.00,106.97 L463.16,106.90 L464.32,106.86 L465.48,106.83 L466.64,106.82 L467.79,106.84 L468.95,106.88 L470.11,106.97 L471.27,107.09 L472.43,107.24 L473.59,107.42 L474.75,107.62 L475.91,107.83 L477.07,108.05 L478.23,108.29 L479.39,108.52 L480.55,108.76 L481.70,109.04 L482.86,109.34 L484.02,109.68 L485.18,110.04 L486.34,110.41 L487.50,110.79 L488.66,111.17 L489.82,111.55 L490.98,111.92 L492.14,112.30 L493.30,112.69 L494.46,113.09 L495.61,113.49 L496.77,113.89 L497.93,114.28 L499.09,114.66 L500.25,115.02 L501.41,115.35 L502.57,115.68 L503.73,116.01 L504.89,116.32 L506.05,116.63 L507.21,116.92 L508.37,117.19 L509.52,117.45 L510.68,117.68 L511.84,117.90 L513.00,118.11 L514.16,118.32 L515.32,118.52 L516.48,118.72 L517.64,118.90 L518.80,119.08 L519.96,119.24 L521.12,119.40 L522.28,119.54 L523.43,119.66 L524.59,119.78 L525.75,119.89 L526.91,120.00 L528.07,120.11 L529.23,120.21 L530.39,120.32 L531.55,120.42 L532.71,120.52 L533.87,120.61 L535.03,120.70 L536.19,120.78 L537.35,120.86 L538.50,120.94 L539.66,121.00 L540.82,121.06 L541.98,121.11 L543.14,121.15 L544.30,121.18" stroke="#3fae78"/><path d="M405.20,9.66 L406.36,25.72 L407.52,38.75 L408.68,48.49 L409.84,55.63 L411.00,60.14 L412.15,63.91 L413.31,67.22 L414.47,70.13 L415.63,72.68 L416.79,74.93 L417.95,76.94 L419.11,78.80 L420.27,80.58 L421.43,82.26 L422.59,83.82 L423.75,85.23 L424.91,86.49 L426.06,87.58 L427.22,88.61 L428.38,89.63 L429.54,90.64 L430.70,91.65 L431.86,92.67 L433.02,93.68 L434.18,94.67 L435.34,95.63 L436.50,96.55 L437.66,97.42 L438.82,98.23 L439.97,98.95 L441.13,99.56 L442.29,100.07 L443.45,100.44 L444.61,100.71 L445.77,100.85 L446.93,100.76 L448.09,100.47 L449.25,100.15 L450.41,99.80 L451.57,99.44 L452.73,99.09 L453.88,98.75 L455.04,98.45 L456.20,98.19 L457.36,97.97 L458.52,97.77 L459.68,97.57 L460.84,97.39 L462.00,97.22 L463.16,97.08 L464.32,96.95 L465.48,96.86 L466.64,96.80 L467.79,96.77 L468.95,96.79 L470.11,96.88 L471.27,97.03 L472.43,97.23 L473.59,97.48 L474.75,97.77 L475.91,98.09 L477.07,98.43 L478.23,98.79 L479.39,99.16 L480.55,99.55 L481.70,100.00 L482.86,100.51 L484.02,101.07 L485.18,101.67 L486.34,102.29 L487.50,102.94 L488.66,103.58 L489.82,104.22 L490.98,104.84 L492.14,105.48 L493.30,106.14 L494.46,106.81 L495.61,107.49 L496.77,108.17 L497.93,108.83 L499.09,109.46 L500.25,110.07 L501.41,110.64 L502.57,111.19 L503.73,111.74 L504.89,112.28 L506.05,112.79 L507.21,113.28 L508.37,113.74 L509.52,114.17 L510.68,114.56 L511.84,114.93 L513.00,115.28 L514.16,115.63 L515.32,115.97 L516.48,116.30 L517.64,116.61 L518.80,116.91 L519.96,117.19 L521.12,117.44 L522.28,117.68 L523.43,117.89 L524.59,118.07 L525.75,118.26 L526.91,118.44 L528.07,118.62 L529.23,118.80 L530.39,118.98 L531.55,119.15 L532.71,119.32 L533.87,119.47 L535.03,119.63 L536.19,119.77 L537.35,119.90 L538.50,120.02 L539.66,120.13 L540.82,120.23 L541.98,120.32 L543.14,120.39 L544.30,120.44" stroke="#b070f0"/><path d="M405.20,9.12 L406.36,24.37 L407.52,37.16 L408.68,47.01 L409.84,54.18 L411.00,58.54 L412.15,62.19 L413.31,65.42 L414.47,68.28 L415.63,70.78 L416.79,72.96 L417.95,74.86 L419.11,76.62 L420.27,78.34 L421.43,79.96 L422.59,81.47 L423.75,82.82 L424.91,83.97 L426.06,84.90 L427.22,85.77 L428.38,86.61 L429.54,87.44 L430.70,88.24 L431.86,89.02 L433.02,89.78 L434.18,90.48 L435.34,91.15 L436.50,91.77 L437.66,92.33 L438.82,92.83 L439.97,93.26 L441.13,93.59 L442.29,93.83 L443.45,93.95 L444.61,93.98 L445.77,93.89 L446.93,93.57 L448.09,93.09 L449.25,92.56 L450.41,92.00 L451.57,91.43 L452.73,90.86 L453.88,90.31 L455.04,89.81 L456.20,89.36 L457.36,88.96 L458.52,88.58 L459.68,88.21 L460.84,87.85 L462.00,87.53 L463.16,87.23 L464.32,86.98 L465.48,86.77 L466.64,86.62 L467.79,86.53 L468.95,86.51 L470.11,86.60 L471.27,86.77 L472.43,87.03 L473.59,87.35 L474.75,87.74 L475.91,88.17 L477.07,88.63 L478.23,89.12 L479.39,89.63 L480.55,90.16 L481.70,90.79 L482.86,91.50 L484.02,92.29 L485.18,93.14 L486.34,94.03 L487.50,94.94 L488.66,95.85 L489.82,96.75 L490.98,97.62 L492.14,98.53 L493.30,99.46 L494.46,100.42 L495.61,101.38 L496.77,102.34 L497.93,103.27 L499.09,104.17 L500.25,105.03 L501.41,105.83 L502.57,106.62 L503.73,107.40 L504.89,108.15 L506.05,108.88 L507.21,109.57 L508.37,110.23 L509.52,110.83 L510.68,111.39 L511.84,111.90 L513.00,112.40 L514.16,112.90 L515.32,113.38 L516.48,113.84 L517.64,114.28 L518.80,114.70 L519.96,115.09 L521.12,115.45 L522.28,115.78 L523.43,116.07 L524.59,116.34 L525.75,116.60 L526.91,116.86 L528.07,117.11 L529.23,117.37 L530.39,117.62 L531.55,117.86 L532.71,118.09 L533.87,118.32 L535.03,118.53 L536.19,118.73 L537.35,118.92 L538.50,119.09 L539.66,119.25 L540.82,119.39 L541.98,119.51 L543.14,119.61 L544.30,119.69" stroke="#d8a020"/><path d="M405.20,8.57 L406.36,22.98 L407.52,35.53 L408.68,45.49 L409.84,52.68 L411.00,56.89 L412.15,60.42 L413.31,63.58 L414.47,66.38 L415.63,68.82 L416.79,70.94 L417.95,72.74 L419.11,74.39 L420.27,76.03 L421.43,77.61 L422.59,79.06 L423.75,80.33 L424.91,81.37 L426.06,82.15 L427.22,82.85 L428.38,83.51 L429.54,84.14 L430.70,84.73 L431.86,85.28 L433.02,85.77 L434.18,86.18 L435.34,86.54 L436.50,86.85 L437.66,87.10 L438.82,87.29 L439.97,87.41 L441.13,87.45 L442.29,87.41 L443.45,87.28 L444.61,87.07 L445.77,86.72 L446.93,86.16 L448.09,85.44 L449.25,84.65 L450.41,83.82 L451.57,82.96 L452.73,82.09 L453.88,81.24 L455.04,80.44 L456.20,79.69 L457.36,79.01 L458.52,78.35 L459.68,77.69 L460.84,77.07 L462.00,76.48 L463.16,75.95 L464.32,75.48 L465.48,75.09 L466.64,74.80 L467.79,74.61 L468.95,74.55 L470.11,74.64 L471.27,74.84 L472.43,75.16 L473.59,75.57 L474.75,76.07 L475.91,76.62 L477.07,77.23 L478.23,77.87 L479.39,78.54 L480.55,79.24 L481.70,80.07 L482.86,81.03 L484.02,82.09 L485.18,83.22 L486.34,84.41 L487.50,85.63 L488.66,86.85 L489.82,88.05 L490.98,89.23 L492.14,90.44 L493.30,91.70 L494.46,92.98 L495.61,94.27 L496.77,95.55 L497.93,96.81 L499.09,98.02 L500.25,99.16 L501.41,100.24 L502.57,101.30 L503.73,102.34 L504.89,103.35 L506.05,104.33 L507.21,105.26 L508.37,106.14 L509.52,106.95 L510.68,107.69 L511.84,108.38 L513.00,109.05 L514.16,109.71 L515.32,110.35 L516.48,110.97 L517.64,111.56 L518.80,112.12 L519.96,112.65 L521.12,113.13 L522.28,113.57 L523.43,113.97 L524.59,114.32 L525.75,114.67 L526.91,115.01 L528.07,115.36 L529.23,115.70 L530.39,116.03 L531.55,116.35 L532.71,116.67 L533.87,116.97 L535.03,117.26 L536.19,117.53 L537.35,117.78 L538.50,118.01 L539.66,118.22 L540.82,118.41 L541.98,118.57 L543.14,118.71 L544.30,118.81" stroke="#20d0e0"/><path d="M405.20,7.94 L406.36,21.41 L407.52,33.68 L408.68,43.77 L409.84,50.99 L411.00,55.02 L412.15,58.41 L413.31,61.48 L414.47,64.22 L415.63,66.61 L416.79,68.64 L417.95,70.32 L419.11,71.85 L420.27,73.41 L421.43,74.93 L422.59,76.32 L423.75,77.51 L424.91,78.43 L426.06,79.03 L427.22,79.53 L428.38,80.00 L429.54,80.41 L430.70,80.76 L431.86,81.03 L433.02,81.21 L434.18,81.29 L435.34,81.31 L436.50,81.27 L437.66,81.16 L438.82,81.00 L439.97,80.77 L441.13,80.48 L442.29,80.13 L443.45,79.71 L444.61,79.22 L445.77,78.58 L446.93,77.74 L448.09,76.74 L449.25,75.65 L450.41,74.48 L451.57,73.27 L452.73,72.04 L453.88,70.82 L455.04,69.65 L456.20,68.54 L457.36,67.50 L458.52,66.48 L459.68,65.48 L460.84,64.51 L462.00,63.60 L463.16,62.77 L464.32,62.03 L465.48,61.42 L466.64,60.95 L467.79,60.65 L468.95,60.53 L470.11,60.62 L471.27,60.87 L472.43,61.25 L473.59,61.77 L474.75,62.39 L475.91,63.09 L477.07,63.87 L478.23,64.69 L479.39,65.54 L480.55,66.44 L481.70,67.52 L482.86,68.75 L484.02,70.13 L485.18,71.60 L486.34,73.14 L487.50,74.72 L488.66,76.30 L489.82,77.87 L490.98,79.39 L492.14,80.96 L493.30,82.59 L494.46,84.26 L495.61,85.94 L496.77,87.60 L497.93,89.23 L499.09,90.80 L500.25,92.29 L501.41,93.69 L502.57,95.07 L503.73,96.42 L504.89,97.73 L506.05,99.00 L507.21,100.20 L508.37,101.34 L509.52,102.40 L510.68,103.36 L511.84,104.25 L513.00,105.13 L514.16,105.98 L515.32,106.81 L516.48,107.61 L517.64,108.38 L518.80,109.11 L519.96,109.79 L521.12,110.42 L522.28,110.99 L523.43,111.50 L524.59,111.95 L525.75,112.40 L526.91,112.85 L528.07,113.30 L529.23,113.74 L530.39,114.17 L531.55,114.59 L532.71,115.00 L533.87,115.39 L535.03,115.76 L536.19,116.11 L537.35,116.44 L538.50,116.75 L539.66,117.02 L540.82,117.27 L541.98,117.48 L543.14,117.65 L544.30,117.79" stroke="#98707e"/><path d="M405.20,7.29 L406.36,19.78 L407.52,31.76 L408.68,41.99 L409.84,49.23 L411.00,53.09 L412.15,56.34 L413.31,59.32 L414.47,61.99 L415.63,64.32 L416.79,66.27 L417.95,67.82 L419.11,69.23 L420.27,70.71 L421.43,72.16 L422.59,73.49 L423.75,74.60 L424.91,75.39 L426.06,75.80 L427.22,76.11 L428.38,76.36 L429.54,76.55 L430.70,76.65 L431.86,76.64 L433.02,76.51 L434.18,76.25 L435.34,75.91 L436.50,75.50 L437.66,75.03 L438.82,74.50 L439.97,73.91 L441.13,73.28 L442.29,72.60 L443.45,71.89 L444.61,71.11 L445.77,70.21 L446.93,69.20 L448.09,68.11 L449.25,66.97 L450.41,65.81 L451.57,64.64 L452.73,63.50 L453.88,62.41 L455.04,61.40 L456.20,60.49 L457.36,59.69 L458.52,58.90 L459.68,58.13 L460.84,57.39 L462.00,56.70 L463.16,56.07 L464.32,55.52 L465.48,55.05 L466.64,54.69 L467.79,54.44 L468.95,54.33 L470.11,54.41 L471.27,54.68 L472.43,55.10 L473.59,55.66 L474.75,56.33 L475.91,57.10 L477.07,57.95 L478.23,58.85 L479.39,59.79 L480.55,60.77 L481.70,61.96 L482.86,63.32 L484.02,64.83 L485.18,66.45 L486.34,68.15 L487.50,69.89 L488.66,71.64 L489.82,73.36 L490.98,75.03 L492.14,76.77 L493.30,78.56 L494.46,80.40 L495.61,82.25 L496.77,84.08 L497.93,85.88 L499.09,87.61 L500.25,89.25 L501.41,90.79 L502.57,92.30 L503.73,93.79 L504.89,95.24 L506.05,96.64 L507.21,97.97 L508.37,99.22 L509.52,100.38 L510.68,101.44 L511.84,102.42 L513.00,103.39 L514.16,104.33 L515.32,105.25 L516.48,106.13 L517.64,106.97 L518.80,107.77 L519.96,108.52 L521.12,109.21 L522.28,109.84 L523.43,110.40 L524.59,110.91 L525.75,111.40 L526.91,111.90 L528.07,112.39 L529.23,112.87 L530.39,113.35 L531.55,113.81 L532.71,114.26 L533.87,114.69 L535.03,115.10 L536.19,115.49 L537.35,115.85 L538.50,116.19 L539.66,116.49 L540.82,116.76 L541.98,116.99 L543.14,117.18 L544.30,117.33" stroke="#a0a030"/></g>
<rect x="405.2" y="18.5" width="139.10" height="112.10" fill="none" stroke="#606060" stroke-width="0.9"/>
<path d="M403.40,130.60H405.20M404.20,121.26H405.20M403.40,111.92H405.20M404.20,102.57H405.20M403.40,93.23H405.20M404.20,83.89H405.20M403.40,74.55H405.20M404.20,65.21H405.20M403.40,55.87H405.20M404.20,46.52H405.20M403.40,37.18H405.20M404.20,27.84H405.20M403.40,18.50H405.20M405.20,130.60V132.40M416.79,130.60V131.60M428.38,130.60V132.40M439.97,130.60V131.60M451.57,130.60V132.40M463.16,130.60V131.60M474.75,130.60V132.40M486.34,130.60V131.60M497.93,130.60V132.40M509.52,130.60V131.60M521.12,130.60V132.40M532.71,130.60V131.60M544.30,130.60V132.40" stroke="#5a5a5a" stroke-width="0.7" fill="none"/>
<text x="401.80" y="132.30" font-family='"Liberation Serif", serif' font-size="5.0" text-anchor="end" fill="#444" >0.0</text>
<text x="405.20" y="137.90" font-family='"Liberation Serif", serif' font-size="4.9" text-anchor="middle" fill="#444" >300</text>
<text x="401.80" y="113.62" font-family='"Liberation Serif", serif' font-size="5.0" text-anchor="end" fill="#444" >0.1</text>
<text x="428.38" y="137.90" font-family='"Liberation Serif", serif' font-size="4.9" text-anchor="middle" fill="#444" >350</text>
<text x="401.80" y="94.93" font-family='"Liberation Serif", serif' font-size="5.0" text-anchor="end" fill="#444" >0.2</text>
<text x="451.57" y="137.90" font-family='"Liberation Serif", serif' font-size="4.9" text-anchor="middle" fill="#444" >400</text>
<text x="401.80" y="76.25" font-family='"Liberation Serif", serif' font-size="5.0" text-anchor="end" fill="#444" >0.3</text>
<text x="474.75" y="137.90" font-family='"Liberation Serif", serif' font-size="4.9" text-anchor="middle" fill="#444" >450</text>
<text x="401.80" y="57.57" font-family='"Liberation Serif", serif' font-size="5.0" text-anchor="end" fill="#444" >0.4</text>
<text x="497.93" y="137.90" font-family='"Liberation Serif", serif' font-size="4.9" text-anchor="middle" fill="#444" >500</text>
<text x="401.80" y="38.88" font-family='"Liberation Serif", serif' font-size="5.0" text-anchor="end" fill="#444" >0.5</text>
<text x="521.12" y="137.90" font-family='"Liberation Serif", serif' font-size="4.9" text-anchor="middle" fill="#444" >550</text>
<text x="401.80" y="20.20" font-family='"Liberation Serif", serif' font-size="5.0" text-anchor="end" fill="#444" >0.6</text>
<text x="544.30" y="137.90" font-family='"Liberation Serif", serif' font-size="4.9" text-anchor="middle" fill="#444" >600</text>
<text x="474.75" y="144.90" font-family='"Liberation Serif", serif' font-size="7.5" text-anchor="middle" fill="#222" >Wavelength (nm)</text>
<text x="0" y="0" font-family='"Liberation Serif", serif' font-size="7.6" text-anchor="middle" fill="#222" transform="translate(394.60,70.95) rotate(-90)">Absorbance</text>
<path d="M508.80,22.30H522.80" stroke="#7c7c7c" stroke-width="0.9" opacity="0.75"/>
<text x="524.50" y="24.40" font-family='"Liberation Serif", serif' font-size="6.1" text-anchor="start" fill="#222" >Blank</text>
<path d="M508.80,30.12H522.80" stroke="#f06060" stroke-width="0.9" opacity="0.75"/>
<text x="524.50" y="32.22" font-family='"Liberation Serif", serif' font-size="6.1" text-anchor="start" fill="#222" >2uM</text>
<path d="M508.80,37.94H522.80" stroke="#4f86e6" stroke-width="0.9" opacity="0.75"/>
<text x="524.50" y="40.04" font-family='"Liberation Serif", serif' font-size="6.1" text-anchor="start" fill="#222" >5uM</text>
<path d="M508.80,45.76H522.80" stroke="#3fae78" stroke-width="0.9" opacity="0.75"/>
<text x="524.50" y="47.86" font-family='"Liberation Serif", serif' font-size="6.1" text-anchor="start" fill="#222" >10uM</text>
<path d="M508.80,53.58H522.80" stroke="#b070f0" stroke-width="0.9" opacity="0.75"/>
<text x="524.50" y="55.68" font-family='"Liberation Serif", serif' font-size="6.1" text-anchor="start" fill="#222" >20uM</text>
<path d="M508.80,61.40H522.80" stroke="#d8a020" stroke-width="0.9" opacity="0.75"/>
<text x="524.50" y="63.50" font-family='"Liberation Serif", serif' font-size="6.1" text-anchor="start" fill="#222" >40uM</text>
<path d="M508.80,69.22H522.80" stroke="#20d0e0" stroke-width="0.9" opacity="0.75"/>
<text x="524.50" y="71.32" font-family='"Liberation Serif", serif' font-size="6.1" text-anchor="start" fill="#222" >60uM</text>
<path d="M508.80,77.04H522.80" stroke="#98707e" stroke-width="0.9" opacity="0.75"/>
<text x="524.50" y="79.14" font-family='"Liberation Serif", serif' font-size="6.1" text-anchor="start" fill="#222" >80uM</text>
<path d="M508.80,84.86H522.80" stroke="#a0a030" stroke-width="0.9" opacity="0.75"/>
<text x="524.50" y="86.96" font-family='"Liberation Serif", serif' font-size="6.1" text-anchor="start" fill="#222" >100uM</text>
<text x="378.2" y="15.8" font-family='"Liberation Serif", serif' font-size="32" text-anchor="start" fill="#000" stroke="#000" stroke-width="0.45" >c</text>
<clipPath id="clipd"><rect x="237.2" y="157.0" width="139.30" height="112.50"/></clipPath>
<g clip-path="url(#clipd)" fill="none" stroke-width="0.9" stroke-linejoin="round"><path d="M237.20,149.50 L238.36,170.42 L239.52,185.12 L240.68,194.07 L241.84,200.12 L243.00,204.38 L244.16,207.79 L245.33,210.65 L246.49,213.25 L247.65,215.63 L248.81,217.73 L249.97,219.70 L251.13,221.69 L252.29,223.74 L253.45,225.78 L254.61,227.79 L255.77,229.75 L256.93,231.63 L258.09,233.44 L259.26,235.18 L260.42,236.88 L261.58,238.52 L262.74,240.12 L263.90,241.68 L265.06,243.19 L266.22,244.65 L267.38,246.07 L268.54,247.47 L269.70,248.88 L270.86,250.35 L272.02,251.88 L273.19,253.37 L274.35,254.72 L275.51,255.82 L276.67,256.68 L277.83,257.40 L278.99,257.88 L280.15,258.13 L281.31,258.32 L282.47,258.47 L283.63,258.62 L284.79,258.80 L285.95,258.97 L287.12,259.14 L288.28,259.30 L289.44,259.43 L290.60,259.53 L291.76,259.60 L292.92,259.66 L294.08,259.71 L295.24,259.77 L296.40,259.81 L297.56,259.86 L298.72,259.90 L299.88,259.94 L301.05,259.98 L302.21,260.01 L303.37,260.04 L304.53,260.07 L305.69,260.10 L306.85,260.13 L308.01,260.16 L309.17,260.18 L310.33,260.20 L311.49,260.23 L312.65,260.25 L313.81,260.27 L314.98,260.29 L316.14,260.31 L317.30,260.33 L318.46,260.36 L319.62,260.38 L320.78,260.40 L321.94,260.42 L323.10,260.44 L324.26,260.46 L325.42,260.48 L326.58,260.51 L327.75,260.53 L328.91,260.55 L330.07,260.57 L331.23,260.59 L332.39,260.61 L333.55,260.63 L334.71,260.65 L335.87,260.67 L337.03,260.69 L338.19,260.70 L339.35,260.72 L340.51,260.74 L341.68,260.76 L342.84,260.78 L344.00,260.79 L345.16,260.81 L346.32,260.83 L347.48,260.84 L348.64,260.86 L349.80,260.87 L350.96,260.89 L352.12,260.90 L353.28,260.92 L354.44,260.93 L355.61,260.94 L356.77,260.95 L357.93,260.97 L359.09,260.98 L360.25,260.99 L361.41,261.00 L362.57,261.01 L363.73,261.02 L364.89,261.02 L366.05,261.03 L367.21,261.04 L368.37,261.04 L369.53,261.05 L370.70,261.05 L371.86,261.06 L373.02,261.06 L374.18,261.06 L375.34,261.06 L376.50,261.06" stroke="#7c7c7c"/><path d="M237.20,149.10 L238.36,169.66 L239.52,184.33 L240.68,193.06 L241.84,198.94 L243.00,203.14 L244.16,206.51 L245.33,209.34 L246.49,211.95 L247.65,214.33 L248.81,216.37 L249.97,218.25 L251.13,220.14 L252.29,222.05 L253.45,223.91 L254.61,225.68 L255.77,227.37 L256.93,228.98 L258.09,230.51 L259.26,231.98 L260.42,233.39 L261.58,234.76 L262.74,236.08 L263.90,237.36 L265.06,238.60 L266.22,239.79 L267.38,240.96 L268.54,242.11 L269.70,243.27 L270.86,244.49 L272.02,245.78 L273.19,247.03 L274.35,248.16 L275.51,249.08 L276.67,249.81 L277.83,250.41 L278.99,250.75 L280.15,250.85 L281.31,250.84 L282.47,250.78 L283.63,250.69 L284.79,250.61 L285.95,250.52 L287.12,250.44 L288.28,250.35 L289.44,250.27 L290.60,250.16 L291.76,250.02 L292.92,249.89 L294.08,249.76 L295.24,249.65 L296.40,249.56 L297.56,249.48 L298.72,249.44 L299.88,249.42 L301.05,249.44 L302.21,249.49 L303.37,249.56 L304.53,249.66 L305.69,249.77 L306.85,249.90 L308.01,250.04 L309.17,250.20 L310.33,250.38 L311.49,250.57 L312.65,250.77 L313.81,250.97 L314.98,251.19 L316.14,251.42 L317.30,251.65 L318.46,251.88 L319.62,252.12 L320.78,252.38 L321.94,252.65 L323.10,252.92 L324.26,253.20 L325.42,253.49 L326.58,253.78 L327.75,254.07 L328.91,254.36 L330.07,254.64 L331.23,254.92 L332.39,255.20 L333.55,255.47 L334.71,255.74 L335.87,256.01 L337.03,256.28 L338.19,256.54 L339.35,256.79 L340.51,257.04 L341.68,257.28 L342.84,257.51 L344.00,257.72 L345.16,257.93 L346.32,258.13 L347.48,258.31 L348.64,258.49 L349.80,258.66 L350.96,258.82 L352.12,258.98 L353.28,259.12 L354.44,259.26 L355.61,259.39 L356.77,259.50 L357.93,259.61 L359.09,259.71 L360.25,259.81 L361.41,259.89 L362.57,259.97 L363.73,260.05 L364.89,260.12 L366.05,260.18 L367.21,260.23 L368.37,260.29 L369.53,260.33 L370.70,260.37 L371.86,260.41 L373.02,260.44 L374.18,260.46 L375.34,260.49 L376.50,260.50" stroke="#f06060"/><path d="M237.20,148.67 L238.36,168.84 L239.52,183.46 L240.68,191.95 L241.84,197.65 L243.00,201.78 L244.16,205.10 L245.33,207.91 L246.49,210.54 L247.65,212.91 L248.81,214.89 L249.97,216.67 L251.13,218.45 L252.29,220.21 L253.45,221.86 L254.61,223.37 L255.77,224.77 L256.93,226.08 L258.09,227.30 L259.26,228.47 L260.42,229.59 L261.58,230.65 L262.74,231.67 L263.90,232.64 L265.06,233.58 L266.22,234.48 L267.38,235.37 L268.54,236.26 L269.70,237.15 L270.86,238.10 L272.02,239.11 L273.19,240.10 L274.35,240.99 L275.51,241.72 L276.67,242.31 L277.83,242.79 L278.99,243.00 L280.15,242.97 L281.31,242.83 L282.47,242.61 L283.63,242.36 L284.79,242.11 L285.95,241.86 L287.12,241.63 L288.28,241.42 L289.44,241.24 L290.60,241.04 L291.76,240.83 L292.92,240.62 L294.08,240.42 L295.24,240.25 L296.40,240.10 L297.56,239.98 L298.72,239.90 L299.88,239.87 L301.05,239.88 L302.21,239.94 L303.37,240.04 L304.53,240.17 L305.69,240.34 L306.85,240.54 L308.01,240.77 L309.17,241.03 L310.33,241.32 L311.49,241.62 L312.65,241.94 L313.81,242.28 L314.98,242.64 L316.14,243.00 L317.30,243.38 L318.46,243.76 L319.62,244.16 L320.78,244.58 L321.94,245.03 L323.10,245.49 L324.26,245.96 L325.42,246.45 L326.58,246.94 L327.75,247.43 L328.91,247.92 L330.07,248.41 L331.23,248.89 L332.39,249.36 L333.55,249.83 L334.71,250.30 L335.87,250.77 L337.03,251.23 L338.19,251.69 L339.35,252.14 L340.51,252.58 L341.68,253.01 L342.84,253.42 L344.00,253.81 L345.16,254.18 L346.32,254.54 L347.48,254.87 L348.64,255.20 L349.80,255.51 L350.96,255.81 L352.12,256.10 L353.28,256.37 L354.44,256.63 L355.61,256.87 L356.77,257.10 L357.93,257.31 L359.09,257.50 L360.25,257.68 L361.41,257.85 L362.57,258.01 L363.73,258.16 L364.89,258.30 L366.05,258.43 L367.21,258.55 L368.37,258.66 L369.53,258.76 L370.70,258.85 L371.86,258.94 L373.02,259.01 L374.18,259.08 L375.34,259.14 L376.50,259.19" stroke="#4f86e6"/><path d="M237.20,148.38 L238.36,168.29 L239.52,182.87 L240.68,191.21 L241.84,196.77 L243.00,200.86 L244.16,204.16 L245.33,206.95 L246.49,209.58 L247.65,211.95 L248.81,213.89 L249.97,215.61 L251.13,217.31 L252.29,218.97 L253.45,220.48 L254.61,221.81 L255.77,223.02 L256.93,224.12 L258.09,225.14 L259.26,226.11 L260.42,227.02 L261.58,227.88 L262.74,228.69 L263.90,229.46 L265.06,230.19 L266.22,230.90 L267.38,231.60 L268.54,232.31 L269.70,233.02 L270.86,233.78 L272.02,234.61 L273.19,235.42 L274.35,236.15 L275.51,236.76 L276.67,237.25 L277.83,237.63 L278.99,237.75 L280.15,237.59 L281.31,237.30 L282.47,236.92 L283.63,236.49 L284.79,236.05 L285.95,235.60 L287.12,235.17 L288.28,234.77 L289.44,234.42 L290.60,234.07 L291.76,233.69 L292.92,233.34 L294.08,233.00 L295.24,232.70 L296.40,232.44 L297.56,232.23 L298.72,232.08 L299.88,232.01 L301.05,232.01 L302.21,232.07 L303.37,232.19 L304.53,232.37 L305.69,232.59 L306.85,232.85 L308.01,233.16 L309.17,233.50 L310.33,233.88 L311.49,234.28 L312.65,234.72 L313.81,235.17 L314.98,235.65 L316.14,236.14 L317.30,236.64 L318.46,237.15 L319.62,237.69 L320.78,238.25 L321.94,238.85 L323.10,239.47 L324.26,240.12 L325.42,240.77 L326.58,241.43 L327.75,242.10 L328.91,242.76 L330.07,243.43 L331.23,244.08 L332.39,244.72 L333.55,245.35 L334.71,245.99 L335.87,246.63 L337.03,247.26 L338.19,247.89 L339.35,248.51 L340.51,249.11 L341.68,249.69 L342.84,250.25 L344.00,250.79 L345.16,251.30 L346.32,251.78 L347.48,252.25 L348.64,252.69 L349.80,253.12 L350.96,253.54 L352.12,253.93 L353.28,254.31 L354.44,254.66 L355.61,255.00 L356.77,255.31 L357.93,255.60 L359.09,255.87 L360.25,256.12 L361.41,256.35 L362.57,256.57 L363.73,256.78 L364.89,256.97 L366.05,257.16 L367.21,257.33 L368.37,257.48 L369.53,257.63 L370.70,257.76 L371.86,257.89 L373.02,258.00 L374.18,258.10 L375.34,258.18 L376.50,258.25" stroke="#3fae78"/><path d="M237.20,148.08 L238.36,167.71 L239.52,182.26 L240.68,190.43 L241.84,195.87 L243.00,199.91 L244.16,203.18 L245.33,205.95 L246.49,208.59 L247.65,210.96 L248.81,212.86 L249.97,214.50 L251.13,216.12 L252.29,217.68 L253.45,219.05 L254.61,220.19 L255.77,221.20 L256.93,222.10 L258.09,222.90 L259.26,223.66 L260.42,224.36 L261.58,225.00 L262.74,225.59 L263.90,226.15 L265.06,226.68 L266.22,227.18 L267.38,227.69 L268.54,228.21 L269.70,228.73 L270.86,229.31 L272.02,229.94 L273.19,230.57 L274.35,231.13 L275.51,231.61 L276.67,232.00 L277.83,232.29 L278.99,232.32 L280.15,232.08 L281.31,231.69 L282.47,231.20 L283.63,230.65 L284.79,230.09 L285.95,229.52 L287.12,228.99 L288.28,228.50 L289.44,228.07 L290.60,227.65 L291.76,227.22 L292.92,226.81 L294.08,226.42 L295.24,226.07 L296.40,225.77 L297.56,225.53 L298.72,225.35 L299.88,225.26 L301.05,225.26 L302.21,225.33 L303.37,225.47 L304.53,225.67 L305.69,225.93 L306.85,226.25 L308.01,226.62 L309.17,227.03 L310.33,227.48 L311.49,227.97 L312.65,228.49 L313.81,229.04 L314.98,229.61 L316.14,230.20 L317.30,230.80 L318.46,231.42 L319.62,232.06 L320.78,232.74 L321.94,233.47 L323.10,234.22 L324.26,234.99 L325.42,235.79 L326.58,236.59 L327.75,237.40 L328.91,238.21 L330.07,239.01 L331.23,239.80 L332.39,240.58 L333.55,241.35 L334.71,242.13 L335.87,242.91 L337.03,243.69 L338.19,244.46 L339.35,245.21 L340.51,245.94 L341.68,246.66 L342.84,247.35 L344.00,248.01 L345.16,248.64 L346.32,249.23 L347.48,249.80 L348.64,250.35 L349.80,250.88 L350.96,251.40 L352.12,251.88 L353.28,252.35 L354.44,252.79 L355.61,253.21 L356.77,253.60 L357.93,253.96 L359.09,254.29 L360.25,254.60 L361.41,254.90 L362.57,255.17 L363.73,255.43 L364.89,255.68 L366.05,255.91 L367.21,256.12 L368.37,256.32 L369.53,256.51 L370.70,256.68 L371.86,256.84 L373.02,256.98 L374.18,257.11 L375.34,257.22 L376.50,257.31" stroke="#b070f0"/><path d="M237.20,147.73 L238.36,167.05 L239.52,181.56 L240.68,189.55 L241.84,194.83 L243.00,198.83 L244.16,202.05 L245.33,204.81 L246.49,207.46 L247.65,209.83 L248.81,211.67 L249.97,213.24 L251.13,214.77 L252.29,216.21 L253.45,217.41 L254.61,218.34 L255.77,219.12 L256.93,219.78 L258.09,220.34 L259.26,220.85 L260.42,221.32 L261.58,221.71 L262.74,222.06 L263.90,222.38 L265.06,222.66 L266.22,222.94 L267.38,223.22 L268.54,223.52 L269.70,223.83 L270.86,224.19 L272.02,224.61 L273.19,225.02 L274.35,225.39 L275.51,225.72 L276.67,226.00 L277.83,226.19 L278.99,226.11 L280.15,225.75 L281.31,225.22 L282.47,224.57 L283.63,223.85 L284.79,223.11 L285.95,222.37 L287.12,221.66 L288.28,221.01 L289.44,220.45 L290.60,219.90 L291.76,219.35 L292.92,218.82 L294.08,218.33 L295.24,217.88 L296.40,217.50 L297.56,217.18 L298.72,216.96 L299.88,216.83 L301.05,216.82 L302.21,216.90 L303.37,217.07 L304.53,217.31 L305.69,217.63 L306.85,218.01 L308.01,218.46 L309.17,218.97 L310.33,219.52 L311.49,220.12 L312.65,220.76 L313.81,221.44 L314.98,222.14 L316.14,222.87 L317.30,223.61 L318.46,224.37 L319.62,225.16 L320.78,226.01 L321.94,226.90 L323.10,227.83 L324.26,228.78 L325.42,229.76 L326.58,230.76 L327.75,231.76 L328.91,232.75 L330.07,233.75 L331.23,234.72 L332.39,235.68 L333.55,236.64 L334.71,237.60 L335.87,238.57 L337.03,239.52 L338.19,240.47 L339.35,241.40 L340.51,242.31 L341.68,243.19 L342.84,244.05 L344.00,244.86 L345.16,245.64 L346.32,246.38 L347.48,247.08 L348.64,247.76 L349.80,248.42 L350.96,249.05 L352.12,249.66 L353.28,250.23 L354.44,250.78 L355.61,251.29 L356.77,251.77 L357.93,252.22 L359.09,252.64 L360.25,253.02 L361.41,253.38 L362.57,253.72 L363.73,254.04 L364.89,254.34 L366.05,254.63 L367.21,254.90 L368.37,255.14 L369.53,255.37 L370.70,255.59 L371.86,255.78 L373.02,255.96 L374.18,256.12 L375.34,256.27 L376.50,256.38" stroke="#d8a020"/><path d="M237.20,147.43 L238.36,166.48 L239.52,180.95 L240.68,188.77 L241.84,193.93 L243.00,197.88 L244.16,201.07 L245.33,203.81 L246.49,206.46 L247.65,208.83 L248.81,210.63 L249.97,212.13 L251.13,213.59 L252.29,214.92 L253.45,215.98 L254.61,216.72 L255.77,217.30 L256.93,217.75 L258.09,218.10 L259.26,218.40 L260.42,218.65 L261.58,218.84 L262.74,218.97 L263.90,219.07 L265.06,219.15 L266.22,219.22 L267.38,219.31 L268.54,219.42 L269.70,219.55 L270.86,219.72 L272.02,219.94 L273.19,220.17 L274.35,220.37 L275.51,220.57 L276.67,220.75 L277.83,220.84 L278.99,220.65 L280.15,220.15 L281.31,219.45 L282.47,218.61 L283.63,217.68 L284.79,216.71 L285.95,215.74 L287.12,214.79 L288.28,213.92 L289.44,213.15 L290.60,212.40 L291.76,211.66 L292.92,210.94 L294.08,210.27 L295.24,209.66 L296.40,209.14 L297.56,208.71 L298.72,208.40 L299.88,208.22 L301.05,208.19 L302.21,208.28 L303.37,208.46 L304.53,208.74 L305.69,209.09 L306.85,209.53 L308.01,210.03 L309.17,210.60 L310.33,211.22 L311.49,211.90 L312.65,212.62 L313.81,213.38 L314.98,214.18 L316.14,214.99 L317.30,215.83 L318.46,216.68 L319.62,217.58 L320.78,218.53 L321.94,219.55 L323.10,220.60 L324.26,221.69 L325.42,222.81 L326.58,223.95 L327.75,225.10 L328.91,226.24 L330.07,227.38 L331.23,228.51 L332.39,229.62 L333.55,230.72 L334.71,231.84 L335.87,232.96 L337.03,234.08 L338.19,235.18 L339.35,236.28 L340.51,237.35 L341.68,238.39 L342.84,239.39 L344.00,240.36 L345.16,241.28 L346.32,242.16 L347.48,243.00 L348.64,243.81 L349.80,244.60 L350.96,245.36 L352.12,246.09 L353.28,246.78 L354.44,247.44 L355.61,248.07 L356.77,248.66 L357.93,249.21 L359.09,249.72 L360.25,250.19 L361.41,250.64 L362.57,251.06 L363.73,251.46 L364.89,251.85 L366.05,252.21 L367.21,252.55 L368.37,252.86 L369.53,253.16 L370.70,253.44 L371.86,253.70 L373.02,253.93 L374.18,254.15 L375.34,254.35 L376.50,254.50" stroke="#20d0e0"/><path d="M237.20,146.80 L238.36,165.28 L239.52,179.68 L240.68,187.17 L241.84,192.05 L243.00,195.91 L244.16,199.04 L245.33,201.73 L246.49,204.41 L247.65,206.78 L248.81,208.49 L249.97,209.84 L251.13,211.14 L252.29,212.25 L253.45,213.01 L254.61,213.37 L255.77,213.52 L256.93,213.54 L258.09,213.46 L259.26,213.32 L260.42,213.14 L261.58,212.88 L262.74,212.57 L263.90,212.23 L265.06,211.87 L266.22,211.52 L267.38,211.21 L268.54,210.93 L269.70,210.67 L270.86,210.45 L272.02,210.27 L273.19,210.12 L274.35,209.98 L275.51,209.90 L276.67,209.88 L277.83,209.78 L278.99,209.44 L280.15,208.78 L281.31,207.91 L282.47,206.88 L283.63,205.76 L284.79,204.60 L285.95,203.45 L287.12,202.36 L288.28,201.37 L289.44,200.53 L290.60,199.72 L291.76,198.93 L292.92,198.17 L294.08,197.46 L295.24,196.82 L296.40,196.26 L297.56,195.81 L298.72,195.48 L299.88,195.29 L301.05,195.26 L302.21,195.35 L303.37,195.55 L304.53,195.85 L305.69,196.24 L306.85,196.72 L308.01,197.28 L309.17,197.92 L310.33,198.61 L311.49,199.36 L312.65,200.17 L313.81,201.01 L314.98,201.89 L316.14,202.80 L317.30,203.72 L318.46,204.66 L319.62,205.65 L320.78,206.72 L321.94,207.86 L323.10,209.06 L324.26,210.30 L325.42,211.57 L326.58,212.88 L327.75,214.20 L328.91,215.52 L330.07,216.84 L331.23,218.15 L332.39,219.43 L333.55,220.72 L334.71,222.03 L335.87,223.35 L337.03,224.68 L338.19,226.01 L339.35,227.32 L340.51,228.62 L341.68,229.88 L342.84,231.11 L344.00,232.29 L345.16,233.42 L346.32,234.50 L347.48,235.53 L348.64,236.54 L349.80,237.53 L350.96,238.49 L352.12,239.41 L353.28,240.30 L354.44,241.15 L355.61,241.95 L356.77,242.72 L357.93,243.43 L359.09,244.10 L360.25,244.72 L361.41,245.30 L362.57,245.87 L363.73,246.41 L364.89,246.93 L366.05,247.43 L367.21,247.90 L368.37,248.34 L369.53,248.77 L370.70,249.17 L371.86,249.54 L373.02,249.89 L374.18,250.21 L375.34,250.51 L376.50,250.75" stroke="#98707e"/><path d="M237.20,145.75 L238.36,163.29 L239.52,177.57 L240.68,184.49 L241.84,188.92 L243.00,192.63 L244.16,195.64 L245.33,198.28 L246.49,200.98 L247.65,203.34 L248.81,204.90 L249.97,206.02 L251.13,207.05 L252.29,207.79 L253.45,208.06 L254.61,207.78 L255.77,207.23 L256.93,206.53 L258.09,205.71 L259.26,204.85 L260.42,203.93 L261.58,202.93 L262.74,201.88 L263.90,200.80 L265.06,199.73 L266.22,198.68 L267.38,197.69 L268.54,196.76 L269.70,195.85 L270.86,194.97 L272.02,194.13 L273.19,193.35 L274.35,192.62 L275.51,192.09 L276.67,191.73 L277.83,191.34 L278.99,190.75 L280.15,189.86 L281.31,188.74 L282.47,187.47 L283.63,186.10 L284.79,184.70 L285.95,183.35 L287.12,182.09 L288.28,181.01 L289.44,180.15 L290.60,179.34 L291.76,178.56 L292.92,177.82 L294.08,177.13 L295.24,176.51 L296.40,175.98 L297.56,175.55 L298.72,175.23 L299.88,175.04 L301.05,175.00 L302.21,175.09 L303.37,175.28 L304.53,175.56 L305.69,175.94 L306.85,176.39 L308.01,176.93 L309.17,177.52 L310.33,178.18 L311.49,178.89 L312.65,179.64 L313.81,180.43 L314.98,181.25 L316.14,182.09 L317.30,182.95 L318.46,183.81 L319.62,184.73 L320.78,185.75 L321.94,186.86 L323.10,188.06 L324.26,189.32 L325.42,190.63 L326.58,191.99 L327.75,193.37 L328.91,194.78 L330.07,196.20 L331.23,197.61 L332.39,199.00 L333.55,200.41 L334.71,201.88 L335.87,203.40 L337.03,204.94 L338.19,206.51 L339.35,208.08 L340.51,209.65 L341.68,211.20 L342.84,212.72 L344.00,214.21 L345.16,215.64 L346.32,217.00 L347.48,218.33 L348.64,219.65 L349.80,220.95 L350.96,222.24 L352.12,223.49 L353.28,224.72 L354.44,225.91 L355.61,227.05 L356.77,228.14 L357.93,229.17 L359.09,230.14 L360.25,231.04 L361.41,231.92 L362.57,232.77 L363.73,233.61 L364.89,234.42 L366.05,235.21 L367.21,235.97 L368.37,236.71 L369.53,237.43 L370.70,238.11 L371.86,238.77 L373.02,239.39 L374.18,239.99 L375.34,240.55 L376.50,241.00" stroke="#a0a030"/></g>
<rect x="237.2" y="157.0" width="139.30" height="112.50" fill="none" stroke="#606060" stroke-width="0.9"/>
<path d="M235.40,269.50H237.20M236.20,260.12H237.20M235.40,250.75H237.20M236.20,241.38H237.20M235.40,232.00H237.20M236.20,222.62H237.20M235.40,213.25H237.20M236.20,203.88H237.20M235.40,194.50H237.20M236.20,185.12H237.20M235.40,175.75H237.20M236.20,166.38H237.20M235.40,157.00H237.20M237.20,269.50V271.30M248.81,269.50V270.50M260.42,269.50V271.30M272.02,269.50V270.50M283.63,269.50V271.30M295.24,269.50V270.50M306.85,269.50V271.30M318.46,269.50V270.50M330.07,269.50V271.30M341.68,269.50V270.50M353.28,269.50V271.30M364.89,269.50V270.50M376.50,269.50V271.30" stroke="#5a5a5a" stroke-width="0.7" fill="none"/>
<text x="233.80" y="271.20" font-family='"Liberation Serif", serif' font-size="5.0" text-anchor="end" fill="#444" >0.0</text>
<text x="237.20" y="276.80" font-family='"Liberation Serif", serif' font-size="4.9" text-anchor="middle" fill="#444" >300</text>
<text x="233.80" y="252.45" font-family='"Liberation Serif", serif' font-size="5.0" text-anchor="end" fill="#444" >0.1</text>
<text x="260.42" y="276.80" font-family='"Liberation Serif", serif' font-size="4.9" text-anchor="middle" fill="#444" >350</text>
<text x="233.80" y="233.70" font-family='"Liberation Serif", serif' font-size="5.0" text-anchor="end" fill="#444" >0.2</text>
<text x="283.63" y="276.80" font-family='"Liberation Serif", serif' font-size="4.9" text-anchor="middle" fill="#444" >400</text>
<text x="233.80" y="214.95" font-family='"Liberation Serif", serif' font-size="5.0" text-anchor="end" fill="#444" >0.3</text>
<text x="306.85" y="276.80" font-family='"Liberation Serif", serif' font-size="4.9" text-anchor="middle" fill="#444" >450</text>
<text x="233.80" y="196.20" font-family='"Liberation Serif", serif' font-size="5.0" text-anchor="end" fill="#444" >0.4</text>
<text x="330.07" y="276.80" font-family='"Liberation Serif", serif' font-size="4.9" text-anchor="middle" fill="#444" >500</text>
<text x="233.80" y="177.45" font-family='"Liberation Serif", serif' font-size="5.0" text-anchor="end" fill="#444" >0.5</text>
<text x="353.28" y="276.80" font-family='"Liberation Serif", serif' font-size="4.9" text-anchor="middle" fill="#444" >550</text>
<text x="233.80" y="158.70" font-family='"Liberation Serif", serif' font-size="5.0" text-anchor="end" fill="#444" >0.6</text>
<text x="376.50" y="276.80" font-family='"Liberation Serif", serif' font-size="4.9" text-anchor="middle" fill="#444" >600</text>
<text x="306.85" y="283.80" font-family='"Liberation Serif", serif' font-size="7.5" text-anchor="middle" fill="#222" >Wavelength (nm)</text>
<text x="0" y="0" font-family='"Liberation Serif", serif' font-size="7.6" text-anchor="middle" fill="#222" transform="translate(226.60,209.65) rotate(-90)">Absorbance</text>
<path d="M341.00,160.80H355.00" stroke="#7c7c7c" stroke-width="0.9" opacity="0.75"/>
<text x="356.70" y="162.90" font-family='"Liberation Serif", serif' font-size="6.1" text-anchor="start" fill="#222" >Blank</text>
<path d="M341.00,168.62H355.00" stroke="#f06060" stroke-width="0.9" opacity="0.75"/>
<text x="356.70" y="170.72" font-family='"Liberation Serif", serif' font-size="6.1" text-anchor="start" fill="#222" >2uM</text>
<path d="M341.00,176.44H355.00" stroke="#4f86e6" stroke-width="0.9" opacity="0.75"/>
<text x="356.70" y="178.54" font-family='"Liberation Serif", serif' font-size="6.1" text-anchor="start" fill="#222" >5uM</text>
<path d="M341.00,184.26H355.00" stroke="#3fae78" stroke-width="0.9" opacity="0.75"/>
<text x="356.70" y="186.36" font-family='"Liberation Serif", serif' font-size="6.1" text-anchor="start" fill="#222" >10uM</text>
<path d="M341.00,192.08H355.00" stroke="#b070f0" stroke-width="0.9" opacity="0.75"/>
<text x="356.70" y="194.18" font-family='"Liberation Serif", serif' font-size="6.1" text-anchor="start" fill="#222" >20uM</text>
<path d="M341.00,199.90H355.00" stroke="#d8a020" stroke-width="0.9" opacity="0.75"/>
<text x="356.70" y="202.00" font-family='"Liberation Serif", serif' font-size="6.1" text-anchor="start" fill="#222" >40uM</text>
<path d="M341.00,207.72H355.00" stroke="#20d0e0" stroke-width="0.9" opacity="0.75"/>
<text x="356.70" y="209.82" font-family='"Liberation Serif", serif' font-size="6.1" text-anchor="start" fill="#222" >60uM</text>
<path d="M341.00,215.54H355.00" stroke="#98707e" stroke-width="0.9" opacity="0.75"/>
<text x="356.70" y="217.64" font-family='"Liberation Serif", serif' font-size="6.1" text-anchor="start" fill="#222" >80uM</text>
<path d="M341.00,223.36H355.00" stroke="#a0a030" stroke-width="0.9" opacity="0.75"/>
<text x="356.70" y="225.46" font-family='"Liberation Serif", serif' font-size="6.1" text-anchor="start" fill="#222" >100uM</text>
<text x="209.8" y="161.3" font-family='"Liberation Serif", serif' font-size="26.5" text-anchor="start" fill="#000" stroke="#000" stroke-width="0.45" >d</text>
<clipPath id="clipe"><rect x="405.3" y="157.0" width="139.00" height="112.50"/></clipPath>
<g clip-path="url(#clipe)" fill="none" stroke-width="0.9" stroke-linejoin="round"><path d="M405.30,149.50 L406.46,169.04 L407.62,183.25 L408.78,192.55 L409.93,199.14 L411.09,203.57 L412.25,207.27 L413.41,210.41 L414.57,213.13 L415.73,215.58 L416.88,217.88 L418.04,220.19 L419.20,222.46 L420.36,224.63 L421.52,226.70 L422.68,228.68 L423.83,230.58 L424.99,232.41 L426.15,234.18 L427.31,235.90 L428.47,237.57 L429.62,239.20 L430.78,240.81 L431.94,242.42 L433.10,244.03 L434.26,245.64 L435.42,247.22 L436.57,248.75 L437.73,250.23 L438.89,251.64 L440.05,252.95 L441.21,254.16 L442.37,255.25 L443.52,256.20 L444.68,257.06 L445.84,257.82 L447.00,258.25 L448.16,258.41 L449.32,258.55 L450.48,258.66 L451.63,258.75 L452.79,258.82 L453.95,258.88 L455.11,258.93 L456.27,258.98 L457.43,259.03 L458.58,259.08 L459.74,259.13 L460.90,259.17 L462.06,259.22 L463.22,259.27 L464.38,259.31 L465.53,259.36 L466.69,259.40 L467.85,259.45 L469.01,259.49 L470.17,259.54 L471.32,259.58 L472.48,259.62 L473.64,259.66 L474.80,259.71 L475.96,259.75 L477.12,259.79 L478.27,259.83 L479.43,259.87 L480.59,259.91 L481.75,259.95 L482.91,259.98 L484.07,260.02 L485.22,260.06 L486.38,260.09 L487.54,260.13 L488.70,260.17 L489.86,260.20 L491.02,260.23 L492.17,260.27 L493.33,260.30 L494.49,260.33 L495.65,260.37 L496.81,260.40 L497.97,260.43 L499.12,260.46 L500.28,260.49 L501.44,260.51 L502.60,260.54 L503.76,260.57 L504.92,260.60 L506.07,260.62 L507.23,260.65 L508.39,260.67 L509.55,260.70 L510.71,260.72 L511.87,260.74 L513.02,260.76 L514.18,260.78 L515.34,260.80 L516.50,260.82 L517.66,260.84 L518.82,260.86 L519.97,260.88 L521.13,260.90 L522.29,260.91 L523.45,260.93 L524.61,260.94 L525.77,260.95 L526.92,260.97 L528.08,260.98 L529.24,260.99 L530.40,261.00 L531.56,261.01 L532.72,261.02 L533.88,261.03 L535.03,261.03 L536.19,261.04 L537.35,261.05 L538.51,261.05 L539.67,261.06 L540.82,261.06 L541.98,261.06 L543.14,261.06 L544.30,261.06" stroke="#7c7c7c"/><path d="M405.30,149.29 L406.46,168.50 L407.62,182.66 L408.78,192.06 L409.93,198.68 L411.09,203.05 L412.25,206.71 L413.41,209.83 L414.57,212.54 L415.73,214.97 L416.88,217.26 L418.04,219.52 L419.20,221.77 L420.36,223.92 L421.52,225.97 L422.68,227.92 L423.83,229.77 L424.99,231.50 L426.15,233.16 L427.31,234.77 L428.47,236.34 L429.62,237.87 L430.78,239.38 L431.94,240.88 L433.10,242.39 L434.26,243.89 L435.42,245.36 L436.57,246.80 L437.73,248.18 L438.89,249.49 L440.05,250.72 L441.21,251.84 L442.37,252.85 L443.52,253.72 L444.68,254.50 L445.84,255.17 L447.00,255.53 L448.16,255.62 L449.32,255.68 L450.48,255.72 L451.63,255.74 L452.79,255.75 L453.95,255.75 L455.11,255.75 L456.27,255.75 L457.43,255.77 L458.58,255.79 L459.74,255.80 L460.90,255.82 L462.06,255.85 L463.22,255.87 L464.38,255.89 L465.53,255.92 L466.69,255.95 L467.85,255.97 L469.01,256.01 L470.17,256.04 L471.32,256.09 L472.48,256.14 L473.64,256.21 L474.80,256.28 L475.96,256.36 L477.12,256.45 L478.27,256.55 L479.43,256.64 L480.59,256.75 L481.75,256.85 L482.91,256.96 L484.07,257.08 L485.22,257.20 L486.38,257.32 L487.54,257.45 L488.70,257.59 L489.86,257.72 L491.02,257.86 L492.17,257.99 L493.33,258.12 L494.49,258.25 L495.65,258.38 L496.81,258.50 L497.97,258.63 L499.12,258.75 L500.28,258.87 L501.44,258.99 L502.60,259.11 L503.76,259.22 L504.92,259.33 L506.07,259.43 L507.23,259.53 L508.39,259.62 L509.55,259.71 L510.71,259.79 L511.87,259.87 L513.02,259.95 L514.18,260.02 L515.34,260.09 L516.50,260.15 L517.66,260.21 L518.82,260.27 L519.97,260.32 L521.13,260.37 L522.29,260.42 L523.45,260.47 L524.61,260.51 L525.77,260.55 L526.92,260.59 L528.08,260.62 L529.24,260.65 L530.40,260.68 L531.56,260.71 L532.72,260.74 L533.88,260.76 L535.03,260.78 L536.19,260.80 L537.35,260.82 L538.51,260.83 L539.67,260.84 L540.82,260.85 L541.98,260.86 L543.14,260.87 L544.30,260.88" stroke="#f06060"/><path d="M405.30,148.91 L406.46,167.57 L407.62,181.63 L408.78,191.19 L409.93,197.85 L411.09,202.13 L412.25,205.73 L413.41,208.81 L414.57,211.50 L415.73,213.91 L416.88,216.16 L418.04,218.36 L419.20,220.55 L420.36,222.68 L421.52,224.70 L422.68,226.59 L423.83,228.33 L424.99,229.89 L426.15,231.37 L427.31,232.80 L428.47,234.18 L429.62,235.53 L430.78,236.86 L431.94,238.18 L433.10,239.50 L434.26,240.81 L435.42,242.11 L436.57,243.37 L437.73,244.58 L438.89,245.72 L440.05,246.79 L441.21,247.76 L442.37,248.62 L443.52,249.36 L444.68,250.00 L445.84,250.53 L447.00,250.77 L448.16,250.78 L449.32,250.76 L450.48,250.73 L451.63,250.70 L452.79,250.67 L453.95,250.65 L455.11,250.66 L456.27,250.69 L457.43,250.75 L458.58,250.82 L459.74,250.89 L460.90,250.96 L462.06,251.03 L463.22,251.10 L464.38,251.16 L465.53,251.22 L466.69,251.26 L467.85,251.30 L469.01,251.32 L470.17,251.34 L471.32,251.38 L472.48,251.44 L473.64,251.53 L474.80,251.62 L475.96,251.74 L477.12,251.87 L478.27,252.00 L479.43,252.15 L480.59,252.31 L481.75,252.48 L482.91,252.65 L484.07,252.83 L485.22,253.03 L486.38,253.24 L487.54,253.46 L488.70,253.69 L489.86,253.93 L491.02,254.17 L492.17,254.41 L493.33,254.64 L494.49,254.88 L495.65,255.10 L496.81,255.33 L497.97,255.56 L499.12,255.79 L500.28,256.02 L501.44,256.24 L502.60,256.47 L503.76,256.68 L504.92,256.89 L506.07,257.10 L507.23,257.29 L508.39,257.46 L509.55,257.63 L510.71,257.79 L511.87,257.95 L513.02,258.09 L514.18,258.24 L515.34,258.37 L516.50,258.50 L517.66,258.62 L518.82,258.74 L519.97,258.85 L521.13,258.95 L522.29,259.05 L523.45,259.14 L524.61,259.23 L525.77,259.31 L526.92,259.39 L528.08,259.47 L529.24,259.54 L530.40,259.61 L531.56,259.67 L532.72,259.73 L533.88,259.79 L535.03,259.84 L536.19,259.89 L537.35,259.93 L538.51,259.98 L539.67,260.01 L540.82,260.05 L541.98,260.08 L543.14,260.11 L544.30,260.12" stroke="#4f86e6"/><path d="M405.30,148.43 L406.46,166.36 L407.62,180.29 L408.78,190.06 L409.93,196.79 L411.09,200.94 L412.25,204.46 L413.41,207.49 L414.57,210.15 L415.73,212.53 L416.88,214.73 L418.04,216.86 L419.20,218.98 L420.36,221.07 L421.52,223.05 L422.68,224.88 L423.83,226.47 L424.99,227.81 L426.15,229.06 L427.31,230.25 L428.47,231.40 L429.62,232.51 L430.78,233.60 L431.94,234.68 L433.10,235.77 L434.26,236.84 L435.42,237.91 L436.57,238.94 L437.73,239.93 L438.89,240.86 L440.05,241.72 L441.21,242.49 L442.37,243.16 L443.52,243.73 L444.68,244.19 L445.84,244.52 L447.00,244.56 L448.16,244.38 L449.32,244.16 L450.48,243.92 L451.63,243.66 L452.79,243.41 L453.95,243.17 L455.11,242.97 L456.27,242.82 L457.43,242.71 L458.58,242.62 L459.74,242.53 L460.90,242.45 L462.06,242.38 L463.22,242.31 L464.38,242.26 L465.53,242.21 L466.69,242.17 L467.85,242.14 L469.01,242.12 L470.17,242.13 L471.32,242.17 L472.48,242.25 L473.64,242.38 L474.80,242.55 L475.96,242.75 L477.12,242.98 L478.27,243.24 L479.43,243.52 L480.59,243.82 L481.75,244.13 L482.91,244.46 L484.07,244.81 L485.22,245.20 L486.38,245.62 L487.54,246.06 L488.70,246.51 L489.86,246.98 L491.02,247.46 L492.17,247.94 L493.33,248.41 L494.49,248.88 L495.65,249.33 L496.81,249.78 L497.97,250.23 L499.12,250.69 L500.28,251.15 L501.44,251.61 L502.60,252.05 L503.76,252.49 L504.92,252.90 L506.07,253.30 L507.23,253.68 L508.39,254.03 L509.55,254.36 L510.71,254.68 L511.87,254.98 L513.02,255.27 L514.18,255.55 L515.34,255.81 L516.50,256.06 L517.66,256.30 L518.82,256.53 L519.97,256.74 L521.13,256.93 L522.29,257.11 L523.45,257.29 L524.61,257.46 L525.77,257.62 L526.92,257.78 L528.08,257.93 L529.24,258.07 L530.40,258.20 L531.56,258.32 L532.72,258.43 L533.88,258.54 L535.03,258.63 L536.19,258.72 L537.35,258.81 L538.51,258.90 L539.67,258.97 L540.82,259.04 L541.98,259.10 L543.14,259.15 L544.30,259.19" stroke="#3fae78"/><path d="M405.30,148.00 L406.46,165.26 L407.62,179.08 L408.78,189.05 L409.93,195.83 L411.09,199.87 L412.25,203.31 L413.41,206.31 L414.57,208.94 L415.73,211.29 L416.88,213.45 L418.04,215.50 L419.20,217.56 L420.36,219.61 L421.52,221.57 L422.68,223.32 L423.83,224.79 L424.99,225.93 L426.15,226.96 L427.31,227.95 L428.47,228.88 L429.62,229.78 L430.78,230.66 L431.94,231.53 L433.10,232.40 L434.26,233.26 L435.42,234.11 L436.57,234.94 L437.73,235.72 L438.89,236.46 L440.05,237.13 L441.21,237.73 L442.37,238.23 L443.52,238.64 L444.68,238.94 L445.84,239.09 L447.00,238.96 L448.16,238.61 L449.32,238.21 L450.48,237.77 L451.63,237.31 L452.79,236.86 L453.95,236.43 L455.11,236.04 L456.27,235.72 L457.43,235.47 L458.58,235.24 L459.74,235.01 L460.90,234.80 L462.06,234.60 L463.22,234.42 L464.38,234.26 L465.53,234.12 L466.69,234.00 L467.85,233.92 L469.01,233.87 L470.17,233.86 L471.32,233.90 L472.48,234.00 L473.64,234.16 L474.80,234.39 L475.96,234.66 L477.12,234.98 L478.27,235.34 L479.43,235.73 L480.59,236.15 L481.75,236.59 L482.91,237.05 L484.07,237.55 L485.22,238.11 L486.38,238.70 L487.54,239.33 L488.70,239.99 L489.86,240.66 L491.02,241.34 L492.17,242.03 L493.33,242.71 L494.49,243.38 L495.65,244.03 L496.81,244.67 L497.97,245.33 L499.12,245.99 L500.28,246.65 L501.44,247.31 L502.60,247.95 L503.76,248.58 L504.92,249.18 L506.07,249.76 L507.23,250.30 L508.39,250.81 L509.55,251.28 L510.71,251.74 L511.87,252.17 L513.02,252.59 L514.18,252.99 L515.34,253.37 L516.50,253.73 L517.66,254.07 L518.82,254.40 L519.97,254.70 L521.13,254.98 L522.29,255.24 L523.45,255.50 L524.61,255.74 L525.77,255.98 L526.92,256.20 L528.08,256.41 L529.24,256.62 L530.40,256.81 L531.56,256.98 L532.72,257.15 L533.88,257.30 L535.03,257.43 L536.19,257.57 L537.35,257.70 L538.51,257.82 L539.67,257.93 L540.82,258.03 L541.98,258.12 L543.14,258.19 L544.30,258.25" stroke="#b070f0"/><path d="M405.30,147.42 L406.46,163.82 L407.62,177.49 L408.78,187.71 L409.93,194.56 L411.09,198.46 L412.25,201.80 L413.41,204.74 L414.57,207.34 L415.73,209.65 L416.88,211.75 L418.04,213.71 L419.20,215.68 L420.36,217.69 L421.52,219.60 L422.68,221.27 L423.83,222.58 L424.99,223.45 L426.15,224.20 L427.31,224.90 L428.47,225.56 L429.62,226.18 L430.78,226.77 L431.94,227.36 L433.10,227.94 L434.26,228.52 L435.42,229.09 L436.57,229.65 L437.73,230.17 L438.89,230.65 L440.05,231.08 L441.21,231.44 L442.37,231.72 L443.52,231.91 L444.68,232.00 L445.84,231.92 L447.00,231.59 L448.16,231.08 L449.32,230.50 L450.48,229.89 L451.63,229.27 L452.79,228.67 L453.95,228.12 L455.11,227.63 L456.27,227.24 L457.43,226.95 L458.58,226.68 L459.74,226.42 L460.90,226.17 L462.06,225.95 L463.22,225.74 L464.38,225.55 L465.53,225.38 L466.69,225.24 L467.85,225.13 L469.01,225.05 L470.17,225.02 L471.32,225.05 L472.48,225.17 L473.64,225.38 L474.80,225.66 L475.96,226.01 L477.12,226.41 L478.27,226.87 L479.43,227.38 L480.59,227.92 L481.75,228.49 L482.91,229.08 L484.07,229.73 L485.22,230.45 L486.38,231.23 L487.54,232.05 L488.70,232.91 L489.86,233.79 L491.02,234.69 L492.17,235.59 L493.33,236.48 L494.49,237.36 L495.65,238.21 L496.81,239.06 L497.97,239.92 L499.12,240.80 L500.28,241.67 L501.44,242.54 L502.60,243.39 L503.76,244.22 L504.92,245.02 L506.07,245.78 L507.23,246.50 L508.39,247.18 L509.55,247.80 L510.71,248.41 L511.87,248.99 L513.02,249.54 L514.18,250.07 L515.34,250.58 L516.50,251.06 L517.66,251.51 L518.82,251.94 L519.97,252.34 L521.13,252.72 L522.29,253.07 L523.45,253.41 L524.61,253.73 L525.77,254.05 L526.92,254.35 L528.08,254.63 L529.24,254.90 L530.40,255.16 L531.56,255.40 L532.72,255.62 L533.88,255.82 L535.03,256.01 L536.19,256.19 L537.35,256.36 L538.51,256.53 L539.67,256.68 L540.82,256.82 L541.98,256.95 L543.14,257.05 L544.30,257.12" stroke="#d8a020"/><path d="M405.30,146.49 L406.46,161.47 L407.62,174.90 L408.78,185.53 L409.93,192.51 L411.09,196.16 L412.25,199.35 L413.41,202.20 L414.57,204.73 L415.73,206.99 L416.88,209.00 L418.04,210.80 L419.20,212.64 L420.36,214.58 L421.52,216.41 L422.68,217.95 L423.83,218.98 L424.99,219.42 L426.15,219.72 L427.31,219.96 L428.47,220.17 L429.62,220.33 L430.78,220.47 L431.94,220.60 L433.10,220.72 L434.26,220.84 L435.42,220.96 L436.57,221.07 L437.73,221.16 L438.89,221.23 L440.05,221.26 L441.21,221.23 L442.37,221.16 L443.52,221.01 L444.68,220.75 L445.84,220.30 L447.00,219.67 L448.16,218.90 L449.32,218.07 L450.48,217.23 L451.63,216.40 L452.79,215.62 L453.95,214.93 L455.11,214.35 L456.27,213.91 L457.43,213.62 L458.58,213.36 L459.74,213.11 L460.90,212.89 L462.06,212.67 L463.22,212.48 L464.38,212.30 L465.53,212.14 L466.69,211.99 L467.85,211.85 L469.01,211.73 L470.17,211.66 L471.32,211.66 L472.48,211.77 L473.64,211.97 L474.80,212.27 L475.96,212.65 L477.12,213.11 L478.27,213.62 L479.43,214.19 L480.59,214.80 L481.75,215.44 L482.91,216.11 L484.07,216.86 L485.22,217.69 L486.38,218.61 L487.54,219.60 L488.70,220.64 L489.86,221.72 L491.02,222.82 L492.17,223.92 L493.33,225.03 L494.49,226.12 L495.65,227.18 L496.81,228.23 L497.97,229.33 L499.12,230.45 L500.28,231.58 L501.44,232.71 L502.60,233.83 L503.76,234.93 L504.92,236.00 L506.07,237.02 L507.23,237.99 L508.39,238.90 L509.55,239.74 L510.71,240.56 L511.87,241.35 L513.02,242.11 L514.18,242.85 L515.34,243.56 L516.50,244.23 L517.66,244.87 L518.82,245.48 L519.97,246.05 L521.13,246.59 L522.29,247.10 L523.45,247.59 L524.61,248.07 L525.77,248.54 L526.92,249.00 L528.08,249.44 L529.24,249.86 L530.40,250.26 L531.56,250.63 L532.72,250.99 L533.88,251.31 L535.03,251.61 L536.19,251.92 L537.35,252.21 L538.51,252.50 L539.67,252.76 L540.82,253.01 L541.98,253.23 L543.14,253.42 L544.30,253.56" stroke="#20d0e0"/><path d="M405.30,146.25 L406.46,160.89 L407.62,174.25 L408.78,184.99 L409.93,191.99 L411.09,195.59 L412.25,198.73 L413.41,201.56 L414.57,204.08 L415.73,206.33 L416.88,208.32 L418.04,210.07 L419.20,211.88 L420.36,213.80 L421.52,215.62 L422.68,217.12 L423.83,218.08 L424.99,218.41 L426.15,218.60 L427.31,218.73 L428.47,218.82 L429.62,218.87 L430.78,218.90 L431.94,218.91 L433.10,218.91 L434.26,218.92 L435.42,218.93 L436.57,218.93 L437.73,218.91 L438.89,218.87 L440.05,218.80 L441.21,218.68 L442.37,218.52 L443.52,218.29 L444.68,217.94 L445.84,217.37 L447.00,216.59 L448.16,215.64 L449.32,214.59 L450.48,213.48 L451.63,212.35 L452.79,211.25 L453.95,210.21 L455.11,209.27 L456.27,208.47 L457.43,207.83 L458.58,207.21 L459.74,206.62 L460.90,206.05 L462.06,205.52 L463.22,205.04 L464.38,204.60 L465.53,204.21 L466.69,203.89 L467.85,203.64 L469.01,203.47 L470.17,203.38 L471.32,203.39 L472.48,203.51 L473.64,203.76 L474.80,204.11 L475.96,204.57 L477.12,205.11 L478.27,205.73 L479.43,206.41 L480.59,207.14 L481.75,207.91 L482.91,208.71 L484.07,209.60 L485.22,210.60 L486.38,211.70 L487.54,212.88 L488.70,214.11 L489.86,215.39 L491.02,216.70 L492.17,218.02 L493.33,219.33 L494.49,220.62 L495.65,221.87 L496.81,223.13 L497.97,224.42 L499.12,225.74 L500.28,227.08 L501.44,228.41 L502.60,229.73 L503.76,231.02 L504.92,232.28 L506.07,233.48 L507.23,234.61 L508.39,235.67 L509.55,236.66 L510.71,237.62 L511.87,238.54 L513.02,239.43 L514.18,240.29 L515.34,241.11 L516.50,241.90 L517.66,242.64 L518.82,243.35 L519.97,244.02 L521.13,244.64 L522.29,245.23 L523.45,245.80 L524.61,246.36 L525.77,246.90 L526.92,247.42 L528.08,247.93 L529.24,248.41 L530.40,248.86 L531.56,249.30 L532.72,249.70 L533.88,250.07 L535.03,250.42 L536.19,250.76 L537.35,251.10 L538.51,251.42 L539.67,251.72 L540.82,252.00 L541.98,252.25 L543.14,252.46 L544.30,252.62" stroke="#98707e"/><path d="M405.30,145.75 L406.46,159.62 L407.62,172.85 L408.78,183.82 L409.93,190.88 L411.09,194.35 L412.25,197.41 L413.41,200.19 L414.57,202.68 L415.73,204.89 L416.88,206.83 L418.04,208.50 L419.20,210.24 L420.36,212.12 L421.52,213.90 L422.68,215.32 L423.83,216.14 L424.99,216.24 L426.15,216.18 L427.31,216.07 L428.47,215.91 L429.62,215.72 L430.78,215.50 L431.94,215.26 L433.10,215.02 L434.26,214.77 L435.42,214.54 L436.57,214.30 L437.73,214.05 L438.89,213.79 L440.05,213.50 L441.21,213.18 L442.37,212.81 L443.52,212.40 L444.68,211.87 L445.84,211.10 L447.00,210.14 L448.16,209.03 L449.32,207.83 L450.48,206.56 L451.63,205.29 L452.79,204.05 L453.95,202.88 L455.11,201.85 L456.27,200.98 L457.43,200.28 L458.58,199.62 L459.74,198.99 L460.90,198.38 L462.06,197.81 L463.22,197.29 L464.38,196.82 L465.53,196.40 L466.69,196.05 L467.85,195.78 L469.01,195.58 L470.17,195.46 L471.32,195.44 L472.48,195.55 L473.64,195.79 L474.80,196.15 L475.96,196.61 L477.12,197.16 L478.27,197.79 L479.43,198.49 L480.59,199.24 L481.75,200.03 L482.91,200.86 L484.07,201.78 L485.22,202.83 L486.38,203.99 L487.54,205.24 L488.70,206.56 L489.86,207.93 L491.02,209.34 L492.17,210.76 L493.33,212.18 L494.49,213.58 L495.65,214.94 L496.81,216.30 L497.97,217.72 L499.12,219.17 L500.28,220.64 L501.44,222.13 L502.60,223.60 L503.76,225.05 L504.92,226.45 L506.07,227.80 L507.23,229.08 L508.39,230.27 L509.55,231.39 L510.71,232.47 L511.87,233.52 L513.02,234.54 L514.18,235.52 L515.34,236.46 L516.50,237.36 L517.66,238.22 L518.82,239.04 L519.97,239.81 L521.13,240.54 L522.29,241.22 L523.45,241.89 L524.61,242.54 L525.77,243.18 L526.92,243.81 L528.08,244.41 L529.24,244.99 L530.40,245.54 L531.56,246.06 L532.72,246.55 L533.88,247.00 L535.03,247.42 L536.19,247.84 L537.35,248.26 L538.51,248.66 L539.67,249.04 L540.82,249.40 L541.98,249.71 L543.14,249.98 L544.30,250.19" stroke="#a0a030"/></g>
<rect x="405.3" y="157.0" width="139.00" height="112.50" fill="none" stroke="#606060" stroke-width="0.9"/>
<path d="M403.50,269.50H405.30M404.30,260.12H405.30M403.50,250.75H405.30M404.30,241.38H405.30M403.50,232.00H405.30M404.30,222.62H405.30M403.50,213.25H405.30M404.30,203.88H405.30M403.50,194.50H405.30M404.30,185.12H405.30M403.50,175.75H405.30M404.30,166.38H405.30M403.50,157.00H405.30M405.30,269.50V271.30M416.88,269.50V270.50M428.47,269.50V271.30M440.05,269.50V270.50M451.63,269.50V271.30M463.22,269.50V270.50M474.80,269.50V271.30M486.38,269.50V270.50M497.97,269.50V271.30M509.55,269.50V270.50M521.13,269.50V271.30M532.72,269.50V270.50M544.30,269.50V271.30" stroke="#5a5a5a" stroke-width="0.7" fill="none"/>
<text x="401.90" y="271.20" font-family='"Liberation Serif", serif' font-size="5.0" text-anchor="end" fill="#444" >0.0</text>
<text x="405.30" y="276.80" font-family='"Liberation Serif", serif' font-size="4.9" text-anchor="middle" fill="#444" >300</text>
<text x="401.90" y="252.45" font-family='"Liberation Serif", serif' font-size="5.0" text-anchor="end" fill="#444" >0.1</text>
<text x="428.47" y="276.80" font-family='"Liberation Serif", serif' font-size="4.9" text-anchor="middle" fill="#444" >350</text>
<text x="401.90" y="233.70" font-family='"Liberation Serif", serif' font-size="5.0" text-anchor="end" fill="#444" >0.2</text>
<text x="451.63" y="276.80" font-family='"Liberation Serif", serif' font-size="4.9" text-anchor="middle" fill="#444" >400</text>
<text x="401.90" y="214.95" font-family='"Liberation Serif", serif' font-size="5.0" text-anchor="end" fill="#444" >0.3</text>
<text x="474.80" y="276.80" font-family='"Liberation Serif", serif' font-size="4.9" text-anchor="middle" fill="#444" >450</text>
<text x="401.90" y="196.20" font-family='"Liberation Serif", serif' font-size="5.0" text-anchor="end" fill="#444" >0.4</text>
<text x="497.97" y="276.80" font-family='"Liberation Serif", serif' font-size="4.9" text-anchor="middle" fill="#444" >500</text>
<text x="401.90" y="177.45" font-family='"Liberation Serif", serif' font-size="5.0" text-anchor="end" fill="#444" >0.5</text>
<text x="521.13" y="276.80" font-family='"Liberation Serif", serif' font-size="4.9" text-anchor="middle" fill="#444" >550</text>
<text x="401.90" y="158.70" font-family='"Liberation Serif", serif' font-size="5.0" text-anchor="end" fill="#444" >0.6</text>
<text x="544.30" y="276.80" font-family='"Liberation Serif", serif' font-size="4.9" text-anchor="middle" fill="#444" >600</text>
<text x="474.80" y="283.80" font-family='"Liberation Serif", serif' font-size="7.5" text-anchor="middle" fill="#222" >Wavelength (nm)</text>
<text x="0" y="0" font-family='"Liberation Serif", serif' font-size="7.6" text-anchor="middle" fill="#222" transform="translate(394.70,209.65) rotate(-90)">Absorbance</text>
<path d="M508.80,160.80H522.80" stroke="#7c7c7c" stroke-width="0.9" opacity="0.75"/>
<text x="524.50" y="162.90" font-family='"Liberation Serif", serif' font-size="6.1" text-anchor="start" fill="#222" >Blank</text>
<path d="M508.80,168.62H522.80" stroke="#f06060" stroke-width="0.9" opacity="0.75"/>
<text x="524.50" y="170.72" font-family='"Liberation Serif", serif' font-size="6.1" text-anchor="start" fill="#222" >2uM</text>
<path d="M508.80,176.44H522.80" stroke="#4f86e6" stroke-width="0.9" opacity="0.75"/>
<text x="524.50" y="178.54" font-family='"Liberation Serif", serif' font-size="6.1" text-anchor="start" fill="#222" >5uM</text>
<path d="M508.80,184.26H522.80" stroke="#3fae78" stroke-width="0.9" opacity="0.75"/>
<text x="524.50" y="186.36" font-family='"Liberation Serif", serif' font-size="6.1" text-anchor="start" fill="#222" >10uM</text>
<path d="M508.80,192.08H522.80" stroke="#b070f0" stroke-width="0.9" opacity="0.75"/>
<text x="524.50" y="194.18" font-family='"Liberation Serif", serif' font-size="6.1" text-anchor="start" fill="#222" >20uM</text>
<path d="M508.80,199.90H522.80" stroke="#d8a020" stroke-width="0.9" opacity="0.75"/>
<text x="524.50" y="202.00" font-family='"Liberation Serif", serif' font-size="6.1" text-anchor="start" fill="#222" >40uM</text>
<path d="M508.80,207.72H522.80" stroke="#20d0e0" stroke-width="0.9" opacity="0.75"/>
<text x="524.50" y="209.82" font-family='"Liberation Serif", serif' font-size="6.1" text-anchor="start" fill="#222" >60uM</text>
<path d="M508.80,215.54H522.80" stroke="#98707e" stroke-width="0.9" opacity="0.75"/>
<text x="524.50" y="217.64" font-family='"Liberation Serif", serif' font-size="6.1" text-anchor="start" fill="#222" >80uM</text>
<path d="M508.80,223.36H522.80" stroke="#a0a030" stroke-width="0.9" opacity="0.75"/>
<text x="524.50" y="225.46" font-family='"Liberation Serif", serif' font-size="6.1" text-anchor="start" fill="#222" >100uM</text>
<text x="378.8" y="159.2" font-family='"Liberation Serif", serif' font-size="32" text-anchor="start" fill="#000" stroke="#000" stroke-width="0.45" >e</text>
<clipPath id="clipf"><rect x="237.1" y="295.4" width="139.40" height="112.20"/></clipPath>
<g clip-path="url(#clipf)" fill="none" stroke-width="0.9" stroke-linejoin="round"><path d="M237.10,287.92 L238.26,307.57 L239.42,321.58 L240.59,330.25 L241.75,336.49 L242.91,340.95 L244.07,344.69 L245.23,347.93 L246.39,350.76 L247.56,353.28 L248.72,355.62 L249.88,357.87 L251.04,360.04 L252.20,362.08 L253.36,364.01 L254.53,365.82 L255.69,367.56 L256.85,369.23 L258.01,370.84 L259.17,372.43 L260.33,374.00 L261.50,375.57 L262.66,377.17 L263.82,378.81 L264.98,380.48 L266.14,382.18 L267.30,383.87 L268.46,385.55 L269.63,387.18 L270.79,388.74 L271.95,390.23 L273.11,391.61 L274.27,392.86 L275.44,393.96 L276.60,394.95 L277.76,395.84 L278.92,396.38 L280.08,396.62 L281.24,396.83 L282.40,397.00 L283.57,397.15 L284.73,397.27 L285.89,397.36 L287.05,397.43 L288.21,397.49 L289.38,397.53 L290.54,397.56 L291.70,397.60 L292.86,397.64 L294.02,397.67 L295.18,397.71 L296.34,397.74 L297.51,397.78 L298.67,397.81 L299.83,397.84 L300.99,397.87 L302.15,397.91 L303.31,397.94 L304.48,397.97 L305.64,398.00 L306.80,398.03 L307.96,398.05 L309.12,398.08 L310.28,398.11 L311.45,398.14 L312.61,398.16 L313.77,398.19 L314.93,398.21 L316.09,398.24 L317.25,398.26 L318.42,398.28 L319.58,398.31 L320.74,398.33 L321.90,398.35 L323.06,398.37 L324.23,398.39 L325.39,398.41 L326.55,398.43 L327.71,398.45 L328.87,398.47 L330.03,398.48 L331.19,398.50 L332.36,398.52 L333.52,398.53 L334.68,398.55 L335.84,398.56 L337.00,398.58 L338.16,398.59 L339.33,398.61 L340.49,398.62 L341.65,398.63 L342.81,398.65 L343.97,398.66 L345.13,398.67 L346.30,398.68 L347.46,398.69 L348.62,398.70 L349.78,398.71 L350.94,398.72 L352.11,398.73 L353.27,398.73 L354.43,398.74 L355.59,398.75 L356.75,398.76 L357.91,398.76 L359.07,398.77 L360.24,398.77 L361.40,398.78 L362.56,398.78 L363.72,398.79 L364.88,398.79 L366.04,398.80 L367.21,398.80 L368.37,398.80 L369.53,398.80 L370.69,398.81 L371.85,398.81 L373.01,398.81 L374.18,398.81 L375.34,398.81 L376.50,398.81" stroke="#7c7c7c"/><path d="M237.10,287.86 L238.26,307.40 L239.42,321.39 L240.59,330.10 L241.75,336.37 L242.91,340.81 L244.07,344.55 L245.23,347.78 L246.39,350.60 L247.56,353.13 L248.72,355.46 L249.88,357.69 L251.04,359.86 L252.20,361.90 L253.36,363.82 L254.53,365.64 L255.69,367.37 L256.85,369.04 L258.01,370.66 L259.17,372.24 L260.33,373.81 L261.50,375.37 L262.66,376.96 L263.82,378.58 L264.98,380.24 L266.14,381.92 L267.30,383.59 L268.46,385.25 L269.63,386.86 L270.79,388.41 L271.95,389.87 L273.11,391.23 L274.27,392.46 L275.44,393.55 L276.60,394.51 L277.76,395.38 L278.92,395.91 L280.08,396.15 L281.24,396.35 L282.40,396.53 L283.57,396.69 L284.73,396.82 L285.89,396.93 L287.05,397.02 L288.21,397.10 L289.38,397.16 L290.54,397.23 L291.70,397.29 L292.86,397.35 L294.02,397.41 L295.18,397.47 L296.34,397.53 L297.51,397.58 L298.67,397.62 L299.83,397.66 L300.99,397.70 L302.15,397.73 L303.31,397.76 L304.48,397.79 L305.64,397.82 L306.80,397.85 L307.96,397.88 L309.12,397.92 L310.28,397.95 L311.45,397.98 L312.61,398.01 L313.77,398.04 L314.93,398.07 L316.09,398.10 L317.25,398.13 L318.42,398.16 L319.58,398.19 L320.74,398.22 L321.90,398.24 L323.06,398.27 L324.23,398.30 L325.39,398.32 L326.55,398.35 L327.71,398.37 L328.87,398.40 L330.03,398.42 L331.19,398.44 L332.36,398.46 L333.52,398.48 L334.68,398.50 L335.84,398.52 L337.00,398.54 L338.16,398.56 L339.33,398.58 L340.49,398.59 L341.65,398.61 L342.81,398.62 L343.97,398.64 L345.13,398.65 L346.30,398.66 L347.46,398.68 L348.62,398.69 L349.78,398.70 L350.94,398.71 L352.11,398.72 L353.27,398.73 L354.43,398.74 L355.59,398.74 L356.75,398.75 L357.91,398.76 L359.07,398.77 L360.24,398.77 L361.40,398.78 L362.56,398.78 L363.72,398.79 L364.88,398.79 L366.04,398.80 L367.21,398.80 L368.37,398.80 L369.53,398.80 L370.69,398.81 L371.85,398.81 L373.01,398.81 L374.18,398.81 L375.34,398.81 L376.50,398.81" stroke="#f06060"/><path d="M237.10,287.80 L238.26,307.26 L239.42,321.24 L240.59,329.98 L241.75,336.26 L242.91,340.70 L244.07,344.43 L245.23,347.65 L246.39,350.47 L247.56,352.99 L248.72,355.32 L249.88,357.55 L251.04,359.71 L252.20,361.74 L253.36,363.66 L254.53,365.48 L255.69,367.21 L256.85,368.88 L258.01,370.50 L259.17,372.08 L260.33,373.64 L261.50,375.20 L262.66,376.78 L263.82,378.38 L264.98,380.03 L266.14,381.69 L267.30,383.36 L268.46,385.00 L269.63,386.59 L270.79,388.12 L271.95,389.57 L273.11,390.91 L274.27,392.13 L275.44,393.19 L276.60,394.14 L277.76,394.99 L278.92,395.49 L280.08,395.70 L281.24,395.88 L282.40,396.02 L283.57,396.14 L284.73,396.23 L285.89,396.30 L287.05,396.34 L288.21,396.37 L289.38,396.39 L290.54,396.41 L291.70,396.43 L292.86,396.44 L294.02,396.46 L295.18,396.47 L296.34,396.49 L297.51,396.51 L298.67,396.53 L299.83,396.55 L300.99,396.57 L302.15,396.60 L303.31,396.63 L304.48,396.67 L305.64,396.72 L306.80,396.77 L307.96,396.82 L309.12,396.88 L310.28,396.93 L311.45,396.99 L312.61,397.06 L313.77,397.12 L314.93,397.18 L316.09,397.24 L317.25,397.31 L318.42,397.38 L319.58,397.45 L320.74,397.52 L321.90,397.59 L323.06,397.66 L324.23,397.73 L325.39,397.79 L326.55,397.85 L327.71,397.91 L328.87,397.97 L330.03,398.02 L331.19,398.08 L332.36,398.13 L333.52,398.18 L334.68,398.22 L335.84,398.27 L337.00,398.31 L338.16,398.35 L339.33,398.39 L340.49,398.42 L341.65,398.45 L342.81,398.49 L343.97,398.51 L345.13,398.54 L346.30,398.57 L347.46,398.59 L348.62,398.61 L349.78,398.63 L350.94,398.65 L352.11,398.67 L353.27,398.68 L354.43,398.70 L355.59,398.71 L356.75,398.72 L357.91,398.73 L359.07,398.74 L360.24,398.75 L361.40,398.76 L362.56,398.77 L363.72,398.78 L364.88,398.78 L366.04,398.79 L367.21,398.79 L368.37,398.80 L369.53,398.80 L370.69,398.80 L371.85,398.81 L373.01,398.81 L374.18,398.81 L375.34,398.81 L376.50,398.81" stroke="#4f86e6"/><path d="M237.10,287.75 L238.26,307.12 L239.42,321.08 L240.59,329.85 L241.75,336.16 L242.91,340.59 L244.07,344.31 L245.23,347.52 L246.39,350.34 L247.56,352.86 L248.72,355.18 L249.88,357.40 L251.04,359.56 L252.20,361.59 L253.36,363.50 L254.53,365.32 L255.69,367.05 L256.85,368.72 L258.01,370.34 L259.17,371.92 L260.33,373.48 L261.50,375.03 L262.66,376.60 L263.82,378.19 L264.98,379.82 L266.14,381.47 L267.30,383.12 L268.46,384.74 L269.63,386.32 L270.79,387.84 L271.95,389.27 L273.11,390.59 L274.27,391.79 L275.44,392.84 L276.60,393.76 L277.76,394.59 L278.92,395.06 L280.08,395.23 L281.24,395.36 L282.40,395.45 L283.57,395.50 L284.73,395.52 L285.89,395.51 L287.05,395.47 L288.21,395.42 L289.38,395.35 L290.54,395.28 L291.70,395.21 L292.86,395.14 L294.02,395.07 L295.18,395.01 L296.34,394.96 L297.51,394.92 L298.67,394.89 L299.83,394.88 L300.99,394.89 L302.15,394.91 L303.31,394.94 L304.48,394.98 L305.64,395.03 L306.80,395.09 L307.96,395.15 L309.12,395.22 L310.28,395.30 L311.45,395.37 L312.61,395.45 L313.77,395.53 L314.93,395.61 L316.09,395.70 L317.25,395.79 L318.42,395.89 L319.58,396.00 L320.74,396.11 L321.90,396.21 L323.06,396.32 L324.23,396.43 L325.39,396.54 L326.55,396.64 L327.71,396.73 L328.87,396.83 L330.03,396.92 L331.19,397.01 L332.36,397.10 L333.52,397.19 L334.68,397.28 L335.84,397.36 L337.00,397.44 L338.16,397.52 L339.33,397.59 L340.49,397.66 L341.65,397.72 L342.81,397.78 L343.97,397.84 L345.13,397.90 L346.30,397.96 L347.46,398.01 L348.62,398.06 L349.78,398.11 L350.94,398.15 L352.11,398.19 L353.27,398.22 L354.43,398.25 L355.59,398.28 L356.75,398.31 L357.91,398.34 L359.07,398.37 L360.24,398.40 L361.40,398.42 L362.56,398.45 L363.72,398.47 L364.88,398.49 L366.04,398.51 L367.21,398.53 L368.37,398.55 L369.53,398.57 L370.69,398.58 L371.85,398.59 L373.01,398.60 L374.18,398.61 L375.34,398.62 L376.50,398.62" stroke="#3fae78"/><path d="M237.10,287.01 L238.26,305.14 L239.42,318.88 L240.59,328.11 L241.75,334.69 L242.91,339.00 L244.07,342.59 L245.23,345.73 L246.39,348.50 L247.56,350.97 L248.72,353.23 L249.88,355.37 L251.04,357.42 L252.20,359.39 L253.36,361.28 L254.53,363.09 L255.69,364.83 L256.85,366.51 L258.01,368.12 L259.17,369.68 L260.33,371.18 L261.50,372.64 L262.66,374.06 L263.82,375.47 L264.98,376.91 L266.14,378.36 L267.30,379.80 L268.46,381.21 L269.63,382.57 L270.79,383.86 L271.95,385.05 L273.11,386.14 L274.27,387.08 L275.44,387.87 L276.60,388.53 L277.76,389.09 L278.92,389.37 L280.08,389.43 L281.24,389.45 L282.40,389.46 L283.57,389.44 L284.73,389.42 L285.89,389.39 L287.05,389.35 L288.21,389.33 L289.38,389.31 L290.54,389.28 L291.70,389.26 L292.86,389.24 L294.02,389.21 L295.18,389.19 L296.34,389.16 L297.51,389.14 L298.67,389.12 L299.83,389.10 L300.99,389.08 L302.15,389.08 L303.31,389.11 L304.48,389.18 L305.64,389.26 L306.80,389.38 L307.96,389.51 L309.12,389.66 L310.28,389.82 L311.45,390.00 L312.61,390.18 L313.77,390.36 L314.93,390.55 L316.09,390.75 L317.25,390.98 L318.42,391.23 L319.58,391.49 L320.74,391.77 L321.90,392.05 L323.06,392.33 L324.23,392.61 L325.39,392.88 L326.55,393.13 L327.71,393.38 L328.87,393.61 L330.03,393.85 L331.19,394.08 L332.36,394.32 L333.52,394.55 L334.68,394.77 L335.84,394.99 L337.00,395.20 L338.16,395.39 L339.33,395.58 L340.49,395.75 L341.65,395.92 L342.81,396.08 L343.97,396.23 L345.13,396.39 L346.30,396.53 L347.46,396.67 L348.62,396.80 L349.78,396.92 L350.94,397.03 L352.11,397.13 L353.27,397.21 L354.43,397.28 L355.59,397.36 L356.75,397.43 L357.91,397.50 L359.07,397.57 L360.24,397.64 L361.40,397.71 L362.56,397.77 L363.72,397.84 L364.88,397.89 L366.04,397.95 L367.21,398.00 L368.37,398.05 L369.53,398.09 L370.69,398.13 L371.85,398.17 L373.01,398.20 L374.18,398.22 L375.34,398.24 L376.50,398.25" stroke="#b070f0"/><path d="M237.10,286.61 L238.26,304.08 L239.42,317.70 L240.59,327.18 L241.75,333.91 L242.91,338.14 L244.07,341.68 L245.23,344.78 L246.39,347.51 L247.56,349.96 L248.72,352.19 L249.88,354.27 L251.04,356.28 L252.20,358.22 L253.36,360.09 L254.53,361.90 L255.69,363.64 L256.85,365.32 L258.01,366.93 L259.17,368.48 L260.33,369.95 L261.50,371.36 L262.66,372.71 L263.82,374.02 L264.98,375.35 L266.14,376.69 L267.30,378.02 L268.46,379.32 L269.63,380.56 L270.79,381.73 L271.95,382.80 L273.11,383.75 L274.27,384.56 L275.44,385.21 L276.60,385.72 L277.76,386.13 L278.92,386.28 L280.08,386.20 L281.24,386.09 L282.40,385.94 L283.57,385.76 L284.73,385.57 L285.89,385.36 L287.05,385.16 L288.21,384.96 L289.38,384.77 L290.54,384.58 L291.70,384.39 L292.86,384.20 L294.02,384.02 L295.18,383.84 L296.34,383.68 L297.51,383.54 L298.67,383.43 L299.83,383.34 L300.99,383.28 L302.15,383.26 L303.31,383.29 L304.48,383.37 L305.64,383.50 L306.80,383.66 L307.96,383.86 L309.12,384.09 L310.28,384.35 L311.45,384.62 L312.61,384.90 L313.77,385.19 L314.93,385.48 L316.09,385.80 L317.25,386.16 L318.42,386.55 L319.58,386.97 L320.74,387.41 L321.90,387.86 L323.06,388.31 L324.23,388.76 L325.39,389.19 L326.55,389.61 L327.71,390.00 L328.87,390.37 L330.03,390.75 L331.19,391.13 L332.36,391.51 L333.52,391.88 L334.68,392.24 L335.84,392.59 L337.00,392.93 L338.16,393.25 L339.33,393.55 L340.49,393.83 L341.65,394.09 L342.81,394.35 L343.97,394.60 L345.13,394.85 L346.30,395.08 L347.46,395.31 L348.62,395.52 L349.78,395.71 L350.94,395.89 L352.11,396.04 L353.27,396.18 L354.43,396.30 L355.59,396.42 L356.75,396.53 L357.91,396.65 L359.07,396.76 L360.24,396.87 L361.40,396.98 L362.56,397.09 L363.72,397.19 L364.88,397.28 L366.04,397.37 L367.21,397.46 L368.37,397.54 L369.53,397.61 L370.69,397.67 L371.85,397.73 L373.01,397.78 L374.18,397.82 L375.34,397.85 L376.50,397.87" stroke="#d8a020"/><path d="M237.10,285.86 L238.26,302.10 L239.42,315.51 L240.59,325.44 L241.75,332.45 L242.91,336.55 L244.07,339.97 L245.23,342.99 L246.39,345.68 L247.56,348.08 L248.72,350.25 L249.88,352.24 L251.04,354.14 L252.20,356.02 L253.36,357.87 L254.53,359.67 L255.69,361.42 L256.85,363.11 L258.01,364.71 L259.17,366.24 L260.33,367.66 L261.50,368.98 L262.66,370.18 L263.82,371.30 L264.98,372.44 L266.14,373.58 L267.30,374.71 L268.46,375.79 L269.63,376.81 L270.79,377.75 L271.95,378.58 L273.11,379.29 L274.27,379.85 L275.44,380.24 L276.60,380.49 L277.76,380.63 L278.92,380.57 L280.08,380.36 L281.24,380.11 L282.40,379.84 L283.57,379.55 L284.73,379.26 L285.89,378.98 L287.05,378.72 L288.21,378.48 L289.38,378.28 L290.54,378.07 L291.70,377.86 L292.86,377.65 L294.02,377.44 L295.18,377.25 L296.34,377.07 L297.51,376.90 L298.67,376.75 L299.83,376.63 L300.99,376.54 L302.15,376.50 L303.31,376.53 L304.48,376.63 L305.64,376.80 L306.80,377.03 L307.96,377.31 L309.12,377.63 L310.28,377.99 L311.45,378.37 L312.61,378.77 L313.77,379.18 L314.93,379.60 L316.09,380.05 L317.25,380.57 L318.42,381.14 L319.58,381.74 L320.74,382.37 L321.90,383.02 L323.06,383.67 L324.23,384.31 L325.39,384.94 L326.55,385.54 L327.71,386.09 L328.87,386.64 L330.03,387.19 L331.19,387.73 L332.36,388.27 L333.52,388.81 L334.68,389.33 L335.84,389.84 L337.00,390.32 L338.16,390.78 L339.33,391.21 L340.49,391.61 L341.65,391.99 L342.81,392.37 L343.97,392.73 L345.13,393.08 L346.30,393.42 L347.46,393.74 L348.62,394.05 L349.78,394.33 L350.94,394.58 L352.11,394.80 L353.27,395.00 L354.43,395.17 L355.59,395.34 L356.75,395.51 L357.91,395.67 L359.07,395.84 L360.24,396.00 L361.40,396.15 L362.56,396.30 L363.72,396.45 L364.88,396.59 L366.04,396.72 L367.21,396.84 L368.37,396.95 L369.53,397.06 L370.69,397.15 L371.85,397.23 L373.01,397.30 L374.18,397.36 L375.34,397.40 L376.50,397.43" stroke="#20d0e0"/><path d="M237.10,284.91 L238.26,299.55 L239.42,312.68 L240.59,323.20 L241.75,330.56 L242.91,334.51 L244.07,337.77 L245.23,340.69 L246.39,343.31 L247.56,345.65 L248.72,347.75 L249.88,349.62 L251.04,351.39 L252.20,353.20 L253.36,355.01 L254.53,356.81 L255.69,358.57 L256.85,360.26 L258.01,361.86 L259.17,363.35 L260.33,364.71 L261.50,365.91 L262.66,366.92 L263.82,367.80 L264.98,368.70 L266.14,369.58 L267.30,370.44 L268.46,371.25 L269.63,371.98 L270.79,372.63 L271.95,373.16 L273.11,373.56 L274.27,373.80 L275.44,373.86 L276.60,373.75 L277.76,373.54 L278.92,373.20 L280.08,372.76 L281.24,372.27 L282.40,371.76 L283.57,371.24 L284.73,370.72 L285.89,370.22 L287.05,369.76 L288.21,369.34 L289.38,368.96 L290.54,368.59 L291.70,368.21 L292.86,367.83 L294.02,367.47 L295.18,367.12 L296.34,366.79 L297.51,366.49 L298.67,366.24 L299.83,366.03 L300.99,365.87 L302.15,365.79 L303.31,365.82 L304.48,365.96 L305.64,366.20 L306.80,366.53 L307.96,366.94 L309.12,367.41 L310.28,367.93 L311.45,368.49 L312.61,369.08 L313.77,369.68 L314.93,370.28 L316.09,370.96 L317.25,371.72 L318.42,372.56 L319.58,373.46 L320.74,374.39 L321.90,375.35 L323.06,376.31 L324.23,377.27 L325.39,378.20 L326.55,379.09 L327.71,379.91 L328.87,380.72 L330.03,381.53 L331.19,382.35 L332.36,383.15 L333.52,383.94 L334.68,384.72 L335.84,385.47 L337.00,386.19 L338.16,386.87 L339.33,387.51 L340.49,388.11 L341.65,388.67 L342.81,389.22 L343.97,389.77 L345.13,390.29 L346.30,390.79 L347.46,391.27 L348.62,391.72 L349.78,392.13 L350.94,392.51 L352.11,392.84 L353.27,393.13 L354.43,393.38 L355.59,393.63 L356.75,393.88 L357.91,394.13 L359.07,394.37 L360.24,394.61 L361.40,394.84 L362.56,395.06 L363.72,395.28 L364.88,395.48 L366.04,395.68 L367.21,395.86 L368.37,396.03 L369.53,396.18 L370.69,396.32 L371.85,396.44 L373.01,396.55 L374.18,396.63 L375.34,396.70 L376.50,396.74" stroke="#98707e"/><path d="M237.10,284.18 L238.26,297.62 L239.42,310.53 L240.59,321.51 L241.75,329.13 L242.91,332.96 L244.07,336.10 L245.23,338.95 L246.39,341.51 L247.56,343.81 L248.72,345.85 L249.88,347.63 L251.04,349.31 L252.20,351.06 L253.36,352.84 L254.53,354.63 L255.69,356.39 L256.85,358.09 L258.01,359.69 L259.17,361.16 L260.33,362.47 L261.50,363.57 L262.66,364.45 L263.82,365.15 L264.98,365.85 L266.14,366.54 L267.30,367.20 L268.46,367.80 L269.63,368.32 L270.79,368.74 L271.95,369.04 L273.11,369.20 L274.27,369.20 L275.44,369.01 L276.60,368.64 L277.76,368.16 L278.92,367.60 L280.08,366.97 L281.24,366.29 L282.40,365.58 L283.57,364.86 L284.73,364.15 L285.89,363.46 L287.05,362.81 L288.21,362.23 L289.38,361.70 L290.54,361.17 L291.70,360.64 L292.86,360.11 L294.02,359.59 L295.18,359.10 L296.34,358.64 L297.51,358.23 L298.67,357.88 L299.83,357.59 L300.99,357.38 L302.15,357.26 L303.31,357.29 L304.48,357.46 L305.64,357.76 L306.80,358.17 L307.96,358.68 L309.12,359.27 L310.28,359.92 L311.45,360.62 L312.61,361.36 L313.77,362.11 L314.93,362.87 L316.09,363.72 L317.25,364.68 L318.42,365.74 L319.58,366.86 L320.74,368.04 L321.90,369.25 L323.06,370.46 L324.23,371.67 L325.39,372.84 L326.55,373.95 L327.71,375.00 L328.87,376.01 L330.03,377.04 L331.19,378.06 L332.36,379.07 L333.52,380.07 L334.68,381.05 L335.84,381.99 L337.00,382.90 L338.16,383.76 L339.33,384.57 L340.49,385.32 L341.65,386.03 L342.81,386.73 L343.97,387.41 L345.13,388.07 L346.30,388.70 L347.46,389.30 L348.62,389.87 L349.78,390.39 L350.94,390.86 L352.11,391.28 L353.27,391.64 L354.43,391.96 L355.59,392.27 L356.75,392.59 L357.91,392.90 L359.07,393.20 L360.24,393.50 L361.40,393.79 L362.56,394.08 L363.72,394.35 L364.88,394.60 L366.04,394.85 L367.21,395.08 L368.37,395.29 L369.53,395.49 L370.69,395.66 L371.85,395.82 L373.01,395.95 L374.18,396.06 L375.34,396.14 L376.50,396.19" stroke="#a0a030"/></g>
<rect x="237.1" y="295.4" width="139.40" height="112.20" fill="none" stroke="#606060" stroke-width="0.9"/>
<path d="M235.30,407.60H237.10M236.10,398.25H237.10M235.30,388.90H237.10M236.10,379.55H237.10M235.30,370.20H237.10M236.10,360.85H237.10M235.30,351.50H237.10M236.10,342.15H237.10M235.30,332.80H237.10M236.10,323.45H237.10M235.30,314.10H237.10M236.10,304.75H237.10M235.30,295.40H237.10M237.10,407.60V409.40M248.72,407.60V408.60M260.33,407.60V409.40M271.95,407.60V408.60M283.57,407.60V409.40M295.18,407.60V408.60M306.80,407.60V409.40M318.42,407.60V408.60M330.03,407.60V409.40M341.65,407.60V408.60M353.27,407.60V409.40M364.88,407.60V408.60M376.50,407.60V409.40" stroke="#5a5a5a" stroke-width="0.7" fill="none"/>
<text x="233.70" y="409.30" font-family='"Liberation Serif", serif' font-size="5.0" text-anchor="end" fill="#444" >0.0</text>
<text x="237.10" y="414.90" font-family='"Liberation Serif", serif' font-size="4.9" text-anchor="middle" fill="#444" >300</text>
<text x="233.70" y="390.60" font-family='"Liberation Serif", serif' font-size="5.0" text-anchor="end" fill="#444" >0.1</text>
<text x="260.33" y="414.90" font-family='"Liberation Serif", serif' font-size="4.9" text-anchor="middle" fill="#444" >350</text>
<text x="233.70" y="371.90" font-family='"Liberation Serif", serif' font-size="5.0" text-anchor="end" fill="#444" >0.2</text>
<text x="283.57" y="414.90" font-family='"Liberation Serif", serif' font-size="4.9" text-anchor="middle" fill="#444" >400</text>
<text x="233.70" y="353.20" font-family='"Liberation Serif", serif' font-size="5.0" text-anchor="end" fill="#444" >0.3</text>
<text x="306.80" y="414.90" font-family='"Liberation Serif", serif' font-size="4.9" text-anchor="middle" fill="#444" >450</text>
<text x="233.70" y="334.50" font-family='"Liberation Serif", serif' font-size="5.0" text-anchor="end" fill="#444" >0.4</text>
<text x="330.03" y="414.90" font-family='"Liberation Serif", serif' font-size="4.9" text-anchor="middle" fill="#444" >500</text>
<text x="233.70" y="315.80" font-family='"Liberation Serif", serif' font-size="5.0" text-anchor="end" fill="#444" >0.5</text>
<text x="353.27" y="414.90" font-family='"Liberation Serif", serif' font-size="4.9" text-anchor="middle" fill="#444" >550</text>
<text x="233.70" y="297.10" font-family='"Liberation Serif", serif' font-size="5.0" text-anchor="end" fill="#444" >0.6</text>
<text x="376.50" y="414.90" font-family='"Liberation Serif", serif' font-size="4.9" text-anchor="middle" fill="#444" >600</text>
<text x="306.80" y="421.90" font-family='"Liberation Serif", serif' font-size="7.5" text-anchor="middle" fill="#222" >Wavelength (nm)</text>
<text x="0" y="0" font-family='"Liberation Serif", serif' font-size="7.6" text-anchor="middle" fill="#222" transform="translate(226.50,347.90) rotate(-90)">Absorbance</text>
<path d="M341.00,299.20H355.00" stroke="#7c7c7c" stroke-width="0.9" opacity="0.75"/>
<text x="356.70" y="301.30" font-family='"Liberation Serif", serif' font-size="6.1" text-anchor="start" fill="#222" >Blank</text>
<path d="M341.00,307.02H355.00" stroke="#f06060" stroke-width="0.9" opacity="0.75"/>
<text x="356.70" y="309.12" font-family='"Liberation Serif", serif' font-size="6.1" text-anchor="start" fill="#222" >2uM</text>
<path d="M341.00,314.84H355.00" stroke="#4f86e6" stroke-width="0.9" opacity="0.75"/>
<text x="356.70" y="316.94" font-family='"Liberation Serif", serif' font-size="6.1" text-anchor="start" fill="#222" >5uM</text>
<path d="M341.00,322.66H355.00" stroke="#3fae78" stroke-width="0.9" opacity="0.75"/>
<text x="356.70" y="324.76" font-family='"Liberation Serif", serif' font-size="6.1" text-anchor="start" fill="#222" >10uM</text>
<path d="M341.00,330.48H355.00" stroke="#b070f0" stroke-width="0.9" opacity="0.75"/>
<text x="356.70" y="332.58" font-family='"Liberation Serif", serif' font-size="6.1" text-anchor="start" fill="#222" >20uM</text>
<path d="M341.00,338.30H355.00" stroke="#d8a020" stroke-width="0.9" opacity="0.75"/>
<text x="356.70" y="340.40" font-family='"Liberation Serif", serif' font-size="6.1" text-anchor="start" fill="#222" >40uM</text>
<path d="M341.00,346.12H355.00" stroke="#20d0e0" stroke-width="0.9" opacity="0.75"/>
<text x="356.70" y="348.22" font-family='"Liberation Serif", serif' font-size="6.1" text-anchor="start" fill="#222" >60uM</text>
<path d="M341.00,353.94H355.00" stroke="#98707e" stroke-width="0.9" opacity="0.75"/>
<text x="356.70" y="356.04" font-family='"Liberation Serif", serif' font-size="6.1" text-anchor="start" fill="#222" >80uM</text>
<path d="M341.00,361.76H355.00" stroke="#a0a030" stroke-width="0.9" opacity="0.75"/>
<text x="356.70" y="363.86" font-family='"Liberation Serif", serif' font-size="6.1" text-anchor="start" fill="#222" >100uM</text>
<text x="211.2" y="301.0" font-family='"Liberation Serif", serif' font-size="27" text-anchor="start" fill="#000" stroke="#000" stroke-width="0.45" >f</text>
<clipPath id="clipg"><rect x="405.3" y="295.4" width="139.00" height="112.20"/></clipPath>
<g clip-path="url(#clipg)" fill="none" stroke-width="0.9" stroke-linejoin="round"><path d="M405.30,338.41 L406.46,342.75 L407.62,346.89 L408.78,350.69 L409.93,354.03 L411.09,356.92 L412.25,359.60 L413.41,362.08 L414.57,364.38 L415.73,366.52 L416.88,368.53 L418.04,370.41 L419.20,372.16 L420.36,373.89 L421.52,375.56 L422.68,377.16 L423.83,378.69 L424.99,380.15 L426.15,381.55 L427.31,382.89 L428.47,384.17 L429.62,385.40 L430.78,386.56 L431.94,387.72 L433.10,388.91 L434.26,390.10 L435.42,391.27 L436.57,392.40 L437.73,393.46 L438.89,394.43 L440.05,395.28 L441.21,396.00 L442.37,396.54 L443.52,396.90 L444.68,397.10 L445.84,397.29 L447.00,397.46 L448.16,397.62 L449.32,397.75 L450.48,397.88 L451.63,397.98 L452.79,398.07 L453.95,398.15 L455.11,398.20 L456.27,398.24 L457.43,398.26 L458.58,398.29 L459.74,398.31 L460.90,398.33 L462.06,398.35 L463.22,398.37 L464.38,398.39 L465.53,398.41 L466.69,398.43 L467.85,398.45 L469.01,398.47 L470.17,398.49 L471.32,398.51 L472.48,398.52 L473.64,398.54 L474.80,398.56 L475.96,398.58 L477.12,398.59 L478.27,398.61 L479.43,398.62 L480.59,398.64 L481.75,398.65 L482.91,398.67 L484.07,398.68 L485.22,398.69 L486.38,398.71 L487.54,398.72 L488.70,398.73 L489.86,398.75 L491.02,398.76 L492.17,398.77 L493.33,398.78 L494.49,398.79 L495.65,398.80 L496.81,398.81 L497.97,398.82 L499.12,398.83 L500.28,398.84 L501.44,398.85 L502.60,398.86 L503.76,398.87 L504.92,398.87 L506.07,398.88 L507.23,398.89 L508.39,398.90 L509.55,398.90 L510.71,398.91 L511.87,398.92 L513.02,398.92 L514.18,398.93 L515.34,398.93 L516.50,398.94 L517.66,398.94 L518.82,398.95 L519.97,398.95 L521.13,398.96 L522.29,398.96 L523.45,398.97 L524.61,398.97 L525.77,398.97 L526.92,398.98 L528.08,398.98 L529.24,398.98 L530.40,398.98 L531.56,398.99 L532.72,398.99 L533.88,398.99 L535.03,398.99 L536.19,398.99 L537.35,398.99 L538.51,399.00 L539.67,399.00 L540.82,399.00 L541.98,399.00 L543.14,399.00 L544.30,399.00" stroke="#7c7c7c"/><path d="M405.30,336.54 L406.46,341.11 L407.62,345.43 L408.78,349.38 L409.93,352.84 L411.09,355.83 L412.25,358.59 L413.41,361.15 L414.57,363.52 L415.73,365.71 L416.88,367.75 L418.04,369.65 L419.20,371.46 L420.36,373.20 L421.52,374.86 L422.68,376.46 L423.83,377.99 L424.99,379.46 L426.15,380.86 L427.31,382.20 L428.47,383.47 L429.62,384.67 L430.78,385.82 L431.94,386.94 L433.10,388.10 L434.26,389.26 L435.42,390.40 L436.57,391.50 L437.73,392.53 L438.89,393.47 L440.05,394.30 L441.21,394.98 L442.37,395.50 L443.52,395.83 L444.68,396.01 L445.84,396.17 L447.00,396.33 L448.16,396.48 L449.32,396.63 L450.48,396.78 L451.63,396.92 L452.79,397.05 L453.95,397.18 L455.11,397.30 L456.27,397.41 L457.43,397.51 L458.58,397.61 L459.74,397.71 L460.90,397.81 L462.06,397.90 L463.22,397.99 L464.38,398.07 L465.53,398.13 L466.69,398.19 L467.85,398.23 L469.01,398.25 L470.17,398.27 L471.32,398.29 L472.48,398.31 L473.64,398.33 L474.80,398.35 L475.96,398.37 L477.12,398.39 L478.27,398.41 L479.43,398.44 L480.59,398.46 L481.75,398.48 L482.91,398.50 L484.07,398.52 L485.22,398.54 L486.38,398.56 L487.54,398.59 L488.70,398.61 L489.86,398.63 L491.02,398.65 L492.17,398.67 L493.33,398.69 L494.49,398.71 L495.65,398.73 L496.81,398.74 L497.97,398.76 L499.12,398.77 L500.28,398.79 L501.44,398.80 L502.60,398.82 L503.76,398.83 L504.92,398.84 L506.07,398.85 L507.23,398.86 L508.39,398.87 L509.55,398.88 L510.71,398.89 L511.87,398.90 L513.02,398.91 L514.18,398.92 L515.34,398.92 L516.50,398.93 L517.66,398.94 L518.82,398.94 L519.97,398.95 L521.13,398.95 L522.29,398.96 L523.45,398.96 L524.61,398.97 L525.77,398.97 L526.92,398.97 L528.08,398.98 L529.24,398.98 L530.40,398.98 L531.56,398.99 L532.72,398.99 L533.88,398.99 L535.03,398.99 L536.19,398.99 L537.35,398.99 L538.51,399.00 L539.67,399.00 L540.82,399.00 L541.98,399.00 L543.14,399.00 L544.30,399.00" stroke="#f06060"/><path d="M405.30,342.15 L406.46,345.42 L407.62,348.73 L408.78,351.89 L409.93,354.73 L411.09,357.25 L412.25,359.64 L413.41,361.92 L414.57,364.07 L415.73,366.10 L416.88,368.00 L418.04,369.80 L419.20,371.22 L420.36,372.96 L421.52,374.63 L422.68,376.23 L423.83,377.76 L424.99,379.23 L426.15,380.63 L427.31,381.96 L428.47,383.22 L429.62,384.43 L430.78,385.56 L431.94,386.67 L433.10,387.82 L434.26,388.97 L435.42,390.10 L436.57,391.19 L437.73,392.22 L438.89,393.15 L440.05,393.96 L441.21,394.63 L442.37,395.14 L443.52,395.46 L444.68,395.63 L445.84,395.79 L447.00,395.94 L448.16,396.08 L449.32,396.23 L450.48,396.37 L451.63,396.50 L452.79,396.64 L453.95,396.77 L455.11,396.89 L456.27,397.00 L457.43,397.11 L458.58,397.21 L459.74,397.32 L460.90,397.42 L462.06,397.52 L463.22,397.61 L464.38,397.69 L465.53,397.76 L466.69,397.82 L467.85,397.86 L469.01,397.88 L470.17,397.90 L471.32,397.92 L472.48,397.94 L473.64,397.96 L474.80,397.99 L475.96,398.02 L477.12,398.05 L478.27,398.08 L479.43,398.11 L480.59,398.15 L481.75,398.18 L482.91,398.21 L484.07,398.25 L485.22,398.28 L486.38,398.32 L487.54,398.36 L488.70,398.39 L489.86,398.43 L491.02,398.47 L492.17,398.50 L493.33,398.54 L494.49,398.57 L495.65,398.60 L496.81,398.62 L497.97,398.65 L499.12,398.67 L500.28,398.70 L501.44,398.72 L502.60,398.74 L503.76,398.76 L504.92,398.78 L506.07,398.80 L507.23,398.82 L508.39,398.83 L509.55,398.85 L510.71,398.86 L511.87,398.87 L513.02,398.88 L514.18,398.89 L515.34,398.90 L516.50,398.91 L517.66,398.92 L518.82,398.93 L519.97,398.94 L521.13,398.94 L522.29,398.95 L523.45,398.96 L524.61,398.96 L525.77,398.97 L526.92,398.97 L528.08,398.97 L529.24,398.98 L530.40,398.98 L531.56,398.98 L532.72,398.99 L533.88,398.99 L535.03,398.99 L536.19,398.99 L537.35,398.99 L538.51,399.00 L539.67,399.00 L540.82,399.00 L541.98,399.00 L543.14,399.00 L544.30,399.00" stroke="#4f86e6"/><path d="M405.30,334.67 L406.46,339.53 L407.62,344.08 L408.78,348.21 L409.93,351.81 L411.09,354.91 L412.25,357.77 L413.41,360.41 L414.57,362.85 L415.73,365.10 L416.88,367.18 L418.04,369.10 L419.20,370.98 L420.36,372.72 L421.52,374.39 L422.68,375.99 L423.83,377.52 L424.99,378.99 L426.15,380.39 L427.31,381.72 L428.47,382.98 L429.62,384.18 L430.78,385.30 L431.94,386.41 L433.10,387.54 L434.26,388.68 L435.42,389.81 L436.57,390.89 L437.73,391.90 L438.89,392.82 L440.05,393.62 L441.21,394.29 L442.37,394.79 L443.52,395.10 L444.68,395.26 L445.84,395.40 L447.00,395.55 L448.16,395.69 L449.32,395.84 L450.48,395.98 L451.63,396.12 L452.79,396.26 L453.95,396.40 L455.11,396.54 L456.27,396.67 L457.43,396.79 L458.58,396.92 L459.74,397.04 L460.90,397.16 L462.06,397.28 L463.22,397.38 L464.38,397.48 L465.53,397.56 L466.69,397.62 L467.85,397.67 L469.01,397.69 L470.17,397.71 L471.32,397.73 L472.48,397.75 L473.64,397.78 L474.80,397.81 L475.96,397.84 L477.12,397.88 L478.27,397.91 L479.43,397.95 L480.59,397.99 L481.75,398.03 L482.91,398.07 L484.07,398.11 L485.22,398.15 L486.38,398.20 L487.54,398.24 L488.70,398.29 L489.86,398.33 L491.02,398.38 L492.17,398.42 L493.33,398.46 L494.49,398.50 L495.65,398.53 L496.81,398.56 L497.97,398.59 L499.12,398.62 L500.28,398.65 L501.44,398.68 L502.60,398.71 L503.76,398.73 L504.92,398.75 L506.07,398.77 L507.23,398.79 L508.39,398.81 L509.55,398.83 L510.71,398.84 L511.87,398.86 L513.02,398.87 L514.18,398.88 L515.34,398.89 L516.50,398.91 L517.66,398.92 L518.82,398.92 L519.97,398.93 L521.13,398.94 L522.29,398.95 L523.45,398.95 L524.61,398.96 L525.77,398.96 L526.92,398.97 L528.08,398.97 L529.24,398.98 L530.40,398.98 L531.56,398.98 L532.72,398.99 L533.88,398.99 L535.03,398.99 L536.19,398.99 L537.35,398.99 L538.51,399.00 L539.67,399.00 L540.82,399.00 L541.98,399.00 L543.14,399.00 L544.30,399.00" stroke="#3fae78"/><path d="M405.30,332.80 L406.46,337.95 L407.62,342.73 L408.78,347.04 L409.93,350.78 L411.09,354.00 L412.25,356.95 L413.41,359.67 L414.57,362.18 L415.73,364.48 L416.88,366.60 L418.04,368.55 L419.20,370.51 L420.36,372.24 L421.52,373.91 L422.68,375.52 L423.83,377.05 L424.99,378.52 L426.15,379.92 L427.31,381.25 L428.47,382.50 L429.62,383.68 L430.78,384.79 L431.94,385.88 L433.10,386.99 L434.26,388.11 L435.42,389.21 L436.57,390.27 L437.73,391.26 L438.89,392.17 L440.05,392.95 L441.21,393.60 L442.37,394.08 L443.52,394.37 L444.68,394.51 L445.84,394.63 L447.00,394.75 L448.16,394.86 L449.32,394.97 L450.48,395.07 L451.63,395.17 L452.79,395.27 L453.95,395.37 L455.11,395.46 L456.27,395.54 L457.43,395.62 L458.58,395.70 L459.74,395.78 L460.90,395.86 L462.06,395.93 L463.22,396.00 L464.38,396.06 L465.53,396.11 L466.69,396.16 L467.85,396.18 L469.01,396.19 L470.17,396.20 L471.32,396.22 L472.48,396.25 L473.64,396.29 L474.80,396.33 L475.96,396.38 L477.12,396.43 L478.27,396.49 L479.43,396.55 L480.59,396.61 L481.75,396.67 L482.91,396.74 L484.07,396.81 L485.22,396.89 L486.38,396.97 L487.54,397.06 L488.70,397.16 L489.86,397.25 L491.02,397.35 L492.17,397.44 L493.33,397.53 L494.49,397.61 L495.65,397.69 L496.81,397.76 L497.97,397.83 L499.12,397.90 L500.28,397.96 L501.44,398.03 L502.60,398.09 L503.76,398.15 L504.92,398.21 L506.07,398.26 L507.23,398.31 L508.39,398.35 L509.55,398.39 L510.71,398.43 L511.87,398.47 L513.02,398.51 L514.18,398.55 L515.34,398.58 L516.50,398.62 L517.66,398.65 L518.82,398.67 L519.97,398.70 L521.13,398.72 L522.29,398.73 L523.45,398.75 L524.61,398.77 L525.77,398.78 L526.92,398.80 L528.08,398.81 L529.24,398.83 L530.40,398.84 L531.56,398.85 L532.72,398.87 L533.88,398.88 L535.03,398.89 L536.19,398.90 L537.35,398.91 L538.51,398.91 L539.67,398.92 L540.82,398.92 L541.98,398.93 L543.14,398.93 L544.30,398.93" stroke="#b070f0"/><path d="M405.30,330.93 L406.46,336.37 L407.62,341.38 L408.78,345.87 L409.93,349.75 L411.09,353.08 L412.25,356.13 L413.41,358.94 L414.57,361.51 L415.73,363.87 L416.88,366.03 L418.04,368.00 L419.20,370.03 L420.36,371.77 L421.52,373.44 L422.68,375.04 L423.83,376.58 L424.99,378.05 L426.15,379.45 L427.31,380.77 L428.47,382.02 L429.62,383.19 L430.78,384.28 L431.94,385.34 L433.10,386.44 L434.26,387.54 L435.42,388.62 L436.57,389.66 L437.73,390.63 L438.89,391.51 L440.05,392.28 L441.21,392.90 L442.37,393.36 L443.52,393.64 L444.68,393.76 L445.84,393.86 L447.00,393.95 L448.16,394.03 L449.32,394.10 L450.48,394.17 L451.63,394.23 L452.79,394.28 L453.95,394.33 L455.11,394.37 L456.27,394.41 L457.43,394.45 L458.58,394.49 L459.74,394.53 L460.90,394.56 L462.06,394.59 L463.22,394.62 L464.38,394.65 L465.53,394.67 L466.69,394.69 L467.85,394.69 L469.01,394.70 L470.17,394.70 L471.32,394.72 L472.48,394.76 L473.64,394.80 L474.80,394.86 L475.96,394.93 L477.12,395.01 L478.27,395.10 L479.43,395.19 L480.59,395.28 L481.75,395.37 L482.91,395.47 L484.07,395.57 L485.22,395.70 L486.38,395.83 L487.54,395.97 L488.70,396.12 L489.86,396.27 L491.02,396.42 L492.17,396.57 L493.33,396.71 L494.49,396.84 L495.65,396.96 L496.81,397.07 L497.97,397.18 L499.12,397.28 L500.28,397.39 L501.44,397.49 L502.60,397.58 L503.76,397.68 L504.92,397.76 L506.07,397.85 L507.23,397.92 L508.39,397.99 L509.55,398.06 L510.71,398.12 L511.87,398.18 L513.02,398.24 L514.18,398.30 L515.34,398.35 L516.50,398.40 L517.66,398.45 L518.82,398.49 L519.97,398.53 L521.13,398.56 L522.29,398.58 L523.45,398.61 L524.61,398.63 L525.77,398.66 L526.92,398.68 L528.08,398.70 L529.24,398.73 L530.40,398.75 L531.56,398.77 L532.72,398.79 L533.88,398.80 L535.03,398.82 L536.19,398.84 L537.35,398.85 L538.51,398.86 L539.67,398.87 L540.82,398.88 L541.98,398.88 L543.14,398.88 L544.30,398.88" stroke="#d8a020"/><path d="M405.30,329.06 L406.46,334.29 L407.62,339.16 L408.78,343.55 L409.93,347.36 L411.09,350.64 L412.25,353.70 L413.41,356.55 L414.57,359.18 L415.73,361.59 L416.88,363.77 L418.04,365.71 L419.20,367.65 L420.36,369.38 L421.52,371.06 L422.68,372.68 L423.83,374.22 L424.99,375.70 L426.15,377.09 L427.31,378.39 L428.47,379.61 L429.62,380.72 L430.78,381.72 L431.94,382.68 L433.10,383.67 L434.26,384.67 L435.42,385.65 L436.57,386.59 L437.73,387.46 L438.89,388.24 L440.05,388.91 L441.21,389.44 L442.37,389.81 L443.52,389.99 L444.68,390.02 L445.84,390.03 L447.00,390.02 L448.16,390.00 L449.32,389.98 L450.48,389.96 L451.63,389.94 L452.79,389.93 L453.95,389.93 L455.11,389.93 L456.27,389.94 L457.43,389.96 L458.58,389.98 L459.74,390.00 L460.90,390.02 L462.06,390.04 L463.22,390.05 L464.38,390.05 L465.53,390.06 L466.69,390.05 L467.85,390.04 L469.01,390.02 L470.17,390.01 L471.32,390.03 L472.48,390.08 L473.64,390.17 L474.80,390.28 L475.96,390.42 L477.12,390.57 L478.27,390.74 L479.43,390.93 L480.59,391.11 L481.75,391.31 L482.91,391.50 L484.07,391.72 L485.22,391.98 L486.38,392.26 L487.54,392.56 L488.70,392.88 L489.86,393.20 L491.02,393.53 L492.17,393.84 L493.33,394.14 L494.49,394.42 L495.65,394.67 L496.81,394.90 L497.97,395.13 L499.12,395.36 L500.28,395.58 L501.44,395.80 L502.60,396.01 L503.76,396.20 L504.92,396.39 L506.07,396.56 L507.23,396.72 L508.39,396.87 L509.55,397.00 L510.71,397.14 L511.87,397.27 L513.02,397.39 L514.18,397.51 L515.34,397.63 L516.50,397.73 L517.66,397.83 L518.82,397.92 L519.97,398.00 L521.13,398.06 L522.29,398.11 L523.45,398.16 L524.61,398.22 L525.77,398.27 L526.92,398.31 L528.08,398.36 L529.24,398.41 L530.40,398.45 L531.56,398.50 L532.72,398.54 L533.88,398.57 L535.03,398.61 L536.19,398.64 L537.35,398.67 L538.51,398.69 L539.67,398.71 L540.82,398.73 L541.98,398.74 L543.14,398.74 L544.30,398.74" stroke="#20d0e0"/><path d="M405.30,327.19 L406.46,332.15 L407.62,336.83 L408.78,341.09 L409.93,344.79 L411.09,348.01 L412.25,351.07 L413.41,353.95 L414.57,356.64 L415.73,359.09 L416.88,361.30 L418.04,363.21 L419.20,365.03 L420.36,366.76 L421.52,368.45 L422.68,370.07 L423.83,371.63 L424.99,373.11 L426.15,374.49 L427.31,375.78 L428.47,376.95 L429.62,378.00 L430.78,378.91 L431.94,379.76 L433.10,380.63 L434.26,381.52 L435.42,382.38 L436.57,383.21 L437.73,383.97 L438.89,384.64 L440.05,385.21 L441.21,385.63 L442.37,385.90 L443.52,385.98 L444.68,385.91 L445.84,385.79 L447.00,385.65 L448.16,385.47 L449.32,385.28 L450.48,385.07 L451.63,384.85 L452.79,384.64 L453.95,384.43 L455.11,384.23 L456.27,384.05 L457.43,383.89 L458.58,383.72 L459.74,383.56 L460.90,383.39 L462.06,383.23 L463.22,383.08 L464.38,382.93 L465.53,382.81 L466.69,382.69 L467.85,382.60 L469.01,382.53 L470.17,382.49 L471.32,382.52 L472.48,382.61 L473.64,382.76 L474.80,382.95 L475.96,383.19 L477.12,383.47 L478.27,383.78 L479.43,384.11 L480.59,384.45 L481.75,384.80 L482.91,385.16 L484.07,385.56 L485.22,386.03 L486.38,386.55 L487.54,387.11 L488.70,387.70 L489.86,388.30 L491.02,388.89 L492.17,389.48 L493.33,390.03 L494.49,390.55 L495.65,391.01 L496.81,391.44 L497.97,391.87 L499.12,392.29 L500.28,392.70 L501.44,393.10 L502.60,393.48 L503.76,393.84 L504.92,394.19 L506.07,394.51 L507.23,394.81 L508.39,395.07 L509.55,395.32 L510.71,395.57 L511.87,395.80 L513.02,396.04 L514.18,396.26 L515.34,396.47 L516.50,396.67 L517.66,396.85 L518.82,397.01 L519.97,397.15 L521.13,397.27 L522.29,397.36 L523.45,397.45 L524.61,397.55 L525.77,397.64 L526.92,397.73 L528.08,397.82 L529.24,397.90 L530.40,397.98 L531.56,398.06 L532.72,398.13 L533.88,398.20 L535.03,398.27 L536.19,398.32 L537.35,398.38 L538.51,398.42 L539.67,398.46 L540.82,398.49 L541.98,398.51 L543.14,398.52 L544.30,398.52" stroke="#98707e"/><path d="M405.30,323.45 L406.46,328.24 L407.62,332.82 L408.78,337.02 L409.93,340.69 L411.09,343.90 L412.25,347.02 L413.41,350.00 L414.57,352.81 L415.73,355.36 L416.88,357.62 L418.04,359.52 L419.20,361.23 L420.36,362.95 L421.52,364.65 L422.68,366.29 L423.83,367.86 L424.99,369.35 L426.15,370.73 L427.31,371.98 L428.47,373.09 L429.62,374.05 L430.78,374.82 L431.94,375.50 L433.10,376.22 L434.26,376.93 L435.42,377.64 L436.57,378.30 L437.73,378.90 L438.89,379.42 L440.05,379.82 L441.21,380.09 L442.37,380.21 L443.52,380.15 L444.68,379.93 L445.84,379.65 L447.00,379.33 L448.16,378.97 L449.32,378.58 L450.48,378.18 L451.63,377.77 L452.79,377.37 L453.95,376.99 L455.11,376.63 L456.27,376.30 L457.43,376.01 L458.58,375.72 L459.74,375.42 L460.90,375.13 L462.06,374.85 L463.22,374.58 L464.38,374.33 L465.53,374.10 L466.69,373.90 L467.85,373.74 L469.01,373.62 L470.17,373.55 L471.32,373.58 L472.48,373.71 L473.64,373.93 L474.80,374.23 L475.96,374.59 L477.12,375.02 L478.27,375.49 L479.43,375.99 L480.59,376.52 L481.75,377.06 L482.91,377.60 L484.07,378.23 L485.22,378.95 L486.38,379.76 L487.54,380.62 L488.70,381.53 L489.86,382.45 L491.02,383.38 L492.17,384.28 L493.33,385.14 L494.49,385.94 L495.65,386.66 L496.81,387.32 L497.97,387.98 L499.12,388.63 L500.28,389.26 L501.44,389.88 L502.60,390.47 L503.76,391.04 L504.92,391.57 L506.07,392.07 L507.23,392.52 L508.39,392.94 L509.55,393.32 L510.71,393.69 L511.87,394.06 L513.02,394.42 L514.18,394.77 L515.34,395.09 L516.50,395.40 L517.66,395.68 L518.82,395.92 L519.97,396.14 L521.13,396.32 L522.29,396.47 L523.45,396.61 L524.61,396.75 L525.77,396.89 L526.92,397.03 L528.08,397.17 L529.24,397.30 L530.40,397.42 L531.56,397.54 L532.72,397.66 L533.88,397.76 L535.03,397.86 L536.19,397.95 L537.35,398.03 L538.51,398.10 L539.67,398.15 L540.82,398.20 L541.98,398.23 L543.14,398.25 L544.30,398.25" stroke="#a0a030"/></g>
<rect x="405.3" y="295.4" width="139.00" height="112.20" fill="none" stroke="#606060" stroke-width="0.9"/>
<path d="M403.50,407.60H405.30M404.30,398.25H405.30M403.50,388.90H405.30M404.30,379.55H405.30M403.50,370.20H405.30M404.30,360.85H405.30M403.50,351.50H405.30M404.30,342.15H405.30M403.50,332.80H405.30M404.30,323.45H405.30M403.50,314.10H405.30M404.30,304.75H405.30M403.50,295.40H405.30M405.30,407.60V409.40M416.88,407.60V408.60M428.47,407.60V409.40M440.05,407.60V408.60M451.63,407.60V409.40M463.22,407.60V408.60M474.80,407.60V409.40M486.38,407.60V408.60M497.97,407.60V409.40M509.55,407.60V408.60M521.13,407.60V409.40M532.72,407.60V408.60M544.30,407.60V409.40" stroke="#5a5a5a" stroke-width="0.7" fill="none"/>
<text x="401.90" y="409.30" font-family='"Liberation Serif", serif' font-size="5.0" text-anchor="end" fill="#444" >0.0</text>
<text x="405.30" y="414.90" font-family='"Liberation Serif", serif' font-size="4.9" text-anchor="middle" fill="#444" >300</text>
<text x="401.90" y="390.60" font-family='"Liberation Serif", serif' font-size="5.0" text-anchor="end" fill="#444" >0.1</text>
<text x="428.47" y="414.90" font-family='"Liberation Serif", serif' font-size="4.9" text-anchor="middle" fill="#444" >350</text>
<text x="401.90" y="371.90" font-family='"Liberation Serif", serif' font-size="5.0" text-anchor="end" fill="#444" >0.2</text>
<text x="451.63" y="414.90" font-family='"Liberation Serif", serif' font-size="4.9" text-anchor="middle" fill="#444" >400</text>
<text x="401.90" y="353.20" font-family='"Liberation Serif", serif' font-size="5.0" text-anchor="end" fill="#444" >0.3</text>
<text x="474.80" y="414.90" font-family='"Liberation Serif", serif' font-size="4.9" text-anchor="middle" fill="#444" >450</text>
<text x="401.90" y="334.50" font-family='"Liberation Serif", serif' font-size="5.0" text-anchor="end" fill="#444" >0.4</text>
<text x="497.97" y="414.90" font-family='"Liberation Serif", serif' font-size="4.9" text-anchor="middle" fill="#444" >500</text>
<text x="401.90" y="315.80" font-family='"Liberation Serif", serif' font-size="5.0" text-anchor="end" fill="#444" >0.5</text>
<text x="521.13" y="414.90" font-family='"Liberation Serif", serif' font-size="4.9" text-anchor="middle" fill="#444" >550</text>
<text x="401.90" y="297.10" font-family='"Liberation Serif", serif' font-size="5.0" text-anchor="end" fill="#444" >0.6</text>
<text x="544.30" y="414.90" font-family='"Liberation Serif", serif' font-size="4.9" text-anchor="middle" fill="#444" >600</text>
<text x="474.80" y="421.90" font-family='"Liberation Serif", serif' font-size="7.5" text-anchor="middle" fill="#222" >Wavelength (nm)</text>
<text x="0" y="0" font-family='"Liberation Serif", serif' font-size="7.6" text-anchor="middle" fill="#222" transform="translate(394.70,347.90) rotate(-90)">Absorbance</text>
<path d="M508.80,299.20H522.80" stroke="#7c7c7c" stroke-width="0.9" opacity="0.75"/>
<text x="524.50" y="301.30" font-family='"Liberation Serif", serif' font-size="6.1" text-anchor="start" fill="#222" >Blank</text>
<path d="M508.80,307.02H522.80" stroke="#f06060" stroke-width="0.9" opacity="0.75"/>
<text x="524.50" y="309.12" font-family='"Liberation Serif", serif' font-size="6.1" text-anchor="start" fill="#222" >2uM</text>
<path d="M508.80,314.84H522.80" stroke="#4f86e6" stroke-width="0.9" opacity="0.75"/>
<text x="524.50" y="316.94" font-family='"Liberation Serif", serif' font-size="6.1" text-anchor="start" fill="#222" >5uM</text>
<path d="M508.80,322.66H522.80" stroke="#3fae78" stroke-width="0.9" opacity="0.75"/>
<text x="524.50" y="324.76" font-family='"Liberation Serif", serif' font-size="6.1" text-anchor="start" fill="#222" >10uM</text>
<path d="M508.80,330.48H522.80" stroke="#b070f0" stroke-width="0.9" opacity="0.75"/>
<text x="524.50" y="332.58" font-family='"Liberation Serif", serif' font-size="6.1" text-anchor="start" fill="#222" >20uM</text>
<path d="M508.80,338.30H522.80" stroke="#d8a020" stroke-width="0.9" opacity="0.75"/>
<text x="524.50" y="340.40" font-family='"Liberation Serif", serif' font-size="6.1" text-anchor="start" fill="#222" >40uM</text>
<path d="M508.80,346.12H522.80" stroke="#20d0e0" stroke-width="0.9" opacity="0.75"/>
<text x="524.50" y="348.22" font-family='"Liberation Serif", serif' font-size="6.1" text-anchor="start" fill="#222" >60uM</text>
<path d="M508.80,353.94H522.80" stroke="#98707e" stroke-width="0.9" opacity="0.75"/>
<text x="524.50" y="356.04" font-family='"Liberation Serif", serif' font-size="6.1" text-anchor="start" fill="#222" >80uM</text>
<path d="M508.80,361.76H522.80" stroke="#a0a030" stroke-width="0.9" opacity="0.75"/>
<text x="524.50" y="363.86" font-family='"Liberation Serif", serif' font-size="6.1" text-anchor="start" fill="#222" >100uM</text>
<text x="379.4" y="296.0" font-family='"Liberation Serif", serif' font-size="25.3" text-anchor="start" fill="#000" stroke="#000" stroke-width="0.45" >g</text>
</svg>
</body></html>
